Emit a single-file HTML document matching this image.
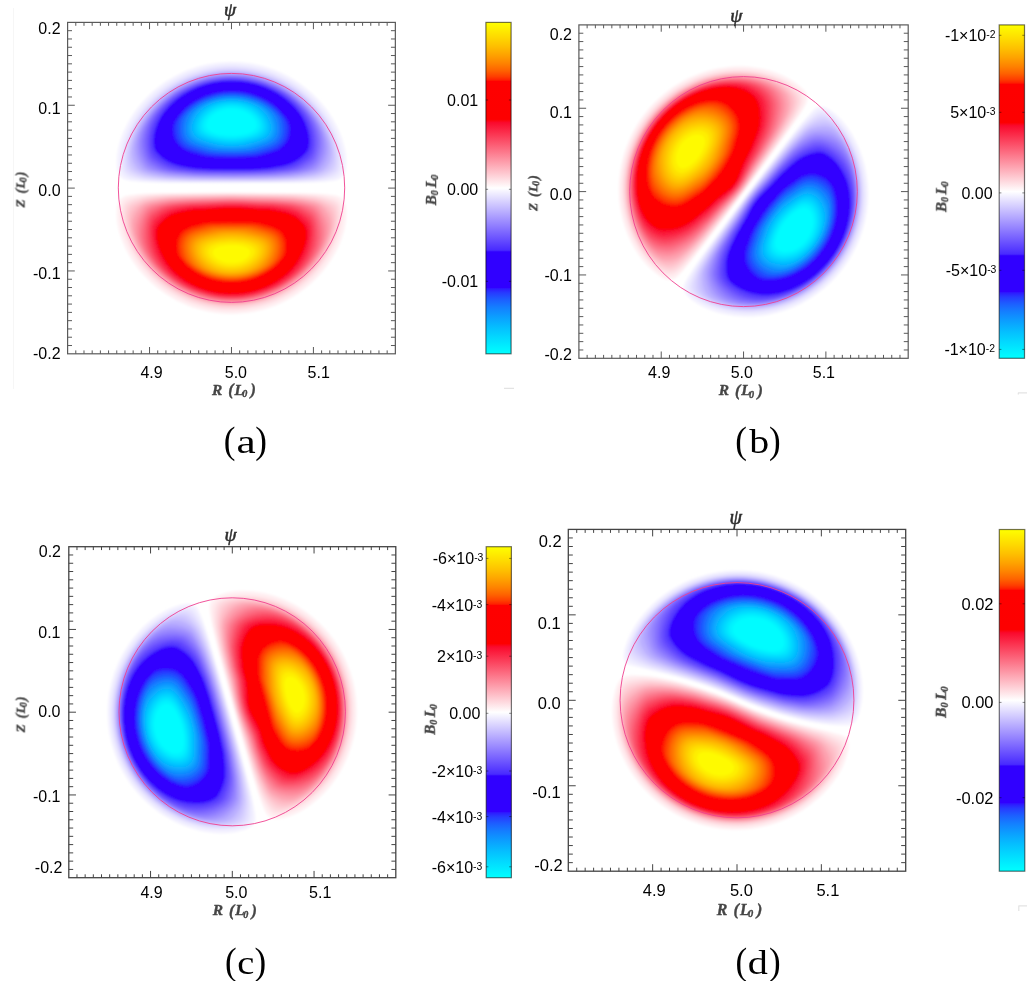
<!DOCTYPE html>
<html lang="en"><head><meta charset="utf-8"><title>psi perturbation panels</title>
<style>html,body{margin:0;padding:0;background:#fff;overflow:hidden}svg{display:block}</style></head>
<body>
<svg width="1027" height="981" viewBox="0 0 1027 981">
<defs><linearGradient id="cb" x1="0" y1="0" x2="0" y2="1"><stop offset="0" stop-color="#feff00"/><stop offset="0.0177" stop-color="#fef000"/><stop offset="0.0444" stop-color="#fed900"/><stop offset="0.071" stop-color="#fec000"/><stop offset="0.0976" stop-color="#fea300"/><stop offset="0.1242" stop-color="#fe8200"/><stop offset="0.1456" stop-color="#fe6200"/><stop offset="0.1633" stop-color="#fe3e00"/><stop offset="0.1722" stop-color="#fe2400"/><stop offset="0.1757" stop-color="#fe1300"/><stop offset="0.1775" stop-color="#fe0000"/><stop offset="0.2925" stop-color="#fd0000"/><stop offset="0.3025" stop-color="#fa0a2d"/><stop offset="0.5" stop-color="#ffffff"/><stop offset="0.6875" stop-color="#482aff"/><stop offset="0.6925" stop-color="#3000ff"/><stop offset="0.8" stop-color="#3000ff"/><stop offset="0.802" stop-color="#2f12ff"/><stop offset="0.806" stop-color="#2c21ff"/><stop offset="0.816" stop-color="#273bff"/><stop offset="0.836" stop-color="#1d5eff"/><stop offset="0.86" stop-color="#147fff"/><stop offset="0.89" stop-color="#0ba0ff"/><stop offset="0.92" stop-color="#05beff"/><stop offset="0.95" stop-color="#02d8ff"/><stop offset="0.98" stop-color="#00f0ff"/><stop offset="1" stop-color="#00ffff"/></linearGradient><filter id="bl" x="-20%" y="-20%" width="140%" height="140%"><feGaussianBlur stdDeviation="0.4"/></filter><filter id="fb" x="-5%" y="-5%" width="110%" height="110%"><feGaussianBlur stdDeviation="0.8"/></filter></defs>
<rect width="1027" height="981" fill="#fff"/>
<g filter="url(#fb)"><path fill="#fff2f4" d="M235.1 313.9l-6 0.1l-7-0.3l-4-0.4l-7-1l-5-1l-7-1.7l-7-2.2l-5-1.9l-5-2.2l-6-2.9l-5-2.8l-5-3.1l-6-4.2l-4-3.1l-4-3.4l-5-4.7l-4.8-5.2l-3.4-4l-3.1-4l-4.1-6l-3-5l-3.2-6l-2.6-6l-2.3-6l-1.8-6l-1.3-6l-0.8-6l-0.2-5l0.2-6l0.6-3l1-3l0.8-1.4l1.4-1.6l2.6-2l2-1l2-0.5l7-1l11-0.9l26-0.6l60-0.3l60 0.3l27 0.6l11 0.9l7 1.1l3 1l2 1.2l1.4 1.2l1.6 2l1.3 3l0.8 3l0.3 5l-0.1 5l-0.6 6l-1.1 6l-1.4 5l-1.6 5l-2.4 6l-2.8 6l-2.8 5l-3.1 5l-4.2 6l-4 5l-3.5 4l-3.9 4l-4.9 4.6l-5 4.1l-4 3l-4 2.8l-5 3.1l-5 2.8l-6 2.9l-5 2.2l-5 1.9l-6 1.9l-5 1.3l-8 1.7l-6 0.9l-5 0.5z"/>
<path fill="#ffebee" d="M245.1 311l-6 0.6l-6 0.2l-7-0.1l-6-0.4l-6-0.8l-6-1l-5-1.2l-7-1.9l-6-2.1l-5-2.1l-6-2.7l-6-3.3l-5-3l-5-3.4l-6-4.7l-4-3.5l-4.9-4.7l-3.7-4l-4.1-5l-3.7-5l-3.9-6l-3.3-6l-2.8-6l-2-5l-2.2-7l-1.6-7l-1-6l-0.4-5l-0.1-4l0.4-4l1.1-3l1.2-2l1-1.4l1.8-1.6l1.2-0.7l4-1.3l9-1.6l8-0.9l12-0.6l12-0.3l56-0.4l62 0.4l12 0.2l13 0.6l8 0.7l10 1.7l4 1.2l2 1l1 0.9l1.8 2.1l1.7 3l0.6 2l0.3 3l0 5l-0.5 6l-1.1 6l-1.1 5l-1.5 5l-1.7 5l-2.1 5l-3 6l-2.9 5l-2.6 4l-3.6 5l-3.2 4l-3.5 4l-3.9 4l-4.4 4l-4.3 3.6l-8 5.9l-5 3.1l-5 2.8l-9 4.3l-5 1.9l-6 2.1l-6 1.7l-5 1.1z"/>
<path fill="#fee4e8" d="M240.1 309.9l-6 0.3l-6 0l-6-0.3l-6-0.7l-5-0.7l-6-1.3l-6-1.6l-6-1.9l-6-2.3l-5-2.3l-5-2.5l-5-2.8l-5-3.2l-4-2.9l-5-3.9l-4.3-3.9l-4.1-4l-4.5-5l-4-5l-3.6-5l-3.1-5l-2.8-5l-2.8-6l-2.4-6l-2-6l-1.6-6l-1-6l-0.4-5l0.1-5l0.6-4l1.3-3l1.4-2l1.2-1.1l1.6-0.9l4.4-1.6l9-2.1l8-1l12-0.7l12-0.4l58-0.5l59 0.5l12 0.4l12 0.7l8 1.1l9 2.1l4.2 1.5l1.7 1l1.1 1l1.4 2l1.3 3l0.6 4l0.2 3l-0.2 4l-0.6 5l-1 5l-1.3 5l-2 6l-1.9 5l-2.8 6l-2.1 4l-3 5l-3.4 5l-3.8 5l-3.4 4l-3.8 4l-4.2 4l-4 3.5l-4 3.1l-4 2.9l-5 3.2l-9 4.9l-6 2.8l-5 1.9l-10 3.2l-10 2.2l-6 0.9z"/>
<path fill="#fedde2" d="M234.1 308.9l-5 0.1l-6-0.3l-5-0.5l-6-0.9l-6-1.2l-6-1.5l-10-3.4l-5-2.1l-5-2.4l-9-5.2l-5-3.3l-4.3-3.3l-4.7-3.9l-4-3.7l-4.1-4.4l-4.3-5l-3.9-5l-3.3-5l-3.1-5l-2.6-5l-2.3-5l-2-5l-1.6-5l-1.3-5l-0.9-5l-0.5-5l0.1-5l0.6-5l0.7-2l1.5-2.3l1-0.9l2-1.3l2-0.9l3-1.1l8-2.2l7-1.1l12-0.9l12-0.5l15-0.3l41-0.4l58 0.6l12 0.4l11 0.8l7 0.7l7 1.5l5 1.5l3 1.1l2 0.9l2.1 1.4l1.7 2l0.9 2l0.7 4l0.3 5l-0.1 4l-0.7 5l-1.1 5l-1.4 5l-1.8 5l-2.1 5l-2.9 6l-2.9 5l-3.2 5l-2.9 4l-4 5l-4.5 5l-4.1 4l-4 3.6l-8 6.2l-4 2.7l-5 3l-5 2.6l-5 2.4l-5 2.1l-5 1.7l-5 1.6l-6 1.5l-6 1.1l-5 0.8l-5 0.5z"/>
<path fill="#fed6dc" d="M245.1 307l-6 0.6l-6 0.2l-6 0l-6-0.4l-6-0.8l-6-1l-5-1.2l-6-1.7l-6-2l-5-2.1l-5-2.3l-5-2.6l-5-3l-5-3.3l-4-3l-5-4.2l-4-3.6l-4.5-4.7l-4.3-5l-3.9-5l-2.7-4l-3.1-5l-2.6-5l-2.4-5l-1.9-5l-1.9-6l-1.1-5l-0.7-5l-0.3-6l0.4-5l0.9-4l1.1-1.6l1.5-1.4l1.5-1l3-1.5l3-1.1l7.6-2.4l3.4-0.7l4-0.5l12-1l11-0.5l15-0.3l40-0.4l56 0.6l12 0.5l11 0.8l8 0.9l6 1.4l8 2.8l2.8 1.4l2.2 1.7l1.3 1.3l0.6 1l0.3 1l0.8 4l0.2 4l-0.2 5l-0.4 4l-1 5l-1.4 5l-1.7 5l-2.1 5l-2 4l-2.7 5l-3.2 5l-2.8 4l-3.1 4l-3.4 4l-3.2 3.4l-4 3.9l-7 6l-3 2.3l-6 4.1l-9 5.1l-9 4.1l-5 1.9l-5 1.6l-9 2.2z"/>
<path fill="#fecfd6" d="M245.1 305.9l-5 0.6l-5 0.3l-6 0l-6-0.3l-10-1.2l-5-1l-8-2l-6-2l-5-1.9l-5-2.2l-5-2.5l-4-2.3l-6-3.8l-4-2.9l-5-3.9l-5-4.5l-4-4l-4.7-5.4l-3.1-4l-3.5-5l-3.1-5l-2.7-5l-2.3-5l-1.9-5l-1.8-6l-1.2-6l-0.5-4l-0.3-5l0.3-4l0.8-3.9l1-2.1l2-1.9l2-1.3l3-1.5l4-1.7l4-1.4l3-0.7l7-1.1l11-1l11-0.5l14-0.4l40-0.5l48 0.6l18 0.6l12 0.9l8 1l6 1.5l3.8 1.4l4.5 2l2.7 1.6l1.9 1.4l1.1 1.4l1.1 2.6l0.5 3l0.3 4l-0.3 5l-0.6 5l-0.8 4l-1.4 5l-1.4 4l-2.1 5l-1.9 4l-2.8 5l-5.2 8l-3.1 4l-3.4 4l-6.9 7.1l-4 3.6l-4 3.2l-8 5.6l-5 3l-4 2.2l-8 3.7l-9 3.3l-6 1.7l-5 1.2z"/>
<path fill="#fec8d0" d="M234.1 306l-5 0l-6-0.3l-5-0.5l-6-0.9l-5-1l-7-1.8l-9-3.1l-9-4l-9-5.1l-4-2.6l-5-3.6l-4-3.3l-4.3-3.9l-4-4l-3.6-4l-3.2-4l-3.6-5l-2.6-4l-2.8-5l-2.4-5l-2.1-5l-1.9-6l-1-4l-0.9-5l-0.4-5l0-4l0.7-4l1.1-2.9l1.4-2.1l1.6-1.3l2.8-1.7l4-2l4.2-1.7l5-1.3l9-1.3l12-1l17-0.6l45-0.7l46 0.7l17 0.6l11 0.9l9 1.2l3 0.7l3 0.9l4 1.6l4 2l3 1.8l1.4 1.2l1.6 2.6l0.9 2.4l0.6 3l0.2 4l-0.4 5l-0.8 5l-0.9 4l-1.9 6l-1.5 4l-2.3 5l-2.6 5l-2.5 4l-3.4 5l-3.1 4l-3.4 4l-3.8 4l-4.1 3.9l-4 3.5l-8 5.9l-5 3.2l-4 2.3l-5 2.5l-5 2.3l-8 2.9l-6 1.8l-5 1.3l-5 0.9l-6 0.9z"/>
<path fill="#fec1ca" d="M240.1 305l-5 0.3l-6 0l-5-0.2l-6-0.6l-7-1.1l-5-1l-10-2.9l-5-1.8l-5-2.2l-5-2.4l-5-2.7l-5-3.1l-4-2.8l-5-3.9l-4.2-3.7l-4.2-4l-3.7-4l-3.3-4l-3.7-5l-3.3-5l-2.8-5l-2.4-5l-2-5l-1.9-6l-1.2-5l-0.8-5l-0.2-5l0.2-3l0.8-3l1.3-3l2.3-3l2.1-1.5l4.5-2.5l5.5-2.3l5-1.2l10-1.4l10-0.9l17-0.7l44-0.6l45 0.6l16 0.7l10.4 0.8l10.6 1.5l5 1.3l5.3 2.2l3.7 2.1l2.9 1.9l2.1 2.8l1.2 2.2l0.9 3l0.4 3l-0.1 4l-0.4 4l-0.7 4l-1.6 6l-1.3 4l-2 5l-1.9 4l-2.7 5l-3.2 5l-2.8 4l-3.2 4l-3.5 4l-7.2 7l-3.9 3.3l-4 3.1l-8 5.3l-9 4.9l-9 3.8l-6 2.1l-4 1.2l-9 2l-6 0.9z"/>
<path fill="#febac4" d="M244.1 304l-5 0.5l-6 0.3l-6-0.1l-5-0.3l-7-0.9l-5-0.8l-5-1.2l-5-1.3l-5-1.7l-6-2.3l-6-2.7l-4-2.1l-5-2.9l-5-3.3l-5-3.7l-4-3.4l-4.5-4.2l-3.8-4l-4.3-5l-3.7-5l-3.2-5l-2.3-4l-2.9-6l-2-5l-1.9-6l-1.2-5l-0.6-5l-0.1-4l0.5-4l1-2.9l1.1-2.1l2.3-3l0.9-1l3-2l3.6-2l3.1-1.3l5-1.4l11-1.7l10-0.9l16-0.7l42-0.7l46 0.7l16 0.7l9 0.7l9 1.3l7 1.4l5 2l3.5 1.9l3 2l1.7 2l2 3l0.9 2l0.9 3.2l0.3 2.8l-0.1 4l-0.5 4l-0.8 4l-1.4 5l-1.8 5l-2.1 5l-2 4l-2.9 5l-2.6 4l-2.9 4l-3.3 4l-6.6 7l-7.3 6.3l-8 5.8l-4 2.5l-5 2.8l-9 4.2l-5 2l-5 1.6l-9 2.3l-5 0.9z"/>
<path fill="#fdb3be" d="M239.1 304l-5 0.2l-6 0l-6-0.4l-5-0.5l-6-1l-5-1.1l-10-2.9l-5-1.8l-5-2.2l-6-3l-5-2.9l-5-3.2l-4-2.9l-4.1-3.4l-4.5-4l-4-4l-4.3-5l-3.8-5l-3.4-5l-2.3-4l-3-6l-2.1-5l-2-6l-1.2-5l-0.6-4l-0.1-4l0.3-3l0.8-3l1.3-3l2-3l2.6-3l4.6-3l4.8-2.1l7-1.5l10-1.5l9-0.7l15-0.7l43-0.8l44 0.8l15 0.7l8 0.6l9 1.3l8 1.6l3 1.1l2 0.9l2.3 1.3l2.9 2l2.6 3l1.4 2l1.6 3l0.9 3l0.5 3l0 3l-0.4 4l-0.8 4l-1.3 5l-1.4 4l-2.1 5l-2.5 5l-2.8 5l-2.7 4l-3.7 5l-3.3 4l-3.8 4l-3.4 3.3l-4 3.5l-4 3.1l-8 5.5l-4 2.3l-5 2.6l-5 2.3l-5 2l-9 2.9l-10 2.2l-5 0.8z"/>
<path fill="#fdacb8" d="M244.1 303l-5 0.5l-6 0.2l-6 0l-6-0.5l-6-0.7l-6-1.1l-5-1.2l-6-1.7l-6-2.2l-5-2.1l-5-2.4l-5-2.8l-4-2.4l-5-3.5l-4.1-3.2l-4.6-4l-4.1-4l-4.5-5l-3.9-5l-3.4-5l-3-5l-3-6l-2.1-5l-1.7-5l-1.2-5l-0.6-4l0-4l0.3-3l0.9-3l1.3-3l2-3l3.3-4l1.4-1l3-1.8l2.6-1.2l2.4-0.8l8-1.6l9-1.3l8-0.7l14-0.6l43-0.9l43 0.8l15 0.7l8 0.7l9 1.3l8 1.7l2.2 0.7l2.8 1.3l2.9 1.7l1.3 1l2.6 3l2.1 3l1.1 2.1l1 2.5l0.8 3.4l0.3 3l-0.1 3l-0.4 3l-0.9 4l-1.5 5l-1.5 4l-2.2 5l-2.1 4l-3 5l-2.7 4l-3.8 5l-6.3 7l-3.6 3.4l-4.1 3.6l-7.9 5.8l-4 2.6l-5 2.8l-9 4.3l-9 3.3l-5 1.5l-5 1.2l-5 0.9z"/>
<path fill="#fda1af" d="M239.1 303l-5 0.2l-6 0l-6-0.3l-5-0.6l-6-1l-5-1.1l-5-1.3l-5-1.6l-5-1.9l-6-2.7l-5-2.6l-5-2.9l-4.9-3.3l-4-3l-4.1-3.3l-4-3.7l-4-4.1l-4.1-4.9l-3.7-5l-3.3-5l-3.3-6l-2.3-5l-1.9-5l-1.5-5l-0.8-4l-0.2-3l0.1-3.7l0.6-3.3l1.1-3l1.5-3l2-3l3.2-4l3.6-2.3l4.3-1.7l9.1-2l9.6-1.3l7-0.6l14-0.7l42-0.8l43 0.8l14 0.7l7 0.6l9 1.2l9 2l4 1.5l3 1.6l1.4 1l2.5 3l2.1 3l1.7 3l1.2 3l0.7 3l0.3 3l0 3l-0.6 4l-0.9 4l-1.7 5l-2 5l-2 4l-2.2 4l-3.2 5l-3.6 5l-3.3 4l-3.7 4l-3 3l-4.5 4l-3.8 3l-4.1 3l-4.3 2.8l-5 2.8l-4 2.1l-9 3.9l-5 1.7l-5 1.5l-5 1.2l-5 0.9l-5 0.7z"/>
<path fill="#fd93a3" d="M241.1 301.9l-6 0.4l-6 0l-5-0.2l-6-0.6l-6-0.9l-5-1.1l-5-1.3l-6-1.9l-5-2l-5-2.2l-5-2.5l-4.5-2.7l-4.6-3l-4.9-3.6l-4-3.4l-4-3.6l-4.2-4.4l-4.2-5l-3-4l-3.3-5l-2.8-5l-2.4-5l-1.9-5l-1.1-4l-0.7-4l-0.2-3l0.3-4l0.6-3l1-3l1.9-4l2.5-4l2.5-3.2l0.8-0.8l1.6-1l2.1-1l2.5-0.8l9-2.1l9-1.4l7-0.6l13-0.7l41-1l43 0.9l20 1.3l8 1.1l8 1.8l5 1.4l2.4 1.1l1.6 1.1l2.6 2.9l2 3l2.2 4l1.2 2.8l1 3.2l0.4 3l0.2 3l-0.2 3l-0.5 3l-1 4l-1.8 5l-1.8 4l-2.6 5l-2.4 4l-2.8 4l-3.1 4l-6.4 7.1l-4 3.9l-4 3.4l-4 3.1l-4 2.8l-4.3 2.7l-4.7 2.6l-9 4.2l-5 1.8l-5 1.6l-5 1.4l-5 1l-5 0.8z"/>
<path fill="#fd8597" d="M242.1 300.9l-6 0.5l-6 0.1l-6-0.3l-5-0.5l-6-0.9l-5-1l-5-1.3l-6-1.9l-5-1.9l-5-2.2l-6-3l-4-2.4l-4-2.6l-5-3.7l-4-3.3l-3.9-3.6l-3.9-4l-3.5-4l-3.1-4l-3.4-5l-2.9-5l-2.3-4.8l-1.5-4.2l-1.1-4l-0.7-4l-0.1-3l0.2-4l0.6-3l1.3-4l2.2-5l1.8-3l2.3-3l2.3-2l2.2-1l2.5-0.8l8.7-2.2l8.3-1.3l19-1.4l41-1.1l11 0.2l20 0.7l12 0.2l19 1.3l8 1.2l8 1.9l5 1.6l1.5 0.7l1.5 1.3l2 2.2l1.8 2.5l2 4l1.7 4l0.9 3l0.6 3l0.2 3l-0.1 4l-1.1 6l-1 3l-2 5l-2.1 4l-2.3 4l-2.7 4l-3 4l-6.2 7l-3.7 3.6l-4 3.5l-4 3.2l-5 3.5l-8 4.7l-9 4.2l-9 3.3l-5 1.4l-5 1.1l-5 0.9z"/>
<path fill="#fc778b" d="M243.1 299.9l-5 0.5l-6 0.2l-6-0.1l-5-0.4l-5-0.6l-6-1.1l-5-1.2l-6-1.8l-5-1.8l-5-2.1l-5-2.5l-5-2.7l-5-3.2l-4-2.9l-4.1-3.3l-4.5-4l-3.9-4l-3.5-4l-3.1-4l-2.8-4l-2.9-5l-1.9-4l-1.5-4l-1.1-4l-0.6-4l-0.2-4l0.2-3l0.7-4l1.5-5l1.7-4l1.7-3l2.3-2.9l1.2-1.1l1.8-1.2l1.6-0.8l2.8-1l7.6-2l8-1.3l19-1.5l41-1.1l10 0.1l20 0.8l12 0.2l12 0.8l7 0.7l7.8 1.3l7.6 2l2.8 1l1.8 1l2.7 2l1.7 2l1.9 3l1.4 3l1.4 4l1.1 4l0.5 3l0.2 3l-0.2 4l-0.4 3l-0.7 3l-0.9 3l-1.6 4l-2 4l-1.8 3l-2.6 4l-3 4l-3.4 4l-2.9 3l-3.4 3.3l-4 3.5l-4 3.1l-4 2.8l-8 4.8l-4 2l-5 2.3l-5 1.9l-5 1.7l-9 2.2z"/>
<path fill="#fc697f" d="M244.1 299l-5 0.5l-6 0.3l-6-0.1l-5-0.3l-6-0.8l-5-0.8l-5-1.2l-5-1.4l-5-1.7l-5-2l-5-2.3l-5-2.7l-5-3.1l-4-2.7l-4-3.1l-4.2-3.7l-4.1-4l-3.7-4l-3.1-4l-2.8-4l-2.4-4l-1.9-4l-1.5-4l-1.2-4l-0.6-4l-0.3-4l0.2-4l0.7-4l1.2-5l1.1-3l1.6-3.2l2-2.7l2.5-2.1l5.6-3l3-1l3.9-1l7-1.2l6.9-0.8l12.1-0.9l40-1.2l11 0.1l19 0.8l12 0.3l12 0.8l7 0.8l7.8 1.3l3.9 1l3 1l5.3 2.9l2 1.5l2 2.3l1.5 2.3l1.3 3l1 3l0.9 4l0.7 4l0.2 4l-0.1 3l-0.4 3l-0.7 3l-1.2 4l-1.2 3l-1.9 4l-1.8 3l-2.3 3.5l-2.6 3.5l-3.4 4l-2.8 3l-6.6 6l-7.6 5.7l-8 4.9l-8 3.9l-5 2l-5 1.7l-9 2.4z"/>
<path fill="#fc5b72" d="M236.1 299l-5 0.1l-6-0.2l-5-0.5l-5-0.7l-5-0.9l-5-1.2l-5-1.5l-5-1.8l-5-2.1l-4-1.9l-4.4-2.4l-4.6-2.8l-4-2.7l-4-3.1l-4-3.4l-3.1-3l-2.8-3l-3.4-4l-2.9-4l-1.8-3l-2.2-4l-1.7-4l-1-3l-1-4l-0.5-4l-0.1-4l0.2-4l0.7-5l1-4l1.2-3l1.4-2.5l2-2.4l1.4-1.1l3.2-2l5.9-3l4.5-1.2l6-1.1l7-0.8l12-0.9l12-0.3l19-0.8l10-0.2l10 0.2l18 0.8l12 0.3l12 0.9l7 0.8l6 1.1l4.3 1.2l5.9 3l3.2 2l1.6 1.4l2 2.5l1.2 2.1l1.2 3l0.7 3l0.9 5l0.3 4l0 4l-0.5 4l-0.8 4l-1 3l-1.1 3l-2 4l-3.9 6.4l-2.7 3.6l-2.6 3l-5.9 6l-3.5 3l-4.3 3.3l-4 2.8l-4 2.4l-4.5 2.5l-4.5 2.2l-9 3.6l-9 2.6l-5 1.1l-5 0.8z"/>
<path fill="#fb4d66" d="M240.1 298l-5 0.3l-5 0.1l-5-0.2l-5-0.5l-5-0.7l-5-0.9l-5-1.3l-5-1.5l-5-1.8l-5-2.1l-5-2.4l-3.6-2.1l-4.8-3l-4.2-3l-3.7-3l-3.4-3l-3-3l-3.6-4l-2.3-3l-2.6-4l-1.7-3l-1.9-4l-1.5-4l-1.1-4l-0.7-4l-0.3-5l0.2-5l0.4-4l0.7-3l1.1-3.4l1.4-2.6l1.6-1.9l4.1-3.1l5.9-3.3l4.1-1.7l5.9-1.2l7-0.9l12-1l12-0.3l18-0.9l10-0.1l10 0.1l18 0.9l13 0.3l12 1l7 0.9l5.7 1.2l4.3 1.8l5.7 3.2l4 3l1.7 2l1.1 2l1.1 3l0.8 3l0.5 4l0.3 4l0 4l-0.4 4l-0.8 4l-0.9 3l-2.4 6l-1.5 3l-2.5 4l-4.5 6l-5.7 6l-3.3 3l-3.8 3l-7.3 5l-8.1 4.4l-8.2 3.6l-8.8 2.9l-9 2z"/>
<path fill="#fb3f5a" d="M243.1 297l-5 0.5l-5 0.2l-5-0.1l-5-0.3l-5-0.5l-5-0.8l-5-1.1l-5-1.4l-4.9-1.6l-5.1-2l-8.3-4l-3.5-2l-4.6-3l-4.1-3l-3.6-3l-3.2-3l-2.8-3l-2.6-3l-2.9-4l-2.5-4l-1.6-3l-1.7-4l-1.3-4l-0.9-4l-0.7-5l-0.2-5l0.2-4l0.6-4l0.8-3l1.5-3l1.4-2l4-3.2l5-3.1l5-2.3l5-1.5l6.1-0.9l12.9-1.2l13-0.4l17-0.8l9-0.2l11 0.2l18 0.8l12 0.3l12 1.1l6 0.8l2.3 0.4l2.7 0.8l5.5 2.2l5.2 3l4.3 3.3l1.6 1.7l1.2 2l1.2 3l0.7 3l0.4 3l0.2 4l-0.2 4l-0.4 4l-0.7 4l-0.8 3l-2.3 6l-2 4l-1.8 3l-4.4 6l-2.7 3l-2.9 3l-5.8 5l-7.1 5l-7 4l-8.2 3.7l-8 2.9l-8 2z"/>
<path fill="#fb314e" d="M235.1 296.9l-9 0l-9.1-1l-4.9-0.8l-5-1.2l-9-2.8l-5.4-2.2l-4.2-2l-7.2-4l-7.1-5l-5.7-5l-5.6-6l-4.3-6l-1.8-3l-2-4l-1.2-3l-1.3-4l-0.9-4l-0.7-5l-0.3-4l0.1-4l0.3-3l0.7-3l1.3-3l1.4-2l4.6-4l2.9-2l2.4-1.4l3-1.4l3-1.2l6-1.5l4-0.6l12-1.3l12-0.3l16-0.8l10-0.3l11 0.2l18 0.9l12 0.3l14 1.6l7 1.6l5.6 2.2l5.1 3l2.7 2l2.6 2.3l1.5 1.7l1.1 2l1.1 3l0.5 3l0.3 3l0 4l-0.5 5l-0.7 4l-1 4l-1 3l-1.7 4l-1.5 3l-3.8 6l-4.9 6l-5.1 5l-6.3 5l-4.4 3l-3.4 2l-8 4l-8.2 3.2l-9 2.5l-9 1.6z"/>
<path fill="#fb2342" d="M239.1 296l-9 0.3l-9-0.6l-5.8-0.8l-4.2-0.8l-8.2-2.2l-8.1-3l-4.4-2l-3.9-2l-3.4-2l-4.5-3l-6.3-5l-3.1-3l-2.9-3l-4.6-6l-1.9-3l-2.2-4l-1.4-3l-1.4-4l-1.1-4l-1-5l-0.5-4l-0.2-4l0.2-3l0.6-3l1.1-3l1.3-2l1.9-2l3-2.6l5-3.4l5-2.3l6-1.7l7-1.3l8-1.1l13-0.4l22-1.1l13 0.1l19 1l11 0.2l5 0.5l7.6 1.1l7.4 1.5l5 1.7l3 1.4l2.4 1.4l2.9 2l2.4 2l3.3 3.5l1 1.6l1.1 2.9l0.6 3l0.2 3l-0.1 3l-0.4 4l-0.7 4l-1 4l-1.3 4l-1.2 3l-1.9 4l-1.8 3l-2.7 4l-2.4 3l-2.7 3l-3 3l-6.1 5l-5.8 4l-7.3 4l-6.8 3l-9.1 3l-9 2z"/>
<path fill="#fa1536" d="M242.1 294.9l-5 0.5l-5 0.1l-9-0.3l-8.9-1.3l-8.4-2l-8.7-3l-8-3.7l-7.1-4.3l-6.7-5l-3.3-3l-2.9-3l-2.6-3l-2.4-3.1l-2-3l-2.2-3.9l-1.8-4l-1.5-4l-1.2-4l-0.9-4l-0.7-4l-0.2-4l0.2-3l0.6-3l1.2-3l1.5-2l4.1-4l2.6-2l2.3-1.5l5-2.5l6-1.7l13-2.4l3-0.3l11-0.4l21-1.2l15 0.1l18 1l10 0.4l5 0.5l11.6 2l6.4 1.8l3 1.2l3 1.6l4.7 3.4l4.3 4.3l1.3 1.7l0.7 1.6l0.7 2.4l0.4 2l0.2 3l-0.1 3l-0.6 4l-0.8 4l-1.1 4l-1.5 4l-1.7 4l-1.6 3l-2.5 4l-2.2 3l-2.5 3l-2.8 3l-5.6 5l-5.4 4l-6.9 4.2l-3.7 1.8l-4.5 2l-8.7 3l-8.4 2z"/>
<path fill="#fa0a2d" d="M243.1 293.9l-9 0.7l-9-0.2l-8-0.9l-4-0.7l-5-1.2l-8.3-2.7l-4.8-2l-3.9-1.8l-7.1-4.2l-6.7-5l-3.4-3l-3-3l-2.8-3.2l-2.7-3.8l-2-3l-2.2-4l-1.8-4l-1.5-4l-1.2-4l-0.9-4l-0.5-4l-0.1-3l0.3-3l0.9-3l1-2l1.6-2l3.9-4l4.2-3.1l2-1.1l3-1.4l5-1.6l5-1.1l11-1.9l13-0.5l14-1.2l5-0.2l8-0.1l8 0.2l15 1.2l11 0.4l5 0.5l12 2.3l5.8 1.6l2.5 1l2.7 1.5l2.4 1.5l2.6 2l3.9 4l1.5 2l1.1 2l0.7 2l0.3 2l0.1 5l-0.3 3l-0.8 4l-1.2 4l-1.4 4l-1.3 3l-2 4l-2.4 4l-2.1 3l-4.1 5l-5.2 5l-6.5 5l-6.4 4l-7.9 3.8l-7 2.6l-8 2.2z"/>
<path fill="#fb061b" d="M238.1 294l-9 0.2l-8-0.6l-4.9-0.7l-4.1-0.8l-8-2.2l-7.9-3l-4.2-2l-3.7-2l-3.2-2l-4.3-3l-6-5l-2.9-3l-2.7-3l-2.3-3l-2.6-4l-1.7-3l-2-4l-1.9-5l-1.3-4l-0.9-4l-0.4-3l-0.1-3l0.2-3l0.4-2l0.8-2l1.3-2l2.5-3l2-2l2.4-2l4.5-2.9l4-1.7l6-1.6l11-2.1l3-0.3l12-0.5l15-1.2l8-0.4l11 0.3l16 1.2l12 0.5l4 0.5l11 2.1l6 1.6l3 1.3l2.4 1.2l2.9 2l2.4 2l3.7 4l1.6 2.2l0.9 1.8l0.6 2l0.4 3l-0.2 5l-0.5 3l-1 4l-1.3 4l-1.6 4l-2 4l-1.7 3l-2.6 3.9l-2.3 3.1l-2.7 3l-2.9 3l-6 5l-5.9 4l-7.2 3.9l-7.3 3.1l-7.7 2.4l-7.3 1.6z"/>
<path fill="#fc030d" d="M234.1 293.9l-8-0.1l-9-1l-8.7-1.9l-8.3-2.7l-7.4-3.3l-7-4l-3.6-2.4l-3.3-2.6l-5.4-5l-2.8-3l-3.1-4l-2.1-3l-2.3-4l-2-4l-1.6-4l-1.4-4l-1-4l-0.5-3l-0.2-3l0.2-3l0.5-2.8l0.9-2.2l0.7-1l2.3-3l1.9-2l3.5-3l2.7-1.8l2-1l5-1.9l6-1.5l9-1.7l4-0.5l11-0.4l16-1.2l9-0.3l8 0.2l17 1.3l12 0.5l3.2 0.3l8.8 1.7l6 1.3l3 1l2.5 1l4.5 2.7l4 3.4l2 2.1l2.2 2.8l0.8 1.4l0.7 1.6l0.5 2l0.3 3l-0.1 3l-0.4 3l-0.9 4l-1.3 4l-1.6 4l-1.9 4l-2.2 4l-2 3l-4.7 6l-5 5l-6.2 5l-6.3 4l-3.7 2l-4.3 2l-7.9 3l-7.6 2l-8.4 1.4z"/>
<path fill="#fe0000" d="M243.1 292.9l-9 0.8l-9-0.2l-5-0.5l-4-0.7l-8-1.8l-8-2.6l-4.6-2l-4-2l-6.7-4l-6.6-5l-3.3-3l-2.9-3l-2.9-3.5l-2.5-3.5l-1.9-3l-2.2-4l-1.8-4l-1.9-5l-1.1-4l-0.7-4l-0.1-3l0.1-3l0.4-2l0.8-2l1.2-2l2.4-3l1.9-2l2.3-2l4.1-2.8l4-1.8l6-1.7l11-2.2l3-0.4l13-0.6l14-1.1l7-0.3l11 0.1l16 1.3l11 0.4l5 0.5l11 2.1l6 1.6l2.4 0.9l2.6 1.4l2.6 1.6l2.4 1.9l2.2 2.1l1.8 2l2.7 4l0.8 2l0.4 2l0.1 2l0 3l-0.4 3l-0.9 4l-1 3l-1.5 4l-3.4 7l-2.5 4l-2.1 3l-4.3 5l-5.2 5l-6.6 5l-6.1 3.7l-6.9 3.3l-7.1 2.7l-8 2.1z"/>
<path fill="#fe1900" d="M233.1 281.9l-5 0l-5-0.3l-6-1l-4-1l-6-1.9l-5-2.1l-6-3.1l-6-4.1l-5-4.5l-3.6-4l-2.8-4l-1.4-3l-0.8-3l-0.2-3l0.1-3l0.3-2l0.7-3l1.2-3l1.2-2l1.7-2l1.6-1.4l2-1.3l4-1.9l6-1.8l8-2.1l3-0.4l7-0.6l16-0.2l21 0.2l9 0.8l9 2.3l6 1.9l4 1.9l3 2.3l1.3 1.3l1.4 2l1.1 2l0.7 2l1 5l0 5l-0.6 3l-1.2 3l-1.1 2l-2.1 3l-2.7 3l-4.8 4.5l-4 3l-7 4.1l-7 3.1l-6 2l-4 0.9l-7 1.1z"/>
<path fill="#fe2800" d="M239.1 281l-6 0.5l-6-0.2l-7-0.8l-6-1.2l-6-1.8l-7-3l-6-3.3l-5-3.6l-4.1-3.7l-3.6-4l-2.7-4l-1-2l-0.6-2l-0.6-5l0.1-3l0.3-2l1.1-4l1-2l1.3-2l1.8-2l2-1.5l3-1.6l4-1.5l12-3.2l4-0.6l6-0.3l26-0.2l10 0.2l6 0.4l4 0.7l11 3.1l5 2l3 1.9l2.6 2.6l1.9 3l1.3 4l0.6 4l-0.1 4l-0.7 4l-1.4 3l-2.7 4l-3.6 4l-3.9 3.5l-6 4.2l-5 2.8l-5 2.2l-5 1.8l-7 1.7z"/>
<path fill="#fe3600" d="M242.1 280l-6 0.7l-7 0.1l-6-0.5l-7-1.2l-6-1.6l-6-2.3l-6-3l-6-3.9l-4-3.4l-3.8-4l-2.9-4l-1-2l-0.7-2l-0.7-5l-0.1-3l0.2-2l1-4l0.9-2l1.3-2l1.7-2l2.1-1.6l3-1.6l3-1.2l13-3.6l4-0.6l5-0.2l25-0.2l10 0.2l6 0.4l4 0.7l11 3.1l4 1.5l3.7 2.1l2.1 2l2.1 3l0.9 2l0.6 2l0.6 4l-0.2 5l-0.9 4l-1.4 3l-2 3l-3.6 4l-3.9 3.4l-4 2.9l-5 2.9l-5 2.4l-5 1.9l-7 1.9z"/>
<path fill="#fe4400" d="M237.1 280l-6 0.3l-7-0.5l-5-0.7l-7-1.6l-6-2.1l-6-2.8l-5-3l-4.8-3.7l-3.2-3l-3.3-4l-1.8-3l-0.7-2l-0.5-2l-0.6-5l0.2-3l0.3-2l0.5-2l0.8-2l1.9-3l2.1-2l2.1-1.4l3-1.4l5-1.7l11-2.9l5-0.5l7-0.3l24 0l7 0.2l5 0.5l3 0.6l12 3.4l4 1.7l3 1.9l1 0.9l1.7 2l1.6 3l0.9 3l0.5 4l-0.3 4l-1.1 5l-1.5 3l-2.2 3l-3.8 4l-4.8 3.8l-4 2.6l-6 3.1l-5 2l-6 1.8l-6 1.2z"/>
<path fill="#fe5200" d="M240.1 279l-6 0.5l-7-0.1l-6-0.7l-6-1.2l-6-1.8l-6-2.5l-5-2.7l-5.2-3.6l-3.5-3l-3.5-4l-1.8-3l-1.4-4l-0.7-5l0-3l0.2-2l0.5-2l0.7-2l1.9-3l2-2l2.8-1.7l3-1.4l4-1.3l11-2.9l5-0.6l7-0.3l23 0l7 0.3l4 0.4l3 0.7l12 3.5l4 1.7l2.6 1.6l2 2l1.9 3l1 3l0.5 4l-0.3 4l-1.1 5l-1.3 3l-2.1 3l-2.7 3l-3.5 3l-4.3 3l-4.7 2.7l-4 1.8l-6 2.2l-6 1.5z"/>
<path fill="#fe6200" d="M242.1 278l-6 0.7l-7 0.1l-6-0.5l-6-1l-6-1.7l-6-2.3l-5-2.5l-4.5-2.9l-3.7-3l-3.8-4l-2-3l-1.5-4l-1-5l0-4l0.2-2l0.6-2l0.8-2l0.9-1.4l1.3-1.6l2.6-2l3.1-1.6l3-1.1l13-3.6l4-0.6l6-0.3l21-0.1l7 0.2l5 0.5l3.4 0.6l11.6 3.3l4 1.7l3 1.8l2 1.8l1.7 2.4l1.1 3l0.5 3l0 4l-0.7 4l-1.4 4l-1.6 3l-2.5 3l-3.2 3l-3.9 2.9l-4 2.4l-5 2.5l-5 1.9l-5 1.4z"/>
<path fill="#fe6f00" d="M236.1 278l-6 0.1l-6-0.4l-6-1l-5-1.2l-5-1.7l-5-2.3l-4.5-2.6l-4.1-3l-3.2-3l-2.3-3l-2-4l-1.2-4l-0.6-4l0.2-4l0.9-3l1-2l0.8-1.2l1-1.1l2-1.5l4-2.1l5-1.7l9-2.4l3-0.6l4-0.4l11-0.4l16 0.2l5 0.3l4 0.5l10 2.6l5 1.6l4 1.9l3 2.3l1.6 2l1.4 3l0.6 3l0 4l-0.8 4l-1.4 4l-1.5 3l-2.3 3l-3.2 3l-4.1 3l-4.3 2.5l-4 1.8l-5 1.9l-5 1.4l-5 0.9z"/>
<path fill="#fe7d00" d="M238.1 277l-6 0.3l-6-0.2l-6-0.8l-5-1.1l-5-1.6l-5-2.1l-4.6-2.6l-4.3-3l-3.1-3l-1.5-2l-2.2-4l-0.8-2l-0.9-3l-0.6-4l0.1-3l0.8-3l1.6-3l2-2l2.5-1.6l3-1.4l4-1.3l12-3.1l5-0.5l6-0.3l16 0l6 0.4l4 0.5l8 1.9l6 1.8l4 1.6l3.3 2l2 2l1.6 3l0.8 3l0.1 3l-0.6 4l-1.3 4l-1.9 4l-2.2 3l-3.1 3l-2.7 2l-4 2.4l-4 2l-4.1 1.6l-4.9 1.5l-4 0.9z"/>
<path fill="#fe8b00" d="M240.1 275.9l-5 0.5l-6 0.1l-6-0.5l-5-0.9l-5-1.4l-5-1.8l-4-2l-4.7-3l-3.5-3l-2.3-3l-2.3-4l-1.6-4l-0.7-4l0-3l0.7-3l0.9-2l0.6-1l1.9-1.9l2-1.3l3-1.5l4-1.4l13-3.2l4-0.5l6-0.3l14 0l5 0.3l4 0.5l8 1.9l6 1.7l4.4 1.7l3.3 2l2 2l0.6 1l0.9 2l0.7 3l0 3l-0.5 3l-1.3 4l-2.1 3.9l-2.1 3.1l-1.9 2l-2.5 2l-3 2l-4.5 2.4l-4 1.7l-4 1.3l-4 0.9z"/>
<path fill="#fe9900" d="M240.1 275l-5 0.5l-6 0.1l-5-0.4l-5-0.9l-5.2-1.4l-4.8-1.8l-4.4-2.2l-3-2l-2.6-2.1l-3.2-3.9l-1.9-3l-1.8-4l-1-4l-0.1-3l0.6-3l1.4-2.8l2-2l2-1.3l3-1.5l4-1.3l12.5-3.1l4.5-0.5l5-0.3l12 0l5 0.4l3.3 0.4l7.7 1.8l6 1.7l4.1 1.5l3.5 2l2 2l1.2 2l0.9 3l0.1 3l-0.5 3l-1 3l-2 4l-2 3l-1.7 2l-2.1 2l-2.7 2l-3.5 2l-3.3 1.5l-4 1.5l-4 1.1z"/>
<path fill="#fea800" d="M240.1 274l-5 0.6l-5 0.1l-5-0.4l-4-0.6l-5-1.2l-4.6-1.6l-4.2-2l-3.1-2l-3.4-3l-2.6-3l-2.1-3l-1.8-4l-1-4l0-3l0.8-3l1-1.8l2-2l2-1.3l3-1.4l4-1.3l6-1.5l7-1.5l4-0.5l5-0.2l10 0.1l4 0.4l4 0.7l8 1.8l5 1.4l4 1.6l2.5 1.5l2.1 2l1.2 2l0.7 2l0.2 3l-0.5 3l-0.9 3l-1.6 3l-1.7 2.6l-2 2.4l-3 2.9l-2.7 2.1l-1.7 1l-3.6 1.7l-3.3 1.3l-3.7 1.1z"/>
<path fill="#feb600" d="M239.1 273l-5 0.5l-4 0l-4-0.2l-4-0.6l-4-0.9l-5-1.7l-2.4-1.2l-3.6-2.2l-3.4-2.8l-2.9-3l-2.2-3l-1.6-3l-1-3l-0.4-3l0.4-3l1.1-2.3l1.5-1.7l2.5-1.7l2.7-1.3l3.3-1.2l5-1.3l7-1.4l5-0.7l5-0.3l5 0l5 0.4l5 0.7l6 1.2l5 1.2l4 1.4l3 1.4l2 1.4l1.3 1.2l1.2 2l0.6 2l0.1 3l-0.3 2l-1 3l-1.6 3l-1.4 2l-2.6 3l-2.2 2l-3.1 2.3l-2.8 1.7l-2.2 1.1l-4 1.4l-3 0.8z"/>
<path fill="#fec400" d="M236.1 271.9l-4 0.3l-4-0.2l-3-0.3l-4.2-0.8l-3.8-1.2l-4-1.7l-3-1.7l-3-2.1l-2.6-2.3l-2.4-2.7l-1.5-2.3l-1.5-3l-0.8-3l0-3l0.6-2l1.2-1.9l2-1.8l2-1.1l2.7-1.2l3.3-1l5-1.2l5-0.9l5-0.6l5-0.3l4 0l5 0.4l5 0.7l5 0.9l4 1l4 1.4l3 1.5l1.7 1.1l1.3 1.4l1 1.7l0.6 1.9l0 3l-0.5 2l-1.2 3l-1.9 3l-1.7 2l-2 2l-2.5 2l-2.8 1.9l-3 1.6l-3.7 1.5l-3.3 1z"/>
<path fill="#fed200" d="M236.1 270l-3 0.2l-4 0l-4-0.5l-3-0.6l-3-0.9l-3.3-1.3l-2.7-1.3l-3-1.9l-2.3-1.8l-2-2l-1.7-2l-1.8-3l-1-3l-0.1-2l0.2-2l1-2l1.7-1.8l1.8-1.2l2.2-1.1l4-1.3l4-0.9l5-0.9l5-0.5l4-0.2l4 0l5 0.4l5 0.6l4.5 0.9l3.5 1l3 1.1l3 1.5l1.7 1.4l0.8 1l1 2l0.2 2l-0.1 2l-0.6 2l-0.9 2l-1.3 2l-1.8 2.1l-1.9 1.9l-2.1 1.6l-2.1 1.4l-2.9 1.6l-3 1.3l-3 1l-3 0.7z"/>
<path fill="#fee000" d="M235.1 268l-3 0.1l-3 0l-3-0.3l-3-0.6l-3-0.9l-3-1.1l-2.5-1.3l-2.5-1.5l-2-1.6l-2-1.9l-1.5-2l-1.5-2.6l-0.7-2.4l0-2l0.5-2l0.7-1l1.5-1.5l2-1.3l2.9-1.2l2.1-0.7l4-0.9l4-0.6l8-0.6l8 0.3l4 0.4l4 0.8l3 0.7l3 1l3 1.6l1.4 1l0.9 1l1 2l0.2 1l0 2l-0.6 2l-0.9 2l-1.4 2l-1.6 1.8l-2 1.7l-2 1.5l-4 2.2l-5 1.8l-3 0.6z"/>
<path fill="#feee00" d="M239.1 264.9l-5 0.8l-3 0.1l-3-0.1l-3-0.5l-3-0.7l-3-1.1l-2-1l-4-2.6l-2-1.9l-1.5-2l-1-2l-0.5-2l0.2-2l0.4-1l0.8-1l1.6-1.4l2-1.1l2-0.8l3-0.8l3-0.6l7-0.8l7 0l7 0.8l3.4 0.7l2.6 0.8l2.8 1.2l1.5 1l1.1 1l0.8 1l0.6 2l0 1l-0.5 2l-1.7 3l-2.6 2.7l-3.3 2.3l-3.7 1.8z"/>
<path fill="#fefa00" d="M235.1 263l-5 0.2l-4-0.5l-4-1.1l-3.6-1.7l-2.7-2l-1.7-1.7l-0.8-1.3l-0.6-2l-0.1-1l0.2-1l0.6-1l0.9-1l1.4-1l3.4-1.4l5-1.1l6-0.5l6 0.2l5.7 0.8l4.3 1.4l2.6 1.6l0.9 1l0.6 1l0.1 2l-0.6 2l-1.6 2.1l-2.1 1.9l-3.4 2l-3.5 1.3z"/>
<path fill="#f5f3ff" d="M293.1 182.9l-62 0.3l-63-0.3l-24-0.6l-9-0.7l-6-0.8l-4-1l-1.8-0.9l-1.5-1l-1.7-1.5l-1-1.3l-1.4-3.2l-0.8-3l-0.3-7l0.3-6l0.9-6l1.1-5l1.4-5l1.4-4l2-5l2.9-6l2.1-4l3-5l2.7-4l3-4l4-5l3.6-4l4.1-4.1l5-4.5l4-3.3l5-3.7l4-2.7l9-5.2l6-2.9l5-2.2l5-1.8l6-2l9-2.2l5-0.9l7-1l11-0.6l5 0.1l7 0.4l10 1.3l8 1.7l7 1.9l7 2.5l7 2.9l8 4l6 3.6l6 4l7 5.5l5 4.4l5.8 5.8l5.2 6l4.5 6l3.9 6l3.9 7l3.3 7l2.3 6l1.8 6l1.4 6l0.8 5l0.4 6l-0.2 6l-0.2 2l-0.4 2l-0.6 2l-0.9 1.8l-1.7 2.2l-2.3 1.8l-2.6 1.2l-3.4 0.8l-4 0.6l-7 0.7l-7 0.4z"/>
<path fill="#eeecff" d="M302.1 181.9l-15 0.4l-28 0.3l-71-0.1l-20-0.3l-14-0.5l-9-0.6l-8-1l-6-1.1l-4-1.4l-1.4-0.7l-1.3-1l-1.3-1.3l-1.1-1.7l-1.5-3l-0.6-4l0-6l0.8-7l1.9-9l1.8-6l1.4-4l2.1-5l2.5-5l2.2-4l3.1-5l2.8-4l3.8-5l3.5-4l3.8-4l4.2-4l4.3-3.7l8-5.9l8-5l5-2.6l5-2.4l5-2.1l5-1.8l6-1.9l5-1.2l5-1.1l6-0.9l6-0.7l5-0.3l6 0l5 0.1l11 1.2l6 1.1l8 1.9l6 1.9l7 2.6l7 3.2l6 3.2l5 3l6 4.1l6 4.7l5 4.4l5.2 5.2l4.4 5l3.8 5l4.1 6l3 5l3 6l2.9 7l2.3 7l1.7 7l1.1 6l0.6 7l-0.2 5l-0.5 3l-1.5 3l-1.9 2.5l-1.8 1.5l-2.2 1l-4 1.2l-6 1.2l-6 0.7z"/>
<path fill="#e8e4ff" d="M269.1 181.9l-62 0.1l-35-0.4l-12-0.5l-12-0.8l-6-0.7l-5-1l-5.8-1.7l-2.2-0.9l-1.9-1.1l-1.1-0.8l-1.1-1.2l-1.7-3l-0.6-2l-0.4-3l-0.2-5l0.5-6l1.1-6l1-4l1.9-6l1.9-5l2.3-5l4.9-9l3.2-5l2.9-4l3.1-4l3.5-4l3.9-4l3.8-3.5l5-4.2l4-3l4-2.8l5-3l9-4.7l5-2.2l5-1.9l10-3.1l5-1.2l6-1l6-0.8l5-0.4l5-0.1l6 0l6 0.4l6 0.8l10 1.9l8 2.2l8 2.9l7 3.1l8 4.2l6 3.8l7 5.1l6 5.1l5.5 5.4l5.3 6l4.5 6l4.5 7l3.8 7l3.2 7l2.8 8l1.9 7l1.1 7l0.2 4l-0.1 4l-0.3 3l-0.8 3l-1 2l-1.6 2l-2 1.4l-3.4 1.6l-3.6 1.1l-5 1.2l-4 0.6l-5 0.6l-19 1z"/>
<path fill="#e2ddff" d="M289.1 180.9l-19 0.5l-31 0.2l-49-0.3l-18-0.4l-10-0.5l-13-1l-6-0.9l-6.3-1.6l-5.3-2l-3.4-2l-1.1-1l-1.4-2l-0.5-1l-0.6-3l-0.5-5l0.2-6l0.8-6l0.9-4l1.5-5l1.5-4l2.1-5l1.9-4l2.7-5l3.1-5l2.8-4l3.1-4l3.3-4l3.2-3.5l4-3.9l8-6.9l4-2.9l5-3.4l9-5l9-4.1l5-1.8l6-1.9l10-2.3l5-0.8l6-0.7l10-0.4l10 0.6l5 0.5l6 1l8 1.9l6 1.8l6 2.2l7 3.1l6 3.1l6 3.6l6 4.2l6 4.8l6 5.6l5 5.2l3.3 4l5.2 7l3.8 6l3.2 6l2.7 6l2.3 6l1.7 6l1 5l0.6 5l0.1 4l-0.3 5l-0.8 4l-1.1 2l-1.7 1.8l-3 1.9l-2.9 1.3l-5.1 1.6l-5 1.2l-5 0.7l-8 0.7z"/>
<path fill="#dcd6ff" d="M260.1 180.9l-28 0.2l-26-0.1l-16-0.2l-17-0.5l-12-0.7l-11-1.1l-5-0.7l-5-1.3l-5-1.8l-4-2.1l-3-2.5l-0.8-1.2l-0.4-1l-0.6-2l-0.5-3l-0.2-3l0.1-4l0.8-7l0.8-4l1.1-4l1.4-4l2-5l1.8-4l2.7-5l5.1-8l3-4l4.1-5l3.8-4l3.8-3.7l4-3.6l4-3.2l4-2.9l5-3.3l5-2.9l4-2.1l9-4l9-3.1l6-1.6l5-1l10-1.4l10-0.5l5 0.1l6 0.4l10 1.4l4 0.9l7 1.8l9 3.1l7 3l6 3.1l7 4.3l7 4.9l6 5l5.6 5.3l4.6 5l5.6 7l4 6l3.4 6l3.4 7l2.6 7l1.8 7l0.9 6l0.4 7l-0.2 3l-0.5 3l-1 3l-0.6 1l-2.2 2l-2.8 1.7l-4 1.8l-5 1.6l-3 0.7l-4 0.7l-16 1.5l-23 0.8z"/>
<path fill="#d5ceff" d="M282.1 179.9l-14 0.4l-33 0.3l-45-0.4l-17-0.6l-9-0.5l-11.5-1.2l-7.5-1.2l-5.6-1.8l-5.4-2.5l-3.5-2.5l-0.9-1l-0.6-1l-0.9-2l-0.6-2l-0.5-5l0-3l0.3-4l1.2-7l2.4-8l1.5-4l2.3-5l2.6-5l2.5-4l2.7-4l3-4l6-7l3.5-3.6l4-3.6l4-3.3l4-3.1l4-2.7l5-3.1l4-2.2l6-2.9l5-2.1l5-1.9l10-2.8l5-1.1l5-0.8l5-0.6l6-0.4l9 0l10 0.9l10 1.8l7 1.9l7 2.3l7 2.9l6 2.9l5 2.9l6 3.8l6 4.5l5 4.2l5.3 5.1l5.4 6l3.9 5l4.1 6l2.9 5l2.9 6l2.4 6l1.9 6l1.1 5l0.7 5l0.2 4l-0.1 4l-0.4 3l-1 3l-1.1 2l-0.9 1l-1.3 1.1l-3.2 1.9l-4.4 2l-4.4 1.5l-4 0.8l-8 1.1l-8 0.8z"/>
<path fill="#cfc7ff" d="M257.1 179.9l-26 0.2l-25-0.2l-16-0.2l-15-0.6l-10-0.6l-9-1l-8-1.2l-5.1-1.4l-4.9-2.1l-3-1.6l-1.8-1.3l-1.1-1l-1.3-2l-1-2l-0.8-2.2l-0.4-1.8l-0.3-3l0-3l0.4-4l0.6-4l0.9-4l2.2-7l3.3-8l2.7-5l2.4-4l2.7-4l3-4l3.3-4l3.8-4l4.1-4l4.3-3.7l8-6l4-2.6l5-2.9l9-4.4l8-3l10-2.9l10-1.9l11-1l10 0.1l10 0.9l10 2l10 2.9l8 3.1l6 2.8l6 3.3l6 3.8l6 4.4l6 5.1l5.2 5l5.3 6l4.5 6l3.8 6l3.3 6l2.6 6l2 6l1.8 7l0.9 6l0.1 3l-0.1 3l-0.4 2.8l-0.6 2.2l-1.4 3l-1.3 2l-2.5 2l-3.6 2l-3.6 1.6l-4 1.3l-3 0.6l-7 1.1l-12 1.2l-21 0.9z"/>
<path fill="#c9c0ff" d="M278.1 178.9l-20 0.5l-24 0.2l-43-0.4l-16-0.7l-9-0.6l-9-1.1l-9-1.5l-5-1.5l-3-1.4l-2.6-1.5l-2.8-2l-2.2-3l-1-2l-0.8-2l-0.6-2.2l-0.4-2.8l0-3l0.2-3l1-6l1-4l1.6-5l2-5l1.9-4l2.1-4l2.4-4l4.9-7l6-7l3.9-4l3.4-3.1l4-3.4l4-3l4-2.7l5-3.1l8-4.2l5-2.2l5-1.9l5-1.6l5-1.4l10-2l10-1l10-0.1l5 0.2l6 0.7l9 1.6l7 1.8l6 1.9l7 2.8l7 3.4l7 4l6 4l5 3.9l5 4.3l5.1 5.1l4.4 5l3.8 5l3.9 6l3.3 6l2.7 6l2.2 6l1.6 6l0.7 4l0.5 4l0 4l-0.5 3l-0.9 3l-1.8 3.6l-1.8 2.4l-2.2 1.6l-4 2.3l-3 1.3l-4 1.2l-3.4 0.6l-7.6 1.2l-8 0.9z"/>
<path fill="#c3b9ff" d="M257.1 178.9l-32 0.2l-20-0.2l-17-0.4l-15-0.7l-9-0.8l-11-1.6l-4-0.8l-3-0.9l-5-2.1l-2.7-1.7l-1.3-1l-1.7-2l-1.4-2l-1.8-4l-0.6-2l-0.5-3l-0.1-5l0.9-6l1.9-7l1.8-5l1.8-4l4.2-8l2.6-4l2.8-4l3.2-4l3.5-4l3.4-3.4l3.9-3.6l4.1-3.4l4-3l8-5.2l9-4.6l5-2.2l5-1.9l4-1.3l6-1.6l6-1.3l5-0.7l9-0.9l5-0.1l5 0.1l10 0.9l5 0.8l5 1l10 2.9l8 3l6 2.8l6 3.3l6 3.8l6 4.4l5 4.2l5.2 5l4.5 5l3.9 5l4.1 6l2.8 5l3.3 7l2.3 6l1.7 6l1 6l0.1 5l-0.6 4l-1 3l-1.4 3l-2.2 3l-1.7 1.6l-2.1 1.4l-2.9 1.5l-3.8 1.5l-3.2 0.8l-7 1.3l-12 1.5l-20 1.1z"/>
<path fill="#b9aeff" d="M276.1 177.9l-19 0.5l-24 0.2l-26-0.1l-16-0.4l-16-0.8l-8-0.6l-9-1.3l-9-1.8l-4.8-1.7l-2.2-1.1l-2-1.3l-0.7-0.6l-2.6-3l-2.4-4l-1.4-4l-0.7-5l0.1-5l1.2-6l1.1-4l1.8-5l3.8-8l2.3-4l3.2-5l5.3-7l6.5-7l3.5-3.2l4-3.4l8-5.8l8-4.7l9-4.3l9-3.3l5-1.4l5-1.2l9-1.5l10-0.8l10 0.2l10 1.1l5 0.9l5 1.1l6 1.7l6 2.1l7 3l6 3.1l6 3.5l5.7 3.9l5.3 4.3l5.3 4.7l4.7 5l4.2 5l4.3 6l3 5l3.1 6l2.5 6l2 6l1.1 5l0.4 4l0 3l-0.5 4l-0.8 3l-1.3 3l-2 3.1l-2.5 2.9l-2.5 1.8l-3 1.5l-3 1.1l-5 1.1l-6 1.1l-11 1.4z"/>
<path fill="#ada0ff" d="M275.1 176.9l-18 0.6l-24 0.2l-25-0.2l-16-0.4l-16-0.9l-8-0.7l-9-1.4l-9-2.1l-4-1.4l-1.2-0.7l-1.8-1.2l-2-2.2l-1.8-2.6l-1.8-3l-0.9-2l-1.2-4l-0.6-5l0-3l0.3-3l1.1-5l1.2-4l1.6-4l1.9-4l2.1-4l4.5-7l2.9-4l3.4-4l6.3-6.6l7.5-6.4l7.5-5.3l4.5-2.7l4.5-2.4l9-4l9-3.1l9-2.1l5-0.9l5-0.6l10-0.5l10 0.4l5 0.6l5 0.8l9 2.1l6 1.9l6 2.3l6 2.7l6 3.2l5 3.1l5 3.5l5 4l5 4.6l4.2 4.4l4.3 5l4.3 6l3.1 5l2.6 5l2.6 6l1.6 5l1.1 5l0.3 4l0 3l-0.6 4l-0.8 3l-1.3 3l-2.4 4l-3 3.5l-2 1.5l-2.1 1l-2.9 1l-7 1.7l-6 1.1l-9.5 1.2z"/>
<path fill="#a191ff" d="M274.1 176l-18 0.6l-23 0.2l-25-0.2l-16-0.4l-16-1.1l-8-0.9l-8-1.4l-9-2.3l-1.7-0.6l-2-1l-1.3-1l-2-2l-2.8-4l-1.5-3l-1.2-3l-1.1-5l-0.3-5l0.5-5l1.4-5.9l1.1-3.1l1.7-4l2.1-4l2.3-4l2.7-4l3-4l6.1-7l7-6.5l4-3.2l4-2.9l8-5l8-4l9-3.5l9-2.6l9-1.8l9-0.9l10-0.1l9 0.7l9 1.5l9 2.3l6 2.1l6 2.4l6 3l5 2.8l5 3.3l5 3.7l5 4.2l4 3.8l4.4 4.7l4.1 5l3.5 5l2.9 5l2.5 5l2 5l1.4 5l0.7 4l0.2 4l-0.1 3l-0.7 4l-0.9 3l-1.9 4l-1.8 3l-2.3 2.8l-2.5 2.2l-2.5 1.2l-4 1.2l-6 1.5l-5 0.9l-9 1.2z"/>
<path fill="#9483ff" d="M274.1 175l-18 0.6l-22 0.3l-25-0.2l-15-0.4l-16-1.2l-8-0.8l-7.5-1.4l-7.6-2l-2.7-1l-2.2-1.1l-2-1.4l-1.5-1.5l-1.6-2l-1.3-2l-2.2-5l-1.4-5l-0.4-3l-0.1-3l0.1-3l0.4-3l1.5-6l1.5-4l1.3-3l2.2-4l2.4-4l5.2-7l5.9-6.5l3.7-3.5l3.5-3l7.8-5.7l8-4.8l8-3.9l9-3.3l9-2.5l8-1.4l10-0.9l9 0l10 0.9l9 1.7l8 2.3l6 2.1l5 2.1l6 3l5 2.9l5 3.3l5 3.8l4.1 3.4l4.2 4l3.7 4l4 5l2.9 4l3 5l2.1 4.2l1.9 4.8l1.5 5l0.6 4l0.3 4l-0.2 4l-0.5 3l-1.2 4l-1.7 4l-1.7 2.8l-1.7 2.2l-2.3 2l-3.4 2l-2.7 1l-4.9 1.4l-5 1.1l-9 1.3z"/>
<path fill="#8875ff" d="M239.1 174.9l-27-0.1l-15-0.4l-7-0.4l-14-1.2l-8-1.1l-7.8-1.8l-3.2-1.1l-6-3.2l-2-1.6l-1.8-2.1l-1.4-2l-1.4-3l-1.1-3l-0.9-4l-0.4-3l-0.2-3l0.1-3l0.4-3l0.6-3l1.2-4l1.1-3l1.8-4l3.4-6l2.8-4l2.3-3l3.5-4l3-3l6.8-6l7.2-5.3l5-3l4-2.2l8-3.7l9-3.2l5-1.4l5-1l5-0.9l5-0.6l5-0.3l5-0.1l9 0.4l5 0.6l5 0.9l9 2.2l9 3.1l5 2.2l4 1.9l8 4.7l5 3.4l5 4l4.8 4.3l3.9 4l3.4 4l3.6 5l2.5 4l2.6 5l1.9 5l1.2 4l0.9 5l0.2 4l-0.3 4l-1 5l-1.3 4l-1.4 3l-1.4 2l-1.7 2l-1.9 1.5l-2.5 1.5l-4 2l-1.5 0.5l-3 0.9l-5 1.2l-9 1.3l-16 1.4l-16 0.5z"/>
<path fill="#7c66ff" d="M248.1 173.9l-17 0.2l-20-0.2l-15-0.5l-6-0.4l-14-1.3l-8-1.3l-5.7-1.5l-5.3-2.5l-5.6-3.5l-1.4-1.3l-1.4-1.7l-1.2-2l-1.3-3l-0.9-3l-0.6-3l-0.4-4l-0.1-3l0.2-3l0.6-4l1.1-4l1-3l1.2-3l2-4l3.8-6l3-4l2.6-3l5.9-6l3.5-3l4-3.1l8-5.2l8-4.2l9-3.7l9-2.7l9-1.8l9-1l5-0.2l5 0.1l9 0.7l9 1.6l9 2.4l9 3.4l8 3.8l5 3l5 3.3l4.8 3.6l4.5 4l4 4l3.5 4l3 4l3.2 5l2.1 4l2.1 5l1.4 5l0.8 4l0.3 4l-0.1 4l-0.8 5l-1.1 4l-1.3 3l-1.2 2l-1.7 2l-1.5 1.3l-4 2.5l-4 2.1l-2.5 1.1l-3.3 1l-4.2 0.9l-5 0.7l-16 1.6l-7 0.4z"/>
<path fill="#7058ff" d="M254.1 172.9l-30 0.2l-15-0.2l-16-0.6l-14-1.4l-7.3-1l-4.2-1l-5.5-2.2l-6-3.4l-3-2.1l-1.4-1.3l-1.6-2l-1-1.7l-1.6-4.3l-0.6-3l-0.4-4l-0.1-4l0.2-3l0.5-3l0.9-4l1.3-4l1.8-4l2.1-4l1.8-3l4.5-6l5.5-6l3.3-3l3.6-3l7.1-5l8.1-4.6l8-3.6l9-3.1l9-2.1l9-1.2l9-0.5l9 0.4l9 1.2l9 2l9 3l8 3.5l5 2.7l5 3l4.7 3.3l3.8 3l4.4 4l3.8 4l3.3 4l2.9 4l2.4 4l2.4 5l1.9 5l1 4l0.7 4l0.2 4l-0.2 5l-0.7 4l-0.9 3l-1.3 3l-1.4 2l-1.9 2l-3.1 2.2l-4 2.4l-3 1.5l-4 1.7l-3 0.8l-4 0.7l-16 1.8l-6 0.5z"/>
<path fill="#634aff" d="M256.1 172l-18 0.3l-13 0l-16-0.3l-15-0.6l-14.2-1.5l-6.2-1l-4.6-1.3l-5-2.1l-2.9-1.6l-3.2-2l-2.6-2l-2.3-1.9l-1-1.2l-1.1-1.9l-0.9-2l-0.9-3l-0.5-3l-0.3-4l0.2-4l0.3-3l0.6-3l1-4l1.5-4l1.4-3l2.1-4l1.9-3l4.6-6l5.7-6l5.8-5l7.2-5l7.4-4.1l4-1.9l4.8-2l8.2-2.7l8-1.9l9-1.3l9-0.4l8.5 0.3l8.5 1.1l8.8 1.9l8.2 2.6l8.1 3.4l3.9 2l5.2 3l4.5 3l5.2 4l3.3 3l4 4l3.4 4l2.9 4l2.5 4l2 4l2 5l1.2 4l0.8 4l0.4 5l0 4l-0.5 4l-0.7 3l-0.8 2l-1.1 2l-1.5 2l-2.8 2.4l-3.6 2.6l-3.5 2l-4.3 2l-2.8 1l-3.6 1l-6.2 1l-13 1.4z"/>
<path fill="#573cff" d="M258.1 170.9l-10 0.4l-21 0.1l-17-0.2l-15-0.7l-6-0.6l-7.4-1l-3.6-0.6l-6-1.5l-5-1.9l-3-1.6l-3-1.8l-3-2.3l-2.6-2.3l-1.4-1.3l-1.1-1.7l-1-2l-0.7-2l-0.6-3l-0.3-3l0-3l0.3-4l0.7-4l1-4l1.5-4l1.3-3l2.1-4l1.9-3l4.5-6l5.7-6l5.9-5l7.2-5l7.3-4l7.3-3.2l8.5-2.8l8.5-2l8-1.1l9-0.4l9 0.4l8.6 1.1l8.7 2l8.7 2.9l7 3.1l3.9 2l5.1 3l4.3 3l3.8 3l3.4 3l3.9 4l3.4 4l2.9 4l2.5 4l2 4l1.6 4l1.2 4l0.9 4l0.5 5l0.1 4l-0.5 4l-0.7 3l-0.9 2l-1.1 2l-1.3 1.5l-2.8 2.5l-3.2 2.4l-3 1.9l-4 2l-3 1.2l-3 0.9l-7.8 1.6l-11.2 1.4z"/>
<path fill="#4c2fff" d="M260.1 170l-12 0.4l-20 0.1l-17-0.2l-14-0.6l-6.9-0.8l-11.1-2l-6-1.6l-4-1.5l-5.1-2.9l-2.8-2l-2.4-2l-3.7-3.9l-1.2-2.1l-0.7-2l-0.7-3l-0.2-3l0-3l0.3-3l0.7-4l1-4l1.4-4l1.3-3l3.3-6l4.4-6l5.5-6l5.7-5l7-5l7.1-4l6.6-3l8.6-3l8.2-2l8.7-1.2l9-0.5l8 0.3l8 1l7 1.4l4 1.1l5.8 1.9l7.1 3l4.1 2.1l5 2.9l4.4 3l3.9 3l3.4 3l4 4l2.6 3l3 4l2.5 4l2.1 4l1.7 4l1.3 4l1.1 5l0.5 4l0.1 4l-0.2 3l-0.7 3l-0.7 1.9l-1 1.9l-1 1.3l-2.9 2.9l-3.1 2.5l-3.7 2.5l-3.3 1.7l-3 1.3l-3 0.9l-7 1.6l-11 1.9z"/>
<path fill="#411eff" d="M264.1 168.9l-14 0.7l-19 0.2l-18-0.2l-14.4-0.7l-6.6-0.8l-11.5-2.2l-5.5-1.3l-4-1.5l-5-2.6l-4.7-3.6l-2.3-2.1l-2.5-2.9l-1.7-3l-0.6-2l-0.5-3l-0.1-3l0.2-3l0.4-3l0.9-4l1.2-4l1.2-3l2.9-6l4-6l5.1-6l5.3-5l6.6-5l6.5-4l8.1-3.9l7-2.7l8-2.2l7-1.3l9-0.8l8-0.1l8 0.7l8 1.4l8 2.1l7.7 2.8l4.4 2l4.9 2.6l3.9 2.4l4.3 3l3.8 3l3.3 3l2.9 3l3.4 4l2.2 3l2.6 4l2.1 4l1.6 4l1.3 4l1 4l0.6 4l0.2 4l-0.2 3l-0.4 2l-0.6 2l-1 2l-2.4 3l-2.6 2.5l-3 2.5l-3 2l-5 2.5l-6 1.9l-14 2.8z"/>
<path fill="#390fff" d="M261.1 168.9l-12 0.6l-19 0.2l-17-0.2l-13-0.7l-7-0.7l-11.5-2.2l-5.5-1.3l-5-1.8l-3-1.5l-2.3-1.4l-2.8-2l-2.3-2l-2.8-3l-1.6-2l-1.4-3l-0.5-2l-0.4-3l0-3l0.2-3l0.5-3l1-4l1.3-4l1.2-3l3.2-6l4.1-6l2.5-3l2.8-3l5.6-5l6.9-5l6.8-4l7-3.2l7.8-2.8l7.8-2l7.4-1.2l9-0.7l8 0.2l8 0.8l9 1.8l7.1 2.1l7.5 3l4.4 2.2l5 2.8l7.3 5l3.7 3.2l4 3.8l2.7 3l3.2 4l2 3l2.3 4l1.9 4l1.5 4l1.1 4l0.8 4l0.4 4l-0.1 4l-0.8 4l-1 2.3l-1.1 1.7l-2.7 3l-3.2 2.9l-2.9 2.1l-3.1 1.8l-5 2.2l-7 1.9l-12 2.3z"/>
<path fill="#3000ff" d="M258.1 168.9l-11 0.5l-19 0.1l-16-0.2l-13-0.7l-6-0.7l-13-2.5l-5.4-1.5l-4.6-1.8l-3-1.6l-2.3-1.6l-2.5-2l-2.2-2l-3.4-4l-1.1-2l-0.7-2l-0.4-2l-0.3-3l0.1-3l0.3-3l0.8-4l0.8-3l1.5-4l1.2-3l3.3-6l4.4-6l4.5-5l6-5.4l6.4-4.6l7-4l6.6-3.1l8.3-2.9l7.7-1.9l8-1.3l9-0.6l8 0.3l8 0.9l8 1.7l8 2.4l8 3.3l4.3 2.2l3.7 2.2l4.3 2.8l4 3l3.7 3.3l3.7 3.7l2.6 3l3 4l2.6 4l2.1 4l1.6 4l1.4 4l0.9 4l0.7 4l0.1 4l-0.3 3l-0.4 2l-1 2.7l-1 1.6l-2 2.4l-2.3 2.3l-2.7 2.3l-3 2.1l-3 1.7l-5 2l-8 2l-11 2l-4 0.5z"/>
<path fill="#2d1eff" d="M251.1 157l-11 0.6l-10 0.1l-12-0.3l-10-0.7l-3-0.4l-4-0.8l-11-3.3l-5-1.9l-3-1.7l-3.3-2.7l-2.3-3l-2.1-4l-0.7-2l-0.6-3l-0.5-5l0.4-3l1.4-4l2.3-4l3.8-5l4.6-4.7l5-4l6-3.8l6-3.1l5-2l6-1.8l5-1.1l7-1l7-0.2l6 0.3l7 0.9l5 1.2l6 1.8l5 2.1l6 3l6 3.9l5.5 4.5l4.8 5l2.3 3l1.9 3l1 2l1.2 3l0.4 2l0.2 2l-0.4 5l-0.5 2l-0.9 3l-2.1 4l-1.5 2l-1.9 2l-3 2.2l-2 1.1l-3 1.2l-13 4l-5 1z"/>
<path fill="#2a2cff" d="M253.1 156l-9 0.6l-12 0.3l-11-0.2l-10-0.6l-5-0.6l-4-0.8l-11-3.2l-5-2l-3-1.6l-3-2.4l-2.1-2.6l-1.2-2l-1-2l-1-3l-0.4-2l-0.5-5l0.3-3l0.5-2l0.8-2l2.2-4l3.8-5l3.9-4l4.7-3.8l5-3.4l6-3.2l5-2.1l6-1.9l5-1.2l7-1.1l7-0.3l6 0.2l5 0.5l8 1.7l4 1.1l6 2.4l6 2.9l6 3.8l5.5 4.4l4.8 5l3.6 5l1.5 3l0.8 2l0.7 3l-0.1 5l-1 5l-1.7 4l-1.2 2l-1.6 2l-1.3 1.3l-2 1.5l-3 1.7l-2 0.9l-6 2l-10 2.8z"/>
<path fill="#273cff" d="M237.1 155.9l-8 0.1l-10-0.3l-7-0.4l-6-0.8l-4-0.9l-11-3.3l-4-1.6l-3.1-1.8l-2.9-2.4l-1.4-1.6l-1.3-2l-1.7-4l-1-4l-0.3-4l0.3-4l0.6-2l0.8-2l2.4-4l3.1-4l4.5-4.5l5-3.9l5-3.1l6-3l5-2l7-2l6-1.1l7-0.7l6 0l7 0.6l6 1.1l7 1.9l6 2.3l6 3l4 2.5l3 2.2l3 2.5l4.3 4.2l2.4 3l1.4 2l1.7 3l0.8 2l0.6 2l0.2 2l0 3l-0.2 3l-0.7 3l-0.6 2l-0.9 2l-1.1 2l-1.6 2l-1.3 1.4l-2 1.5l-2 1.2l-5 2.2l-11 3.3l-4 1l-5 0.7l-6 0.4z"/>
<path fill="#2349ff" d="M240.1 154.9l-9 0.2l-8-0.1l-9-0.5l-6-0.7l-4-0.8l-11-3.3l-4-1.5l-3-1.5l-3-2.2l-2.3-2.6l-1.2-2l-1-2l-1.1-4l-0.5-4l0.2-5l0.8-3l2-4l2.9-4l3.8-4l4.4-3.7l5-3.4l5-2.7l6-2.5l6-1.9l6-1.4l7-0.9l6-0.2l6 0.3l6 0.9l6 1.3l6 2l6 2.6l5 2.7l6 4.2l5 4.5l3.6 4.2l1.9 3l1 2l0.8 2l0.4 2l0.2 3l-0.1 3l-0.4 3l-0.4 2l-1.7 4l-2 3l-2.3 2.2l-3 2l-5 2.2l-11 3.4l-4 0.9l-7 0.9z"/>
<path fill="#1f57ff" d="M240.1 153.9l-9 0.2l-8-0.2l-8-0.4l-6-0.6l-4-0.9l-11-3.4l-4-1.5l-3-1.5l-3-2.3l-2-2.4l-1.7-3l-1.2-4l-0.5-4l0.2-5l0.6-3l0.8-2l1-2l2.9-4l3.8-4l4.1-3.4l5-3.3l5-2.7l5-2.1l6-2l6-1.3l6-0.8l7-0.3l6 0.3l6 0.8l6 1.4l6 2l5 2.2l5 2.7l5.3 3.5l4.6 4l1.9 2l2.4 3l2.4 4l0.8 2l0.4 2l0.4 3l0 3l-0.3 3l-0.4 2l-1.5 4l-2 3l-2 2.1l-3 2l-5 2.2l-11.8 3.7l-3.2 0.8l-6 0.7z"/>
<path fill="#1b65ff" d="M242.1 152.9l-8 0.3l-9-0.1l-8-0.4l-6-0.6l-5-1l-9-2.7l-5-1.8l-3.4-1.7l-2.6-1.8l-2.1-2.2l-1.9-3l-0.8-2l-0.5-2l-0.6-4l0.2-4l0.9-5l1.4-3l2.8-4l3.8-4l3.8-3.1l5-3.3l6-3.1l5-2l6-1.7l5-1.1l6-0.7l6-0.2l6 0.3l5 0.7l5 1l6 1.8l5 2l6 3.1l5 3.4l4.6 3.9l3.6 4l2.6 4l0.8 2l0.5 2l0.4 3l0.2 3l-0.2 3l-0.4 2l-0.5 2l-0.8 2l-1.8 2.9l-2 2.1l-3 2.1l-4 1.9l-5 1.7l-10 3l-6 0.9z"/>
<path fill="#1773ff" d="M239.1 151.9l-8 0.2l-8-0.2l-7-0.4l-5-0.6l-4-0.9l-11-3.5l-4-1.6l-3-1.7l-2.7-2.3l-1.6-2l-1.5-3l-1-4l-0.2-4l0.6-5l1.2-4l1.7-3l3.2-4l3.3-3l4-3l5-3l5-2.4l6-2.1l5-1.3l6-1.1l6-0.5l6 0.1l6 0.6l5 0.9l5 1.3l6 2.2l5 2.4l4.9 2.9l4.1 3.2l4 3.8l3 4l1.4 3l1.1 5l0.3 5l-0.3 3l-0.6 2l-0.7 2l-1.1 2l-2.1 2.5l-3 2.3l-3 1.5l-5 1.9l-9.1 2.8l-3.9 0.9l-6 0.7z"/>
<path fill="#1382ff" d="M237.1 150.9l-8 0.1l-7-0.2l-6-0.5l-5-0.7l-3-0.8l-11-3.4l-4-1.7l-3-1.8l-2.3-2l-2.1-3l-1.2-3l-0.6-3l0-4l0.6-4l1.6-5l1.8-3l2.5-3l3.7-3.4l4-2.9l5-2.8l5-2.2l6-2l5-1.1l6-0.9l6-0.3l6 0.2l6 0.8l5 1.1l5 1.6l5 2l5 2.6l4 2.6l4.5 3.7l1.9 2l1.6 2l1.8 3l1.3 4l0.9 5l0 4l-0.9 4l-0.9 2l-1.2 1.9l-2 2.2l-3 2l-4 1.9l-5 1.7l-8 2.5l-3 0.6l-6 0.8z"/>
<path fill="#0f8fff" d="M247.1 149l-7 0.6l-8 0.2l-9-0.2l-7-0.5l-5-1l-9-2.7l-5-1.7l-3.7-1.8l-2.9-2l-1.9-2l-1.7-3l-0.8-3l-0.3-4l0.5-4l1.1-4l1.8-4l2.1-3l2.9-3l3.9-3l4-2.5l5-2.4l5-1.9l5-1.3l5-1l5-0.5l6-0.1l5 0.3l5 0.7l5 1.1l5 1.6l4.8 2l3.8 2l3.4 2.2l3.7 2.8l2.9 3l2.1 3l1.8 4l1.3 5l0.3 3l0 2l-0.3 2l-0.5 2l-1.3 3l-1.5 2l-2.4 2l-2.1 1.3l-3.8 1.7l-5.2 1.8l-8 2.4z"/>
<path fill="#0c9eff" d="M244.1 148l-7 0.5l-8 0.1l-7-0.3l-6-0.6l-4-0.9l-11-3.3l-4-1.6l-3.5-2l-2.5-2.1l-1.9-2.9l-1-3l-0.4-3l0.1-3l0.9-4l1.5-4l2.3-4l2.5-3l3-2.6l3.6-2.4l4.4-2.3l4-1.7l5-1.7l5-1.1l5-0.7l5-0.3l5 0.1l5 0.4l5 1l5 1.3l5 1.9l4.5 2.1l3.3 2l3.9 3l2.9 3l2 3l1.8 4l1.2 4l0.5 4l-0.4 4l-1 3l-1.2 2l-1.9 2l-2.6 1.8l-2.3 1.2l-5.3 2l-9.4 2.8l-3 0.7z"/>
<path fill="#09abff" d="M241.1 147l-6 0.3l-7 0l-6-0.3l-5-0.7l-8-2l-7-2.2l-4-1.7l-3-1.7l-2-1.8l-1-1.1l-1.1-1.9l-0.9-3l-0.3-3l0.3-3l1.1-4l1.8-4l2.6-4l2.7-3l2.6-2l3.1-2l4.1-2.1l4.9-1.9l4.1-1.2l5-1l5-0.6l5-0.1l5 0.2l5 0.7l4 0.9l4 1.2l5 1.9l3.9 2l3.1 2l2.6 2l2.7 3l2.6 4l1.8 4l1.1 4l0.3 4l-0.5 3l-1.3 3l-1.5 2l-1.8 1.6l-2.2 1.4l-3.8 1.7l-5 1.7l-9 2.6l-3 0.6z"/>
<path fill="#06baff" d="M244.1 144.9l-5 0.7l-6 0.3l-6-0.1l-6-0.5l-4-0.7l-9-2.4l-5-1.7l-4-1.7l-2.8-1.9l-2-2l-1.1-2l-0.7-2l-0.4-3l0.2-3l0.8-3.1l1.7-3.9l2.3-3.6l2.9-3.4l2.1-2l2.9-2l3.7-2l4.4-1.8l3.8-1.2l4.2-0.9l4-0.6l5-0.4l4 0.1l5 0.4l5 0.9l4 1.1l4 1.4l4.2 2l3.2 2l3.5 3l3.1 3.7l2.1 3.3l1.7 4l0.8 3l0.2 2l0 2l-0.7 3l-0.9 2l-1.5 2l-2.5 2l-2.2 1.2l-3 1.3l-4 1.4z"/>
<path fill="#04c8ff" d="M238.1 144l-5 0.3l-5-0.1l-4.2-0.3l-3.8-0.6l-7-1.6l-6.2-1.8l-4.8-1.8l-3-1.8l-1.7-1.4l-1.6-2l-0.8-2l-0.6-3l0.2-3l0.8-3l1.3-3l1.8-3l2.4-3l1.9-2l2.3-2l2.9-2l4-2l3.1-1.2l4-1.1l5-0.9l4-0.4l4-0.1l5 0.2l4 0.6l4.1 0.9l3.9 1.3l4 1.7l3.4 2l3.6 3l2.9 3l2.2 3l2.1 4l0.9 3l0.4 3l-0.3 3l-1.1 3l-1.6 2l-1.5 1.3l-2.9 1.7l-3.1 1.3l-4 1.3l-6 1.6l-6 1.4z"/>
<path fill="#02d6ff" d="M238.1 142l-4 0.3l-5 0l-4-0.3l-5-0.7l-6-1.3l-5-1.4l-4-1.5l-3-1.6l-2.1-1.6l-1.6-2l-0.9-2l-0.4-2l0-2l0.5-3l0.7-2l1.6-3l2.1-3l2.1-2.2l3-2.6l3-2.1l4-2.1l2.5-1l3.3-1l3.2-0.6l4-0.6l4-0.2l4 0.2l4 0.4l4 0.8l3.3 1l2.7 1.1l4 2.2l3 2.1l3 2.6l2.7 3l1.9 3l1.4 3l0.7 3l0.1 3l-0.7 3l-1.3 2l-1.8 1.8l-2 1.3l-3 1.4l-4 1.4l-5 1.3l-5 1.1z"/>
<path fill="#01e4ff" d="M237.1 140l-4 0.2l-4 0l-4-0.3l-5-0.7l-5-1l-4-1.1l-3.1-1.2l-2.9-1.4l-2-1.3l-1.3-1.3l-1.3-2l-0.6-2l-0.1-2l0.3-2l0.9-3l1.1-2l2-2.9l2-2.1l2.3-2l2.7-1.9l3-1.7l3-1.4l3-1l4-1l4-0.5l3-0.1l3 0.1l4 0.4l4 0.9l3 1l3 1.2l3 1.6l3 2l2.8 2.4l2.7 3l1.5 2.4l1.3 2.6l0.7 3l0 3l-0.6 2l-1.3 2l-1.1 1.1l-2 1.4l-3.1 1.5l-3.9 1.4l-4 1l-5 1z"/>
<path fill="#00f2ff" d="M235.1 138l-4 0.1l-4-0.2l-7.6-1l-4.4-1l-3-0.9l-2.8-1.1l-2.2-1.2l-2-1.5l-1-1.3l-0.6-1l-0.5-2l-0.1-2l0.4-2l0.7-2l1.1-2l1.5-2l1.9-2l2.4-2l2.2-1.5l3-1.6l3-1.2l3-0.9l3-0.7l3-0.4l4-0.1l3 0.1l3 0.4l3 0.7l3 1l3 1.2l3 1.7l3 2.1l2.4 2.2l1.7 2l1.8 3l1 3l0.1 2l-0.3 2l-0.7 1.6l-1 1.4l-2 1.6l-2.4 1.4l-2.6 1l-3.2 1l-4.4 1l-4.4 0.7z"/>
<path fill="#00fcff" d="M241.1 135l-7 0.7l-7-0.1l-7-0.9l-3.4-0.8l-3-1l-2.3-1l-1.7-1l-1.2-1l-1.4-1.7l-0.5-1.3l-0.3-2l0.7-3l0.9-2l1.2-1.7l1.2-1.3l2.2-2l2.6-1.8l2-1.1l5-1.9l5-1l3-0.3l3 0l5 0.6l5 1.4l3 1.4l3 1.7l2 1.5l2 2l2 2.5l0.9 2l0.6 2l0 2l-0.5 1.8l-0.7 1.2l-1.3 1.4l-2 1.3l-2.8 1.3l-2.2 0.8z"/></g>
<ellipse cx="231.5" cy="187.9" rx="113.2" ry="114.5" fill="none" stroke="#f0408f" stroke-opacity="0.9" stroke-width="1"/>
<rect x="67.6" y="22.4" width="327.75" height="331.4" fill="none" stroke="#5a5a5a" stroke-width="1.2"/>
<path d="M67.6 30.68h4.4M395.35 30.68h-4.4M75.79 22.4v3.4M75.79 353.8v-3.4M67.6 38.97h4.4M395.35 38.97h-4.4M83.99 22.4v3.4M83.99 353.8v-3.4M67.6 47.25h4.4M395.35 47.25h-4.4M92.18 22.4v3.4M92.18 353.8v-3.4M67.6 55.54h4.4M395.35 55.54h-4.4M100.38 22.4v3.4M100.38 353.8v-3.4M67.6 63.83h4.4M395.35 63.83h-4.4M108.57 22.4v3.4M108.57 353.8v-3.4M67.6 72.11h4.4M395.35 72.11h-4.4M116.76 22.4v3.4M116.76 353.8v-3.4M67.6 80.4h4.4M395.35 80.4h-4.4M124.96 22.4v3.4M124.96 353.8v-3.4M67.6 88.68h4.4M395.35 88.68h-4.4M133.15 22.4v3.4M133.15 353.8v-3.4M67.6 96.97h4.4M395.35 96.97h-4.4M141.34 22.4v3.4M141.34 353.8v-3.4M67.6 105.25h7.2M395.35 105.25h-7.2M149.54 22.4v6.8M149.54 353.8v-6.8M67.6 113.54h4.4M395.35 113.54h-4.4M157.73 22.4v3.4M157.73 353.8v-3.4M67.6 121.82h4.4M395.35 121.82h-4.4M165.93 22.4v3.4M165.93 353.8v-3.4M67.6 130.11h4.4M395.35 130.11h-4.4M174.12 22.4v3.4M174.12 353.8v-3.4M67.6 138.39h4.4M395.35 138.39h-4.4M182.31 22.4v3.4M182.31 353.8v-3.4M67.6 146.68h4.4M395.35 146.68h-4.4M190.51 22.4v3.4M190.51 353.8v-3.4M67.6 154.96h4.4M395.35 154.96h-4.4M198.7 22.4v3.4M198.7 353.8v-3.4M67.6 163.25h4.4M395.35 163.25h-4.4M206.89 22.4v3.4M206.89 353.8v-3.4M67.6 171.53h4.4M395.35 171.53h-4.4M215.09 22.4v3.4M215.09 353.8v-3.4M67.6 179.82h4.4M395.35 179.82h-4.4M223.28 22.4v3.4M223.28 353.8v-3.4M67.6 188.1h7.2M395.35 188.1h-7.2M231.47 22.4v6.8M231.47 353.8v-6.8M67.6 196.39h4.4M395.35 196.39h-4.4M239.67 22.4v3.4M239.67 353.8v-3.4M67.6 204.67h4.4M395.35 204.67h-4.4M247.86 22.4v3.4M247.86 353.8v-3.4M67.6 212.96h4.4M395.35 212.96h-4.4M256.06 22.4v3.4M256.06 353.8v-3.4M67.6 221.24h4.4M395.35 221.24h-4.4M264.25 22.4v3.4M264.25 353.8v-3.4M67.6 229.53h4.4M395.35 229.53h-4.4M272.44 22.4v3.4M272.44 353.8v-3.4M67.6 237.81h4.4M395.35 237.81h-4.4M280.64 22.4v3.4M280.64 353.8v-3.4M67.6 246.1h4.4M395.35 246.1h-4.4M288.83 22.4v3.4M288.83 353.8v-3.4M67.6 254.38h4.4M395.35 254.38h-4.4M297.02 22.4v3.4M297.02 353.8v-3.4M67.6 262.67h4.4M395.35 262.67h-4.4M305.22 22.4v3.4M305.22 353.8v-3.4M67.6 270.95h7.2M395.35 270.95h-7.2M313.41 22.4v6.8M313.41 353.8v-6.8M67.6 279.24h4.4M395.35 279.24h-4.4M321.61 22.4v3.4M321.61 353.8v-3.4M67.6 287.52h4.4M395.35 287.52h-4.4M329.8 22.4v3.4M329.8 353.8v-3.4M67.6 295.81h4.4M395.35 295.81h-4.4M337.99 22.4v3.4M337.99 353.8v-3.4M67.6 304.09h4.4M395.35 304.09h-4.4M346.19 22.4v3.4M346.19 353.8v-3.4M67.6 312.38h4.4M395.35 312.38h-4.4M354.38 22.4v3.4M354.38 353.8v-3.4M67.6 320.66h4.4M395.35 320.66h-4.4M362.58 22.4v3.4M362.58 353.8v-3.4M67.6 328.94h4.4M395.35 328.94h-4.4M370.77 22.4v3.4M370.77 353.8v-3.4M67.6 337.23h4.4M395.35 337.23h-4.4M378.96 22.4v3.4M378.96 353.8v-3.4M67.6 345.52h4.4M395.35 345.52h-4.4M387.16 22.4v3.4M387.16 353.8v-3.4" stroke="#5a5a5a" stroke-width="1" fill="none"/>
<rect x="485.9" y="22.4" width="25.2" height="331.4" fill="url(#cb)" stroke="#000" stroke-opacity="0.55" stroke-width="1.2"/>
<text x="60.6" y="34" font-size="16" text-anchor="end" fill="#000" font-family='"Liberation Sans", sans-serif' >0.2</text>
<text x="60.6" y="114" font-size="16" text-anchor="end" fill="#000" font-family='"Liberation Sans", sans-serif' >0.1</text>
<text x="60.6" y="196.3" font-size="16" text-anchor="end" fill="#000" font-family='"Liberation Sans", sans-serif' >0.0</text>
<text x="60.6" y="278.8" font-size="16" text-anchor="end" fill="#000" font-family='"Liberation Sans", sans-serif' >-0.1</text>
<text x="60.6" y="358.9" font-size="16" text-anchor="end" fill="#000" font-family='"Liberation Sans", sans-serif' >-0.2</text>
<text x="151.5" y="378.3" font-size="16" text-anchor="middle" fill="#000" font-family='"Liberation Sans", sans-serif' >4.9</text>
<text x="235.9" y="378.3" font-size="16" text-anchor="middle" fill="#000" font-family='"Liberation Sans", sans-serif' >5.0</text>
<text x="318.7" y="378.3" font-size="16" text-anchor="middle" fill="#000" font-family='"Liberation Sans", sans-serif' >5.1</text>
<text x="478.2" y="106" font-size="16" text-anchor="end" fill="#000" font-family='"Liberation Sans", sans-serif' >0.01</text>
<text x="478.2" y="195.3" font-size="16" text-anchor="end" fill="#000" font-family='"Liberation Sans", sans-serif' >0.00</text>
<text x="478.2" y="287.3" font-size="16" text-anchor="end" fill="#000" font-family='"Liberation Sans", sans-serif' >-0.01</text>
<path d="M485.9 100h2.2M511.1 100h-2.2M485.9 189.3h2.2M511.1 189.3h-2.2M485.9 281.3h2.2M511.1 281.3h-2.2" stroke="#000" stroke-opacity="0.5" stroke-width="0.9" fill="none"/>
<text x="230.1" y="15.77" text-anchor="middle" font-size="19.4" fill="#2e2e2e" stroke="#2e2e2e" stroke-width="0.55" font-family='"Liberation Serif", serif' font-style="italic" filter="url(#bl)">ψ</text>
<text font-family='"Liberation Serif", serif' font-style="italic" font-weight="bold" fill="#454545" filter="url(#bl)" stroke="#454545" stroke-width="0.35" ><tspan x="211.92" y="394.7" font-size="15.4">R</tspan><tspan x="228.21" y="395.3" font-size="16.17">(</tspan><tspan x="234.41" y="394.7" font-size="15.4">L</tspan><tspan x="242.24" y="397.3" font-size="10.16">0</tspan><tspan x="250.61" y="395.3" font-size="16.17">)</tspan></text>
<g transform="translate(24.5 207.5) rotate(-90)"><text font-family='"Liberation Serif", serif' font-style="italic" font-weight="bold" fill="#454545" filter="url(#bl)" stroke="#454545" stroke-width="0.35" ><tspan x="0.03" y="0" font-size="13.2">Z</tspan><tspan x="13.92" y="0.5" font-size="13.86">(</tspan><tspan x="18.89" y="0" font-size="13.2">L</tspan><tspan x="25.27" y="2.2" font-size="9.5">0</tspan><tspan x="31.24" y="0.5" font-size="13.86">)</tspan></text></g>
<g transform="translate(436 205.5) rotate(-90)"><text font-family='"Liberation Serif", serif' font-style="italic" font-weight="bold" fill="#454545" filter="url(#bl)" stroke="#454545" stroke-width="0.35" ><tspan x="0.13" y="0" font-size="15">B</tspan><tspan x="10.25" y="2.4" font-size="9.9">0</tspan><tspan x="17.71" y="0" font-size="15">L</tspan><tspan x="25.65" y="2.4" font-size="9.9">0</tspan></text></g>
<text transform="translate(223.86 453) scale(0.92 1)" font-size="38.15" font-family='"Liberation Serif", serif'>(</text>
<text transform="translate(236.38 453) scale(1.25 1)" font-size="34.6" font-family='"Liberation Serif", serif'>a</text>
<text transform="translate(255.18 453) scale(0.92 1)" font-size="38.15" font-family='"Liberation Serif", serif'>)</text>
<g filter="url(#fb)"><path fill="#fff2f4" d="M673.4 279.3l-3 0.7l-3-0.1l-3-0.9l-3-1.6l-4-2.8l-6-4.8l-4-3.8l-4-4.5l-3.5-4.5l-2.8-4l-3.1-5l-3.2-6l-2.8-6l-2-5l-2-6l-1.9-7l-1.1-5l-1.1-6l-0.8-7l-0.3-5l-0.1-6l0.1-6l1.1-11l1-6l1.1-5l1.8-7l2-6l4-10l5.1-10l3-5l4.1-6l3.8-5l3.3-4l3.7-4l4.6-4.6l8-6.9l8-5.9l5-3.1l5-2.9l6-3l5-2.2l5-2l5-1.7l5-1.4l7-1.7l9-1.4l6-0.6l5-0.3l6 0l6 0.3l7 0.8l5 0.8l5 1.1l5 1.3l5 1.7l5 1.9l5 2.3l4 2.2l6 3.8l5 3.9l3.9 3.6l2 3l1.1 3l0.2 3l-0.4 2l-0.6 2l-1.9 4l-3.7 6l-4.1 6l-20 28l-32.2 44l-37.9 50l-14.4 18.5l-9 11l-4 4.3l-2 1.9l-2 1.5z"/>
<path fill="#ffebee" d="M670.4 277.1l-2-0.1l-3-0.6l-4-2l-4-2.7l-4-3.3l-4.5-4.4l-5.2-6l-3.1-4l-2.7-4l-3.1-5l-2.7-5l-2.3-5l-2-5l-2.1-6l-1.7-6l-1.1-5l-1-5l-0.8-6l-0.4-5l-0.2-6l0.3-11l1.3-11l1-5l1.7-7l3.2-10l2-5l2.7-6l3.1-6l3-5l6.1-9l6.6-8l3.7-4l4.2-4l4-3.6l5-4l5-3.6l5-3.3l9-5l6-2.8l5-2l10-3.3l7-1.7l5-0.9l10-1.3l5-0.2l6-0.1l6 0.3l5 0.6l9 1.5l5 1.2l5 1.6l5 1.8l5 2.2l6 3l4 2.3l5 3.5l4.3 3.8l2.3 3l1 2l0.7 2l0.1 3l-0.3 2l-0.5 2l-2.4 5l-3.5 6l-7.2 11l-9.1 13l-36.8 51l-42.6 55.4l-14 17.3l-7 7.7l-3 2.8l-3 2.2l-3 1.3z"/>
<path fill="#fee4e8" d="M673.4 274.1l-3 0.7l-3-0.1l-3-1.1l-3-1.5l-4-2.6l-4-3.2l-4-4l-3.8-4.3l-3.8-5l-2.7-4l-3-5l-3.2-6l-2.2-5l-2.7-7l-1.9-6l-1.3-5l-1.1-5l-0.9-6l-0.7-6l-0.3-5l0-6l0.1-5l1.2-11l1.1-6l1.3-6l1.4-5l2-6l2-5l2.2-5l3-6l2.8-5l6-9l3.9-5l3.4-4l7.2-7.4l8-6.9l4-3l6-4.1l9-5.2l9-4.1l5-2l6-1.9l6-1.6l5-1.1l10-1.5l6-0.4l5-0.1l5 0.1l6 0.5l7 1l5 1l9 2.4l5 1.7l5 2.1l4 1.9l4 2.3l4.9 3.3l4.5 4l1.8 2l1.5 2l0.6 1l0.6 2l0.3 2l0 2l-0.6 3l-2.1 5l-3.8 7l-8.3 13l-9 13l-32.1 45l-9.3 12.4l-33 42.3l-13 15.8l-6 6.8l-5 5l-4 3.2z"/>
<path fill="#fedde2" d="M673.4 272.1l-3 0.7l-3-0.1l-3-1l-3-1.5l-4-2.6l-4-3.2l-4-3.9l-3.1-3.5l-3.2-4l-3.4-5l-2.9-5l-3.1-6l-2.6-6l-2.2-6l-1.9-6l-1.2-5l-1.1-5l-0.9-6l-0.8-10l-0.1-6l0.1-5l0.5-6l0.7-5l1-6l1.4-6l3.1-10l4-10l2.5-5l2.7-5l5.8-9l6.2-8l3.6-4l3.9-4l4-3.8l4-3.4l4-3.1l5-3.6l4-2.5l5-2.9l9-4.4l5-2.1l5-1.7l6-1.8l5-1.2l6-1.2l6-0.8l5-0.4l6-0.2l10 0.4l10 1.3l5 1l6 1.6l4 1.3l5 2l4 1.8l4 2.2l5 3.3l5.1 4.2l1.8 2l1.6 2l1.1 2l0.3 1l0.4 2l0.1 2l-0.6 3l-2.3 6l-3.7 7l-7.4 12l-8.1 12l-31.7 45l-8.6 11.5l-33 41.9l-12 14.3l-7 7.9l-5 4.9l-5 4z"/>
<path fill="#fed6dc" d="M669.4 271l-3-0.5l-3-1l-3-1.5l-4-2.8l-3-2.5l-4-3.8l-3-3.4l-3.5-4.5l-3.3-5l-2.9-5l-2.5-5l-2.2-5l-3.2-9l-1.9-7l-1.1-5l-1.3-9l-0.5-6l-0.2-6l0.1-6l0.6-7l1.3-9l2.3-10l1.5-5l2.2-6l2-5l2.4-5l5-9l2.6-4l3.5-5l6.6-8l3.7-4l3.8-3.6l8-6.8l4-3l5-3.3l9-5.1l8-3.7l5-2l6-2l8-2.1l5-0.9l7-1l11-0.7l5 0.1l6 0.3l4 0.5l6 1l9 2.2l5 1.6l3.7 1.5l4.3 2l4 2.3l4 2.6l2.8 2.1l2.2 2l1.9 2l1.5 2l1.1 2l0.8 2l0.3 2l-0.1 2l-0.6 3l-2.3 6l-3 6l-5.4 9l-9.7 15l-34.9 50l-38.6 48.5l-6 7.2l-6 6.8l-6 6.5l-4 3.9l-4 3.3l-4 2.5l-2 0.9z"/>
<path fill="#fecfd6" d="M671.4 269.1l-1 0.2l-2-0.1l-3-0.6l-4-1.6l-3-1.8l-3-2.3l-4-3.5l-3.2-3.4l-3.8-4.5l-3-4.2l-2.7-4.3l-2.7-5l-1.9-4l-2.1-5l-2.1-6l-1.8-6l-1.1-5l-1.1-6l-0.7-5l-0.4-5l-0.2-5l0-6l0.3-5l1.2-10l0.9-5l1.7-7l3.1-10l3.8-9l3-6l2.3-4l5.9-9l3.9-5l3.4-4l3.7-4l3.6-3.5l7-6.1l8-5.9l5-3.1l5-2.8l9-4.3l5-2l5-1.7l4-1.1l7-1.7l9-1.5l6-0.6l5-0.2l5 0l5 0.3l6 0.6l5 0.8l9 2.2l8 2.9l5 2.4l4 2.2l5 3.4l4.1 3.7l1.6 2l1.9 3l0.9 2l0.5 2l-0.1 2l-0.6 3l-0.9 3l-1.1 3l-2.9 6l-6.4 11l-4.3 7l-5.4 8l-32.4 47l-5.9 7.6l-11.8 14.4l-17.2 21.6l-6 7.3l-6 6.9l-6 6.6l-6 6.1l-4 3.5l-3 2.2l-3 1.7z"/>
<path fill="#fec8d0" d="M672.4 267.1l-3 0.5l-3-0.4l-3-0.9l-4-1.9l-3-2l-3-2.5l-3-2.9l-4-4.5l-3.5-4.5l-2.5-3.7l-2.5-4.3l-2.6-5l-2.2-5l-2.2-6l-1.9-6l-1.2-5l-1-5l-0.9-6l-0.7-11l0-6l0.4-6l1.2-10l2.2-10l1.8-6l2.1-6l3.9-9l4.9-9l5.2-8l3-4l4.1-5l7.4-7.7l8-6.9l8-5.8l5-3.1l4-2.2l8-3.9l5-2l5-1.8l6-1.8l5-1.2l6-1.1l5-0.7l5-0.5l5-0.2l5 0.1l5 0.2l5 0.6l5 0.8l5 1.1l4 1.1l4 1.3l5 2l4 1.9l4 2.3l5.1 3.5l2.2 2l1.8 2l2.2 3l1 2l0.7 2l0.3 2l-0.1 2l-0.6 3l-0.9 3l-1.1 3l-4 8l-6.3 11l-7.1 11l-18.2 26.6l-10.3 15.4l-4.9 7l-5.8 7.3l-11.4 13.7l-20.6 25.5l-10 11.4l-8 8.2l-5 4.5l-5 3.6z"/>
<path fill="#fec1ca" d="M673.4 265l-3 0.7l-2 0.2l-3-0.4l-3-1.1l-4-2.1l-3-2l-3-2.6l-4-4.1l-3.8-4.6l-2.8-4l-3.1-5l-2.3-4.3l-2.2-4.7l-2.4-6l-1.9-6l-1.3-5l-1.9-10l-0.6-6l-0.3-5l-0.1-6l0.2-5l1.1-11l2-10l1.7-6l2-6l2-5l2.2-5l4.8-9l5.1-8l6.2-8l3.6-4l3.8-3.9l7-6.4l8-6.1l5-3.3l5-2.9l8-4l5-2.1l5-1.8l10-2.9l5-1.1l6-0.9l10-0.8l5-0.1l5 0.2l5 0.5l5 0.7l5 1l4 1.1l4 1.2l5 1.9l4 1.9l4 2.1l2.6 1.7l2.7 2l2.7 2.5l2.2 2.5l1.4 2l1.1 2l0.6 2l0.3 3l0 2l-0.6 3l-0.9 3l-1.2 3l-4.4 9l-5.1 9l-6.9 11l-17.5 25.7l-10.7 16.3l-4.3 6.1l-5 6.4l-12.2 14.5l-20.8 25.4l-9 10.2l-7 7.2l-6 5.5l-5 3.7l-2 1.2z"/>
<path fill="#febac4" d="M670.4 264l-3 0.2l-2-0.2l-3-1l-4-2l-4-2.8l-3-2.6l-3-3.2l-3-3.6l-3.4-4.8l-3.1-5l-2.1-4l-2.3-5l-2-5l-1.7-5l-1.4-5l-1.1-5l-1.5-10l-0.5-6l-0.1-5l0.1-5l0.3-6l1.4-10l1-5l1.6-6l3.4-10l3.9-9l4.9-9l5.3-8l6.4-8l6.9-7.3l8-7l8-5.9l5-3.1l4-2.3l4-2l6-2.8l9-3.3l10-2.6l9-1.6l5-0.5l5-0.3l5 0l5 0.2l9 1.1l4 0.8l5 1.2l5 1.6l4 1.5l4.9 2.3l3.5 2l3 2l2.4 2l3 3l1.5 2l1.2 2l0.8 2l0.6 3l0.1 3l-0.2 2l-0.4 2l-2.1 6l-4.9 10l-6.2 11l-12.4 19l-9.8 14.4l-8.8 13.6l-5.5 8l-5.7 7.2l-11.9 13.8l-18.1 22.1l-6 7l-5 5.4l-6 6l-6 5.6l-4 3.1l-3 1.9l-3 1.2z"/>
<path fill="#fdb3be" d="M671.4 262.2l-3 0.4l-3-0.1l-2-0.5l-3-1.2l-4-2.4l-3-2.2l-3-2.8l-3-3.3l-3-3.8l-3-4.4l-2.8-4.9l-2.6-5l-2.1-5l-2.2-6l-1.5-5l-1.2-5l-0.9-5l-0.7-5l-0.7-10l0-6l0.2-5l1.2-10l2.1-10l1.7-6l1.8-5l1.9-5l2.3-5l4.8-9l5.2-8l3-4l4.1-5l6.7-7l7.7-6.8l8-5.9l8-4.9l8-4l5-2.1l5-1.8l5-1.6l5-1.3l5-1.1l5-0.8l5-0.5l5-0.3l9 0.1l5 0.4l6 0.9l9 2l4 1.3l5 1.9l3.2 1.5l3.5 2l3 2l2.5 2l2.8 2.8l1.8 2.2l1.1 2l0.8 2l0.6 3l0.1 3l-0.5 5l-1.7 5l-4.7 10l-6.1 11l-12.3 19l-9.1 13.5l-10.6 16.5l-4.4 6.4l-5 6.2l-12.5 14.4l-9.5 11.7l-11 13l-9 9.8l-7 6.7l-7 5.9l-2 1.4l-2 1l-3 1.2z"/>
<path fill="#fdacb8" d="M668.4 261l-3 0l-2-0.4l-3-1.1l-3-1.7l-3-2.1l-4-3.4l-3-3.3l-2.4-3l-2.6-3.7l-2.6-4.3l-2.6-5l-2.3-5l-3.3-9l-1.4-5l-1.3-6l-0.8-5l-0.6-5l-0.4-10l0.1-5l0.4-6l1.5-10l1-5l1.7-6l3-9l4-9l5-9l5.3-8l6.5-8l6.7-7l7.1-6.3l8-5.9l5-3.2l4-2.2l8-4l5-2l5-1.8l5-1.5l5-1.3l9-1.6l5-0.5l5-0.3l9 0.1l10 1.2l5 1l4 1l4 1.2l4 1.5l3.4 1.6l3.7 2l2.9 2l3 2.3l2.7 2.7l1.5 2l1.1 2l1 3l0.5 3l0.1 3l-0.6 5l-0.5 2l-1.2 3l-5.1 11l-6.1 11l-10.9 17l-9.5 14.2l-8.6 13.8l-5.4 7.8l-6 7.5l-11.2 12.7l-9.8 11.8l-10 11.7l-6 6.8l-5 5.1l-6 5.6l-6 5l-3 2l-3 1.4l-3 1z"/>
<path fill="#fda1af" d="M671.4 259.1l-3 0.4l-3 0l-3-0.5l-2-0.8l-3-1.6l-3-2l-4-3.5l-3-3.2l-3-3.8l-2.7-4.1l-2.4-4l-2.5-5l-2.1-5l-1.9-5l-1.8-6l-1.2-5l-0.9-5l-0.7-5l-0.7-10l0.3-10l1.1-10l2.1-10l3.1-10l3.7-9l2.5-5l2.7-5l5.1-8l6.2-8l3.6-4l3.5-3.6l7-6.4l7-5.3l5-3.4l4-2.4l9-4.6l9-3.6l5-1.6l5-1.3l9-1.8l9-0.9l5-0.2l5 0.1l9 0.8l5 0.8l5 1.1l4.2 1.3l4.8 1.8l2.7 1.2l3.7 2l3.1 2l2.6 2l3.1 3l1.5 2l1 2l1 3l0.5 2l0.3 3l-0.1 3l-0.4 3l-0.8 3l-1 3l-4.6 10l-5.4 10l-10.7 17l-9.5 14.3l-10.4 16.7l-4.2 6l-5.4 6.7l-11.9 13.3l-10.1 12.2l-10 11.5l-5 5.6l-4 4l-7 6.5l-6 4.8l-3 1.9l-2 1l-3 1.1z"/>
<path fill="#fd93a3" d="M671.4 256.1l-3 0.5l-3 0l-3-0.4l-3-0.9l-3-1.6l-3-2.2l-3-2.7l-3-3.2l-3-3.7l-2-2.9l-2.9-5l-2.1-4.2l-1.7-3.8l-1.9-5l-1.8-6l-1.2-5l-1-5l-0.7-5l-0.5-5l-0.2-5l0.2-10l0.6-6l0.7-5l2.2-10l1.5-5l1.7-5l3.8-9l4.7-9l5.2-8l6.3-8l6.1-6.6l7-6.4l8-6.1l8-5.1l8-4.1l9-3.7l9-2.8l9-2l5-0.7l5-0.4l5-0.2l5 0l9 0.8l5 0.8l4 0.9l4 1.2l4 1.4l4 1.8l3 1.7l2.4 1.5l2.7 2l2.2 2l1.7 2l1.6 3l1.1 3l0.7 3l0.3 3l-0.1 3l-0.5 3l-1.3 5l-1.7 5l-3.7 8l-4.9 9l-9.9 16l-8.6 13.1l-9.6 15.9l-4.4 6.5l-5 6.1l-12.2 13.4l-9.8 11.6l-10 11.3l-5 5.4l-4 4l-7 6.2l-6 4.2l-5 2.8l-2 0.8z"/>
<path fill="#fd8597" d="M672.4 253.1l-3 0.6l-3 0.1l-3-0.2l-4-0.9l-2-0.8l-3-1.8l-2-1.6l-3-2.8l-3-3.5l-2.5-3.2l-2.5-3.9l-2.3-4.1l-1.9-4l-2-5l-2-6l-1.3-5l-1.1-5l-0.8-5l-0.8-10l0-5l0.1-5l0.5-6l0.7-5l2.1-10l3.1-10l3.7-9l2.5-5l2.5-4.5l5-7.8l6-7.8l7-7.5l7-6.3l8-6l8-5l9-4.5l8-3.1l6-1.9l4-1.1l9-1.7l9-0.9l9-0.1l8 0.7l8 1.5l4 1.2l4 1.5l3 1.3l3.9 2l3 2l2.5 2l1.8 2l1.4 2l1.5 3l1.1 3l0.6 3l0.2 3l-0.1 3l-0.6 3l-1.5 6l-1.5 5l-1.1 3l-1.9 4l-4.9 9l-8.4 14l-8.4 13l-10 17l-4.1 6l-4.5 5.5l-13.5 14.5l-9.5 11.1l-10 11l-8 8.2l-4 3.6l-7 4.8l-6 3.5l-2 0.9z"/>
<path fill="#fc778b" d="M669.4 251l-3 0.2l-4-0.4l-3-0.7l-3-1.2l-2-1.1l-2-1.5l-2-1.8l-3-3.2l-3-3.8l-2.3-3.5l-2.7-4.8l-2-4.2l-2-5l-1.3-4l-1.4-5l-1.1-5l-0.8-5l-0.5-5l-0.4-9l0.4-9l0.6-6l0.9-5l2.1-9l2.9-9l2-5l2.3-5l2.6-5l2.4-4l4.6-7l3.1-4l3.3-4l6.3-6.6l7-6.2l8-5.9l8-4.9l8-4l8-3.2l9-2.7l9-1.8l9-1l9-0.1l5 0.4l4 0.5l4 0.8l4 1l4 1.2l3.7 1.5l5.8 3l4 3l2.5 3l2.3 4l1.4 4l0.6 3l0.1 4l-0.7 5l-1.3 6l-1.5 5l-1.5 4l-1.7 4l-1.5 3l-9.9 17l-9.3 14.8l-8 14.2l-4.6 7l-5.4 6.6l-12 12.4l-12 13.7l-9 9.7l-5 5.1l-3 2.7l-3 2.3l-4 2.8l-4 2.5l-7 3.5l-3 1.1z"/>
<path fill="#fc697f" d="M671.4 248l-3 0.5l-3 0.1l-3-0.3l-3-0.8l-3-1.1l-3-1.6l-2-1.5l-2-1.9l-3-3.4l-2-2.7l-2.8-4.3l-2.2-4.2l-2-4.3l-2-5.3l-1.3-4.2l-1.3-5l-1.5-9l-0.5-5l-0.2-5l0.3-10l1.2-10l1.9-9l1.8-6l1.3-4l3.8-9l4.7-9l5.2-8l5.5-7l6.1-6.7l7-6.4l7-5.4l8-5.2l7-3.7l9-3.9l9-2.9l9-2l9-1.1l8-0.3l5 0.3l4 0.4l8 1.6l4 1.1l3.4 1.2l2.6 1.1l3.5 1.9l2.9 2l2 2l1.7 2l2.5 4l1.4 3.6l0.7 3.4l0.2 4l-0.6 5l-1.1 6l-1.3 5l-1.4 4l-1.6 4l-2.3 5l-8.5 15l-8.7 14l-7.6 14l-4.8 7.4l-5 6.1l-13.2 13.5l-10.8 12.1l-12 12.5l-6 5.2l-7 4.8l-7 3.7l-4 1.8z"/>
<path fill="#fc5b72" d="M668.4 246l-3 0.1l-3-0.3l-2-0.4l-3-1l-3-1.5l-3-1.9l-2-1.7l-2-2.2l-3-3.9l-2-3.1l-3.7-7.1l-1.7-4l-1.6-4.7l-1.2-4.3l-1.2-5l-1.3-9l-0.4-9l0-5l0.4-5l1.2-9l2-9l1.8-6l1.5-4l3.8-9l4.3-8l4.6-7l6.1-8l6.4-6.8l6-5.5l7-5.5l7-4.6l8-4.3l8-3.5l9-3l8-1.9l8-1.2l9-0.4l8 0.4l8 1.4l7 2l3 1.2l3.4 1.7l3.6 2.6l3.2 3.4l2.7 4l1.6 4l0.7 3l0.2 4l-0.5 6l-1 6l-1.3 5l-1.3 4l-1.6 4l-2.4 5l-6.9 13l-9.1 15l-8 15l-4.3 6.5l-5 6l-12.6 12.5l-12.4 13.7l-12 11.6l-6 4.8l-3 2l-4 2.3l-4 2l-5 2l-3 1z"/>
<path fill="#fb4d66" d="M670.4 243.2l-2 0.3l-3 0.2l-3-0.3l-3-0.7l-3-1.2l-3-1.6l-3-2.1l-2-1.8l-2-2.2l-2.1-2.8l-1.9-3.1l-2.6-4.9l-1.7-4l-1.5-4l-1.5-5l-1-4l-0.8-4l-0.7-5l-0.7-9l0.3-9l1-9l1.8-9l1.4-5l1.6-5l3.7-9l4.1-8l5.1-8l5.2-7l6.3-7l6-5.7l7-5.6l7-4.8l7-3.9l8-3.7l9-3.2l8-2.1l8-1.3l8-0.5l8 0.2l8 1.1l7 1.8l4 1.6l2.2 1.1l4.2 3l3 3l2.3 3l2 4l0.9 3l0.4 4l-0.3 7l-0.9 6l-1.1 5l-1.2 4l-1.6 4l-1.8 4l-7.1 14.2l-8.2 13.8l-7.8 15l-2.4 4l-2.1 3l-2.5 3.2l-3 3.3l-12 11.5l-11 12l-13 12.1l-6 4.8l-6 3.7l-7 3.2z"/>
<path fill="#fb3f5a" d="M668.4 241.1l-2 0.2l-3-0.1l-3-0.6l-3-1l-3-1.5l-2-1.2l-3-2.4l-2-1.9l-2-2.3l-2-3l-2-3.5l-1.9-3.8l-1.6-4l-1.3-4l-2.1-8l-1.4-9l-0.5-9l0.4-9l1.1-9l2.1-9l2.8-9l3.4-8l4.1-8l4.4-7l5.1-7l5.4-6.2l6-5.8l6-5.1l7-5l7-4.2l8-3.9l8-3.1l8-2.3l8-1.5l8-0.7l8 0l8 0.8l4.7 1l3.3 1l2.7 1l2.3 1.1l4.3 2.9l3.3 3l2.4 3l2.1 4l1 3l0.5 4l-0.1 7l-0.7 6l-1 5l-1.2 4l-1.4 4l-1.8 4l-6.8 14l-7.9 14l-7.6 15l-4.1 6.4l-2 2.6l-3 3.4l-13.3 12.6l-10.7 11.1l-13 11.8l-6 4.5l-3 1.9l-4 2.1l-7 2.8l-4 1.2z"/>
<path fill="#fb314e" d="M670.4 238.2l-3 0.6l-3 0.1l-3-0.4l-2-0.5l-3-1.1l-3-1.7l-3-2.2l-2-1.8l-2-2.1l-2-2.6l-3.3-5.5l-2.9-7l-1.3-4l-1.3-5l-1.5-8l-0.7-9l0.1-9l1-9l1.8-9l2.6-9l3.5-8.7l4-8l4-6.6l5-7l5.7-6.7l6-6l6.3-5.4l6.4-4.6l6.6-4l8-4.1l7.4-2.9l8.6-2.5l8-1.6l8-0.8l8-0.1l4 0.3l4 0.6l4 0.9l3 0.9l3 1.2l2 1.1l4.5 3l3.2 3l2.3 3l1.2 2l0.8 2l1.1 4l0.3 5l-0.1 6l-0.6 5l-0.8 4l-1.1 4l-1.4 4l-1.7 4l-6.1 13l-7.1 13l-8.3 17l-2.2 3.7l-2 2.8l-2 2.5l-3 3.3l-13 11.8l-11 11.1l-12 10.6l-6 4.5l-6 3.4l-6 2.5z"/>
<path fill="#fb2342" d="M669.4 236l-3 0.5l-3 0l-2-0.3l-3-0.8l-3-1.4l-2-1.1l-2.5-1.9l-2.5-2.2l-4-4.7l-3-5.1l-3-7.2l-1.2-3.8l-1.2-5l-1.3-8l-0.6-9l0.2-9l1.1-9l2-9l2.9-9l3.1-7.5l4-7.8l4.1-6.7l4.9-6.7l5.5-6.3l6-6l6.5-5.4l6.5-4.6l6.7-4l7.8-3.8l8-3l8-2.2l8-1.5l8-0.6l8 0.1l6.8 1l5.2 1.5l5.3 2.5l3.7 2.4l3 2.7l2.4 2.9l1.2 2l1 2l1.1 4l0.5 5l0 6l-0.4 5l-0.7 4l-0.8 3l-1.3 4l-1.6 4l-6.3 14l-7.1 13.2l-4.7 10.8l-3 6l-2.3 3.7l-2 2.8l-2.1 2.5l-2.9 3.1l-5 4.5l-7.6 6.4l-11.4 11.3l-12 10.3l-6 4.3l-6 3.2l-6 2.3z"/>
<path fill="#fa1536" d="M666.4 234.1l-2 0.1l-3-0.3l-3-0.8l-2-0.9l-3-1.7l-2-1.4l-4-3.9l-2-2.4l-2-2.9l-2-3.5l-1-2.2l-2.3-6.2l-1.9-8l-1.1-8l-0.3-9l0.4-8l1.3-9l2.1-9l2.7-8l3.1-7.3l4.1-7.7l3.9-6.2l5-6.8l5.3-6l6.1-6l6.1-5l7.2-5l7.3-4.2l7-3.2l8-3l7-1.8l8-1.5l8-0.6l7 0.3l6.5 1l5.5 1.8l5 2.5l3.9 2.7l3 3l2.2 3l1.4 3l0.9 4l0.7 6l0.1 5l-0.5 5l-0.7 4l-0.7 3l-1.4 4l-1.6 4l-5.7 13l-7.4 14l-4.4 11l-3.1 6l-3.7 5.5l-2.2 2.5l-2.8 2.9l-3 2.6l-8.2 6.5l-11.8 11.4l-11 9.3l-4 3.1l-3 2.1l-3 1.7l-6 2.6l-6 1.8z"/>
<path fill="#fa0a2d" d="M671.4 231.2l-7 0.6l-2-0.1l-2-0.3l-3-1l-2-1l-4-2.7l-2-1.8l-2-2.2l-2-2.5l-2.1-3.2l-1.9-3.4l-1-2.3l-1-2.6l-1.4-4.7l-1.6-8l-0.9-9l0.1-8l0.9-9l1.5-8l2.5-9l3.1-8l3.9-8l4.1-7l5-7l5-6l5.8-5.8l5.9-5.2l6.1-4.5l7-4.3l7-3.6l7-2.9l8-2.5l7-1.5l8-0.9l7-0.1l6 0.7l6.1 1.6l2.9 1.1l3 1.5l3.8 2.4l3.2 2.8l2.5 3.2l1.5 3l1.1 4l0.9 6l0.2 5l-0.3 5l-0.7 4l-0.7 3l-2.5 7l-5.9 14l-7.2 14l-4.9 12.5l-1.7 3.5l-1.8 3l-2.2 3l-2.3 2.6l-2 2l-12 9.4l-11 10.6l-13 10.7l-5 3.5l-5 2.7l-6 2.3z"/>
<path fill="#fb061b" d="M671.4 230.1l-7 0.6l-2-0.1l-2-0.3l-3-1l-2-1l-4-2.8l-2-1.8l-2-2.2l-2-2.6l-2-3.1l-3-5.9l-2.2-6.9l-1.6-8l-0.7-8l0-8l0.9-9l1.7-9l2.4-8l3-8l3.9-8l4.2-7l5-7l5-6l5.4-5.4l6-5.2l6-4.5l7-4.3l7-3.6l7.3-3l7.7-2.4l7.7-1.6l7.3-0.8l7 0l5.7 0.8l6.3 1.7l5.1 2.3l3.2 2l3.5 3l2.4 3l1.6 3l1.4 5l0.8 5l0.2 5l-0.2 5l-0.6 4l-0.8 3l-2.4 7l-5.8 14l-7.2 14l-4.6 12l-1.8 4l-2.8 4.4l-2 2.5l-2 2.1l-3 2.5l-10 7.7l-12 11.4l-12 9.7l-5 3.5l-5 2.7l-6 2.3z"/>
<path fill="#fc030d" d="M665.4 230l-3 0l-2-0.4l-2-0.6l-2-0.8l-3-1.8l-2-1.5l-2-1.9l-2-2.2l-2-2.6l-2-3.2l-3-6l-2-6.2l-1.4-6.8l-0.8-8l-0.1-8l0.6-8l1.4-8l2-8l2.8-8l3-7l4.4-8l4.6-7l4.5-5.7l5-5.5l6-5.7l6-4.8l6.2-4.3l6.8-3.9l7-3.2l7.9-2.9l7.1-1.9l7-1.2l7-0.5l6 0.3l6 1l6 1.9l4.9 2.4l3.1 2.2l3 2.8l2.1 3l1.4 3l1.3 5l0.7 5l0.2 5l-0.4 5l-1.2 6l-2.8 8l-5.4 13l-7.1 14l-4.8 12.6l-2.1 4.4l-2.9 4.2l-2 2.3l-2 1.9l-12 9.3l-12 11.4l-11 8.9l-4 2.9l-3 2l-3 1.6l-6 2.4l-6 1.4l-3 0.4z"/>
<path fill="#fe0000" d="M670.4 229l-6 0.4l-2-0.1l-2-0.3l-3-1l-2-1l-4-2.8l-2-1.9l-2-2.2l-2-2.7l-2-3.2l-3-6.2l-1-2.8l-1.2-4.2l-0.8-4l-0.6-4l-0.6-8l0.2-8l1.1-9l1.7-8l2.7-9l3.3-8l3.6-7l4.2-7l4.4-6l5.1-6l5.9-5.9l6-5.1l6-4.3l7-4.3l7-3.5l7-2.7l7.2-2.2l7.8-1.6l7-0.7l7 0.2l6 1l6 1.8l4.9 2.3l3.1 2.1l3.2 2.9l2.2 3l1.4 3l1.3 5l0.8 5l0.2 5l-0.3 5l-1.2 6l-2.7 8l-5.4 13l-7.1 14l-4.6 12l-2.3 5l-2.7 4l-1.8 2.1l-2 1.9l-12 9.2l-12 11.4l-14 11.1l-5 3.2l-5 2.4l-5 1.6z"/>
<path fill="#fe1900" d="M675.4 206.1l-4 0l-4-0.8l-3-1l-2-0.9l-4-2.4l-3-2.3l-2.4-2.7l-1.9-3l-2-5l-1.3-5l-0.7-7l-0.1-4l0.6-7l1.2-7l1.1-4l0.9-3l2.9-7l3.1-6l3-5l2.9-4l4.2-5l6.5-6.4l5-4.1l6-4l6-3.2l4-1.7l6-2l5-1.1l6-0.6l5 0.2l4 0.6l4 1.5l2 1.1l3 2.3l2.5 2.4l2.4 3l1.4 2l1.5 3l0.7 2l0.9 4l0.2 2l-0.1 3l-1 6l-4.1 14l-1.1 3l-1.8 4l-6 11l-3.1 5l-2.2 3l-6 7l-8.2 8.3l-5 4.2l-14 8.9l-4 2l-2 0.7l-2 0.6z"/>
<path fill="#fe2800" d="M679.4 204.2l-4 0.7l-4-0.1l-4-0.8l-4-1.6l-4-2.3l-4-3.2l-2.4-2.9l-2.1-4l-1.7-5l-1-5l-0.4-5l0-5l0.3-4l1-6l1.8-7l2.2-6l2.7-6l2.3-4l3.9-6l3.1-4l3.5-4l4.8-4.6l5-4.1l4-2.8l5-2.9l6-2.8l6-2.1l4-1l6-0.8l4-0.1l5 0.6l4 1.2l3 1.7l3 2.2l2.6 2.5l1.7 2l2.1 3l1 2l1.1 3l0.7 3l0.2 2l0 3l-0.8 5l-4.2 15l-1.9 5l-4.1 8l-2.9 5l-3.2 5l-4.7 6l-7.6 8.2l-5 4.7l-4 3.1l-13 8.2l-4 2z"/>
<path fill="#fe3600" d="M678.4 203.1l-3 0.4l-4-0.2l-4-0.9l-4-1.7l-4-2.6l-3.6-3.1l-2.4-3l-1.6-3l-1.5-4l-1.1-5l-0.5-5l0-6l0.5-5l0.9-5l1.6-6l2.1-6l2.3-5l2.8-5l3.2-5l3.9-5l3.6-4l3.8-3.7l5-4.1l4-2.8l5-2.9l6-2.8l6-2.1l4-0.9l5-0.7l4-0.1l4 0.4l4 1.1l2 1l3 1.8l3 2.4l2.3 2.4l1.7 2.1l1.7 2.9l1.3 3l0.8 3l0.3 3l0 2l-0.7 5l-1 4l-3.2 11l-1.8 5l-1.9 4l-2.8 5l-3 5l-3.4 5l-5.7 7l-6.6 6.8l-3 2.8l-3 2.4l-12 7.7l-5 2.7l-3 1.1z"/>
<path fill="#fe4400" d="M676.4 202l-3 0.1l-4-0.7l-3-1l-4-2l-4-3.1l-3-3l-2-2.9l-1.6-3.4l-1.2-4l-0.9-5l-0.2-5l0.1-5l0.7-5l1.3-6l1.5-5l1.9-5l2.9-6l2.4-4l2.7-4l3.9-5l3.5-3.8l4-3.8l5-4l4-2.7l5-2.9l5-2.3l5-1.7l4-1l5-0.7l4-0.1l4 0.4l4 1.2l3 1.5l2.8 1.9l2.2 1.8l2.2 2.2l1.8 2.3l1.6 2.7l0.9 2l0.9 3l0.3 2l0.1 3l-0.6 5l-1 4l-3.4 12l-1.5 4l-1.9 4l-2.2 4l-3 5l-2.7 4l-3 4l-3.3 4l-7.2 7.5l-3 2.6l-3 2.3l-13 8.1l-5 2.4l-3 0.8z"/>
<path fill="#fe5200" d="M677.4 200.2l-3 0.1l-4-0.5l-4-1.4l-3-1.6l-3.6-2.8l-3-3l-2.3-3l-1.5-3l-1.3-4l-0.7-4l-0.4-5l0.1-5l0.6-5l1-5l1.7-6l2-5l1.9-4l2.8-5l3.3-5l3.2-4l3.6-4l3.6-3.4l4-3.3l5-3.5l5-2.9l5-2.2l4-1.4l5-1.3l5-0.6l4 0l4 0.7l3 1.2l3 1.5l3 2l2 1.6l2 2l1.9 2.6l1.2 2l1.2 3l0.5 2l0.3 2l0.1 3l-0.7 5l-1 4l-3.1 11l-1.9 5l-2 4l-2.2 4l-5.3 8l-5.5 7l-6.5 6.8l-3 2.7l-3 2.2l-12 7.6l-5 2.5l-3 1z"/>
<path fill="#fe6200" d="M679.4 198.1l-3 0.5l-4-0.2l-4-1.1l-3-1.4l-3-2l-3.2-2.9l-3.2-4l-1.7-3l-1.4-4l-0.9-4l-0.4-5l0.2-5l0.6-5l1.1-5l1.5-5l1.9-5l1.9-4l2.9-5l3.4-5l3.2-4l3.1-3.4l4-3.8l4-3.2l5-3.4l5-2.7l4-1.8l4-1.3l5-1.2l4-0.4l4 0.1l3 0.5l4 1.4l3 1.5l2.7 1.7l2.3 1.9l2 2.1l1.5 2l1.2 2l0.8 2l0.9 3l0.2 2l0 3l-0.8 5l-4.1 15l-1.1 3l-1.9 4l-2.1 4l-5.2 8l-5.5 7l-5.9 6.2l-5 4.2l-11 7.1l-5 2.8l-3 1.2z"/>
<path fill="#fe6f00" d="M680.4 196.1l-3 0.6l-4 0l-4-1l-3-1.4l-3.3-2.3l-3.1-3l-2.6-3.4l-2.1-3.6l-1.1-3l-0.9-4l-0.4-4l0-5l0.4-4l1-5l1.4-5l1.8-5l2.4-5l2.2-4l3.3-4.9l3.2-4.1l3.8-4.1l4-3.7l4-3.1l4-2.7l5-2.7l4-1.7l5-1.6l4-0.8l4-0.3l3 0.2l3 0.6l4 1.4l3 1.4l2 1.3l2.4 1.8l2 2l1.5 2l1.2 2l0.9 2.1l0.8 2.9l0.2 2l-0.1 3l-0.8 5l-3.9 14l-1.5 4l-3.6 7l-4.5 7l-5.5 7l-5.1 5.5l-5 4.2l-10 6.5l-6 3.4z"/>
<path fill="#fe7d00" d="M680.4 194.2l-3 0.6l-2 0l-2-0.2l-3-0.8l-3.7-1.8l-2.7-2l-3-3l-2.6-3.7l-2-3.7l-1-2.7l-0.9-3.9l-0.3-4l0.2-5l0.5-4l1.1-5l1.2-4l1.9-5l2.3-4.6l2.6-4.4l2.7-4l3.3-4l3.4-3.6l4-3.6l4-3.1l4-2.6l4-2.1l5-2l4-1.2l4-0.6l4-0.1l3 0.4l4 1.1l3 1.1l4 2.3l2 1.6l2 2l1.8 2.4l1 2l0.7 2l0.5 2l0.1 4l-0.3 3l-0.6 3l-4 14l-1.5 4l-3.1 6l-4.6 7l-5 6.3l-5 5.2l-4 3.3l-11 7.1l-5 2.8z"/>
<path fill="#fe8b00" d="M681.4 192l-2 0.6l-2 0.2l-3-0.1l-3-0.7l-3-1.4l-3-2.1l-2.6-2.5l-2.2-3l-2.3-4l-1.5-4l-0.8-3l-0.4-4l0.1-4l0.4-4l1.1-5l1.2-4.1l1.9-4.9l1.9-4l2.4-4l2.7-4l3.2-4l2.9-3.1l4-3.7l4-3.1l4-2.6l4-2.1l4-1.6l4-1.2l4-0.6l3-0.1l4 0.5l4 1l3 1.1l4 2.3l2 1.6l1.5 1.6l1.5 2l1 2l0.8 2l0.4 2l0.1 4l-0.7 5l-1.9 7l-2.5 8l-1.1 3l-3.1 6l-3.9 6l-4.8 6l-4.3 4.5l-4 3.4l-10 6.6l-5 2.8z"/>
<path fill="#fe9900" d="M680.4 190.1l-3 0.5l-3-0.3l-3-0.9l-3-1.6l-2.3-1.8l-2.7-3l-2-3.1l-1.9-3.9l-1.3-4l-0.6-3l-0.2-3l0.1-4l0.7-5l1-4l1.3-4l1.7-4l2-4l2.5-4l2.7-3.7l3-3.5l3-3.1l4-3.4l3.1-2.3l3.9-2.4l3.3-1.6l3.7-1.4l4-1l3-0.4l4 0l3 0.4l4 0.9l3 1.1l2 1.1l2 1.3l2 1.8l1.1 1.2l1.3 2l1 2l0.6 2l0.3 2l-0.2 4l-1.1 6l-4 12.8l-1.7 4.2l-2.7 5l-3.6 5.2l-4 4.9l-4 4.1l-3.6 2.8l-10.4 7l-5 2.7z"/>
<path fill="#fea800" d="M679.4 188.1l-3 0.2l-3-0.6l-3-1.4l-1.9-1.3l-2.1-2l-2-2.5l-2-3.5l-1.3-3l-0.9-3l-0.7-4l-0.3-3l0.1-4l0.7-4l1-4l1.4-4l1.8-4l2.1-4l2.1-3.2l2.9-3.8l3.1-3.4l3-2.9l3-2.4l3.2-2.3l3.8-2.1l4-1.8l3-0.9l3-0.5l4-0.3l4 0.1l3 0.5l3 0.9l2.6 1.1l3.4 2.2l1.8 1.8l1.2 1.5l0.9 1.5l0.8 2l0.4 2l0.1 2l-0.3 4l-1.3 6l-2.9 9l-2.8 7l-2.9 5l-3 4.2l-3.2 3.8l-3.8 3.7l-8 5.9l-6 3.9l-5 2.5z"/>
<path fill="#feb600" d="M681.4 185.2l-3 0.5l-2-0.1l-2.5-0.6l-2.5-1.2l-2-1.5l-2.2-2.3l-2.1-3l-1.4-3l-1-3l-0.8-4l-0.4-4l0.1-4l0.5-4l0.7-3l1.4-4l1.3-3l1.9-3.6l2-3.2l2.3-3.2l2.7-3.1l3-3l3-2.5l3-2.1l3-1.7l3-1.4l4-1.3l4-0.8l3-0.3l3 0l3 0.4l3 0.7l3 1.2l3 1.9l1.1 1l1.7 2l1.5 3l0.5 2l0.1 2l-0.3 4l-1.3 6l-2.8 8l-3 7l-2.2 4l-2.3 3.4l-3 3.5l-3.2 3.1l-5.8 4.7l-6 4.2l-5 2.8z"/>
<path fill="#fec400" d="M679.4 183l-2 0l-3-0.8l-2-1.1l-2-1.6l-1.4-1.5l-1.6-2.3l-1.4-2.7l-1-3l-0.7-3l-0.3-3l-0.1-3l0.3-4l0.7-4l0.8-3l1.5-4l1.4-3l1.8-3l2.1-3l2.5-3l2.4-2.4l2.9-2.6l2.1-1.5l3-1.8l3-1.5l3-1.2l3-0.8l3-0.6l3-0.3l3 0.1l3 0.4l3 0.9l2 0.9l3 2.2l2 2.6l1.1 2.6l0.3 2l0.1 2l-0.6 5l-1.4 5l-2.6 7l-2.9 6l-2.4 4l-3.1 4l-3.8 4l-4.7 4l-5 3.7l-5 3l-4 1.7z"/>
<path fill="#fed200" d="M679.4 180l-2-0.2l-2-0.7l-2-1.1l-2-1.9l-1.6-2.1l-1.1-2l-0.8-2l-0.8-3l-0.5-3l-0.1-3l0.1-3l0.5-3l0.6-3l1-3l1.2-3l1.5-2.9l3.4-5.1l2.6-3l2-1.9l2.5-2.1l2.5-1.7l5-2.7l3-1.1l3-0.8l5-0.6l3 0.1l2 0.4l2 0.6l2 0.8l2.7 2l1.6 2l0.7 1.4l0.5 1.6l0.3 3l-0.4 4l-1.3 5l-2.3 6l-2.8 5.7l-2.7 4.3l-3.1 4l-3.2 3.4l-4.1 3.6l-4.9 3.6l-4 2.4l-4 1.6z"/>
<path fill="#fee000" d="M683.4 176.2l-2 0.5l-2 0l-2-0.4l-1-0.5l-2-1.3l-1.4-1.5l-1.4-2l-0.9-2l-0.7-2l-0.6-3l-0.2-3l0.1-3l0.4-3l0.7-3l2-5.2l2.7-4.8l3.3-4.3l4-3.8l2.6-1.9l2.4-1.5l5-2.2l2-0.6l3-0.5l3-0.2l2 0.1l2 0.4l2 0.7l2 1.1l2 1.9l1.1 1.8l0.8 3l-0.1 3l-0.7 4l-1.2 4l-2.1 5l-2.2 4l-2.6 4l-3 3.8l-3 3.2l-3.4 3l-3.6 2.7l-4 2.3z"/>
<path fill="#feee00" d="M685.4 172.1l-2 0.6l-2 0.2l-2-0.2l-1-0.4l-2-1.3l-1-1l-1-1.5l-0.7-1.5l-0.7-2l-0.5-2l-0.2-2l0-3l0.9-5l1.8-5l2.4-4.4l3-3.9l4-3.7l4-2.6l2.9-1.4l2.1-0.7l4-0.8l2-0.1l2 0.2l3 0.9l2 1.3l1.1 1.2l1 2l0.4 2l-0.1 3l-0.5 3l-0.9 3l-1.7 4l-2.2 4l-1.9 3l-2.3 3l-2.7 3l-3.2 3l-2.6 2l-2.4 1.6z"/>
<path fill="#fefa00" d="M685.4 168l-2 0.5l-1 0l-2-0.5l-1-0.6l-1.4-1.4l-0.6-1l-0.9-2l-0.6-3l0.1-4l0.9-4l1.5-3.7l1.9-3.3l2.3-3l2.8-2.6l3.4-2.4l3.6-1.7l3-0.7l3-0.2l2 0.4l1 0.4l2 1.4l1 1.4l0.4 1l0.3 2l-0.1 2l-0.7 3l-2 5l-1.6 3l-2 3l-2.3 2.9l-2 2.1l-2.2 2l-2.8 2.1l-2 1.1z"/>
<path fill="#f5f3ff" d="M760.4 316.1l-7 0.6l-7 0.1l-7-0.3l-7-0.7l-7-1.2l-5-1.2l-6-1.7l-6-2.2l-6-2.8l-5-2.8l-5-3.5l-5.1-4.4l-1.7-2l-1.5-3l-0.6-3l0.1-2l0.3-1l1.3-3l1.6-3l6.1-10l6.1-9l10-14l38.1-52l34.9-46l13.4-17.3l6-7.4l5-5.8l6-6.5l3-2.7l2-1.1l2-0.5l3-0.2l2 0.5l2 0.7l3 1.8l3 2.1l4 3.2l5 4.8l5.3 6.4l5.4 8l3.8 7l4.1 9l2.8 8l2.2 8l1.9 10l1 9l0.3 9l-0.3 9l-1 9l-1.9 10l-2.1 8l-3.1 9l-3 7l-4.1 8l-4.8 8l-5 7l-5.8 7l-6.7 7l-6 5.4l-8 6.2l-6 4l-9 5.1l-8 3.7l-8 3.1l-7 2.1l-8 1.9l-5 0.9z"/>
<path fill="#eeecff" d="M759.4 314l-6 0.5l-7 0l-6-0.2l-7-0.8l-6-1.1l-7-1.7l-6-1.9l-6-2.4l-6-2.9l-5-2.9l-3.7-2.6l-3.3-3l-2.4-3l-1.2-3l-0.3-2l0.6-3l2.6-6l5.5-10l5.8-9l9-13l37-51l40.4-52.7l8-9.9l7-8.3l5-5.2l6-5.6l3-2.3l2-1l1-0.3l2 0l3 0.6l3 1.3l2 1.2l5 3.8l5.3 5.4l3.4 4l3.1 4l4.7 7l3.8 7l3.2 7l3.2 9l2.1 8l1.7 9l1 9l0.3 9l-0.3 8l-1 9l-1.9 10l-2.2 8l-2.8 8l-3 7l-4.1 8l-4.8 8l-5 7l-5.8 7l-5.9 6.1l-7 6.3l-7 5.4l-7 4.7l-7 3.9l-9 4.2l-8 3l-9 2.7l-7 1.5z"/>
<path fill="#e8e4ff" d="M762.4 312.1l-7 0.6l-7 0.2l-7-0.3l-7-0.8l-7-1.2l-5-1.2l-6-1.7l-6-2.2l-6-2.8l-4.7-2.7l-4-3l-3.3-3.1l-2.3-2.9l-0.9-2l-0.1-1l0.1-2l0.7-3l3.2-8l3.5-7l6.2-10l8.1-12l35.8-50l35.7-46.1l7-8.8l8-9.6l5-5.6l4-4l7-5.9l4-2.7l3-1.2l2 0l1 0.2l2 0.8l3 1.6l3 1.9l2 1.6l5 4.8l3 3.4l2.8 3.6l4.6 7l4.9 9l3.5 8l2.7 8l2.1 8l1.6 9l0.8 8l0.3 8l-0.3 8l-0.8 8l-1.6 9l-2.4 9l-2.7 8l-3 7l-4 8l-4.8 8l-4.2 6l-5.7 7l-5.8 6.2l-7 6.4l-6 4.8l-8 5.4l-8 4.5l-7 3.3l-8 3.1l-8 2.5l-7 1.6z"/>
<path fill="#e2ddff" d="M759.4 311l-6 0.5l-7 0l-6-0.3l-7-0.7l-6-1.1l-7-1.7l-6-2l-6-2.5l-5-2.7l-5-3.5l-3.5-3l-2.4-3l-0.9-2l-0.2-2l0.4-3l1.1-4l3.1-8l3-6l6.8-11l8.1-12l34.1-48l35.4-45.3l7-8.6l8-9.2l5-5.4l4-3.6l7-5.3l4-2.4l2-0.7l1-0.2l1 0l2 0.5l2 0.8l3 1.7l5 3.9l5 4.9l5 6.3l4.2 6.6l4.2 8l3 7l3.1 9l2 8l1.3 7l1 9l0.2 10l-0.5 9l-1 8l-1.9 9l-2.3 8l-2.9 8l-3.1 7l-3.7 7l-5 8l-5.1 7l-5.1 6l-5.9 6l-6.5 5.8l-6 4.6l-8 5.2l-7 3.9l-7 3.2l-7 2.7l-8 2.4l-8 1.8l-6 1z"/>
<path fill="#dcd6ff" d="M759.4 310.1l-7 0.5l-7 0l-7-0.5l-7-0.9l-7-1.5l-7-2.1l-6-2.4l-5-2.5l-5-3.1l-3.3-2.6l-2.7-3l-1.1-2l-0.6-3l0.1-3l0.9-4l1.6-5l1.5-4l2.5-5l8.4-14l8.1-12l25.2-36l5-7l5.4-7.1l33-41.6l6-7.2l7-7.8l5-5.2l4-3.5l6-4.3l5-2.8l2-0.6l2-0.2l3 0.4l2 0.8l2 1.1l2 1.4l3 2.6l3 2.9l2.9 3.1l4.6 6l3.7 6l4.1 8l3.3 8l2.7 9l2 9l1.1 8l0.5 8l0 9l-0.6 8l-1.6 10l-1.9 8l-2.2 7l-3.1 8l-3.8 8l-4 7l-4 6l-5.3 7l-5.4 6.1l-7 6.7l-6 5l-7 5l-6 3.8l-6 3.2l-8 3.6l-8 2.9l-8 2.2l-9 1.8z"/>
<path fill="#d5ceff" d="M761.4 309.1l-7 0.6l-8 0.1l-7-0.4l-8-1.1l-7-1.6l-6-1.8l-6-2.4l-6-3.1l-3.8-2.4l-3.5-3l-1.5-2l-1.3-3l-0.4-3l0.1-4l1.1-5l1.2-4l1.6-4l2.1-4l4-7l4.9-8l8-12l25-36l9.5-12.7l34-42.4l7-8l8-8.4l3-2.8l4-3l6-3.6l4-1.6l2-0.4l2-0.2l2 0.2l2 0.6l2 1l2 1.3l2 1.6l3 2.8l2.4 2.6l3.3 4l4.3 6l3.9 7l3.3 7l3.2 9l1.9 7l1.4 7l1.1 8l0.4 8l-0.1 8l-0.6 8l-1.2 8l-1.8 8l-2.8 9l-3.1 8l-3.4 7l-3.9 7l-3.9 6l-3.7 5l-5.9 7l-5.8 5.8l-6 5.3l-7 5.4l-6 3.9l-7 4l-7 3.3l-7 2.8l-9 2.7l-7 1.6z"/>
<path fill="#cfc7ff" d="M754.4 309l-7 0.1l-7-0.4l-7-0.9l-6-1.2l-7-2l-6-2.3l-5-2.4l-4.8-2.9l-2.4-2l-1.7-2l-1.6-3l-0.8-3l-0.2-3l0.3-5l0.8-4l1.7-5l1.9-4l3.2-6l7.2-12l12.1-18l8.3-11.8l12.4-18.2l8.6-11.3l11.2-13.7l9.8-12.4l13-15.8l7-7.8l8-8.1l3-2.6l4-2.8l4-2.1l3-1.1l3-0.8l2-0.3l2-0.1l2 0.3l2 0.5l2 1l2 1.4l2 1.6l3 3l5.1 6.1l4.7 7l3.7 7l3.1 7l2.7 8l2 8l1.3 8l0.8 8l0.2 8l-0.4 8l-0.9 8l-1.7 9l-2.2 8l-2.9 8l-3 7l-4.2 8l-3.7 6l-5 7l-4.9 6l-5.7 6l-6 5.5l-6 4.7l-6 4.2l-7 4.2l-8 4l-7 2.8l-7 2.3l-8 2.1l-9 1.5z"/>
<path fill="#c9c0ff" d="M759.4 308l-7 0.4l-7 0l-7-0.6l-7-1.1l-6-1.5l-6-1.8l-5.8-2.4l-5.6-3l-2.7-2l-1.9-2l-1.9-3l-1.1-3l-0.5-4l0-6l0.4-3l1.6-5l1.3-3l3.6-7l7-12l11.3-17l9.3-13.3l11.9-17.7l8.1-10.7l11-13.3l10-12.5l14-16.8l7-7.5l7-6.9l4-3.3l4-2.6l2-0.9l3-1l5-1.1l2-0.2l2 0l2 0.4l2 0.6l2 1l2 1.3l4 3.7l4.8 5.8l4.6 7l3.3 6l3.5 8l2.4 7l2 8l1.4 8l0.8 8l0.2 8l-0.3 8l-1.1 9l-1.4 7l-1.8 7l-3.1 9l-3 7l-3 6l-4.1 7l-4.8 7l-4.7 6l-5.7 6.2l-6 5.7l-6 4.9l-7 4.9l-6 3.7l-6 3.1l-7 3.1l-8 2.9l-7 2l-8 1.6z"/>
<path fill="#c3b9ff" d="M762.4 307.1l-7 0.6l-7 0.1l-7-0.4l-7-0.9l-8-1.8l-5.7-1.7l-5.3-2.1l-5.4-2.9l-2.6-2l-1.9-2l-1.9-3l-1.1-3l-0.8-4l-0.3-6l0.4-4l1.2-4l1.7-4l3.5-7l3.4-6l3.6-6l10.5-16l8.7-12.5l12.4-18.5l3.6-5l5-6.3l10.7-12.7l10.3-12.9l12-14.3l6-6.5l7-6.9l5-4.4l4-2.6l2-0.9l3-1l6-1.2l4-0.1l2 0.3l2 0.6l2 0.8l2 1.2l2 1.5l2 2l4 4.7l4.5 6.7l3.8 7l3.1 7l2.5 7l2.1 8l1.3 7l0.9 8l0.3 8l-0.3 8l-0.8 8l-1.3 7l-1.7 7l-2.9 9l-2.8 7l-3.4 7l-4 7l-4 6l-4.6 6l-5.3 6l-5.4 5.4l-6 5.2l-7 5.2l-6 3.8l-7 3.9l-6 2.7l-8 3.1l-7 2.1l-7 1.6z"/>
<path fill="#b9aeff" d="M756.4 307l-7 0.2l-6-0.3l-6-0.6l-6-1.1l-6-1.4l-5.3-1.8l-4.6-2l-1.9-1l-2.9-2l-2.2-2l-2.2-3l-1.5-3l-1.1-4l-0.7-5l0-4l0.4-4l1.4-4l5.4-11l5.8-10l10.4-16l9-13.1l11.9-17.9l3.6-5l4.5-5.6l11.3-13.4l9.7-12l13-15.3l5-5.3l6-5.9l5.1-4.5l1.9-1.5l2-1.2l2-0.9l3-1l3-0.7l4-0.5l3-0.1l2 0.2l2 0.3l2 0.7l2 0.9l2 1.2l2 1.6l2 2l4 4.9l4.5 7.1l4 8l2.7 7l2.5 8l1.5 7l1.1 7l0.6 8l0 8l-0.5 8l-1.2 8l-1.7 8l-2.1 7l-2.9 8l-3.2 7l-3.8 7l-4.4 7l-4.4 6l-5.1 6l-5.6 5.8l-6 5.4l-6 4.6l-7 4.7l-6 3.4l-7 3.4l-7 2.7l-7 2.3l-8 1.9l-7 1.2z"/>
<path fill="#ada0ff" d="M753.4 306l-7 0l-6-0.5l-6-0.9l-6-1.4l-4-1.2l-4.8-2l-3.3-2l-3.6-3l-2.4-3l-1.6-3l-1.8-5l-1.1-5l-0.2-4l0.5-4l0.8-3l2.1-5l4.4-9l5.2-9l9-14l8.2-12l9-14l4.1-6l7.5-9.6l10.7-12.4l10.3-12.6l9-10.5l5-5.5l6-5.9l7-6.2l3.3-2.3l3.7-1.8l2-0.7l3-0.6l3-0.3l3 0l5 0.4l3 0.8l2 0.9l2 1.1l2 1.4l2 1.7l2 2l2 2.5l2 2.9l3 5.2l3.1 6.5l2.6 7l2.6 9l1.3 7l1 8l0.4 7l-0.2 8l-0.8 8l-1.3 8l-2 8l-2.2 7l-3.3 8l-2.9 6l-4 7l-4.6 7l-4.7 6l-5.4 6l-5.6 5.4l-6 5.1l-6 4.3l-6 3.8l-7 3.8l-7 3.1l-7 2.5l-6 1.8l-8 1.7l-7 1z"/>
<path fill="#a191ff" d="M754.4 305l-7 0l-6-0.5l-6-0.9l-5-1.2l-4-1.4l-4.1-2l-3.1-2l-3.3-3l-1.6-2l-1.4-2l-2.5-5l-1.6-5l-0.6-4l0.1-4l0.7-3l1.9-6l2.1-5l4.1-8l4.8-8l7-11l8.5-12.7l8.3-13.3l4.7-6.8l6-7.6l11.1-12.6l9.9-12l10-11.4l5-5.4l6-5.7l4-3.2l6-4.1l2-1l2-0.7l4-0.9l5-0.1l6 0.9l3 0.9l2 0.8l4 2.4l4 3.5l2 2.2l2 2.7l3 5.1l3 6.5l2.6 7.5l2.1 8l1.4 8l0.7 7l0.2 8l-0.3 8l-1 8l-1.4 7l-2.1 8l-2.4 7l-2.9 7l-3.6 7l-3.6 6l-4.1 6l-4.7 6l-4.9 5.4l-5 4.9l-6 5.1l-6 4.4l-6 3.8l-6 3.3l-6 2.8l-8 3l-6 1.8l-8 1.9l-7 1z"/>
<path fill="#9483ff" d="M756.4 304l-7 0.1l-6-0.5l-5-0.7l-6-1.6l-5-2.1l-3.7-2.2l-3.7-3l-2.6-3l-3-4.5l-2-3.9l-1.2-3.6l-0.6-4l0.2-4l1.2-5l2-6l2.4-5.9l4.4-8.1l8.6-14l9-13.6l8.3-13.4l4.7-6.8l5-6.4l11.4-12.8l9.6-11.5l10-11.2l5-5.3l5-4.6l5-3.8l7-4.3l2-0.9l2-0.7l4-0.6l2 0l3 0.3l5 1.2l5 1.9l4 2.3l4 3.4l2 2.2l2 2.6l3 4.8l3 6.6l2 5.7l2 7.7l1.3 7.2l0.7 7l0.2 7l-0.3 8l-0.7 7l-1.7 9l-1.8 7l-2.4 7l-2.9 7l-2.9 6l-4.1 7l-4 6l-4.7 6l-4.7 5.3l-5 4.9l-6 5.1l-6 4.5l-6 3.8l-7 3.8l-6 2.8l-6 2.3l-7 2.2l-7 1.6l-7 1.1z"/>
<path fill="#8875ff" d="M758.4 303l-7 0.1l-6-0.5l-5-0.8l-5.9-1.8l-4.5-2l-3.6-2.2l-3.3-2.8l-3.7-4l-2.8-4l-2.1-4l-1.3-4l-0.3-3l0.2-3l1.6-7l1.9-6l1.9-5l2-4l1.6-3l7.9-13l9.1-14l8.5-14l4.1-6l5.7-7.1l10.8-11.9l10.2-12.1l13-14.1l5-4.5l5-3.7l6-3.7l5-2.4l2-0.6l2-0.2l4 0l5 1.1l5 1.9l4 2.1l4 2.9l4 4l3 4.1l3 5.2l2 4.6l2.1 6.4l1 4l1 5l0.9 7l0.4 8l-0.1 7l-0.7 8l-1.2 7l-1.9 8l-2.2 7l-2.8 7l-3.3 7l-3.4 6l-3.9 6l-4.5 6l-4.3 5l-5.1 5.2l-5 4.5l-6 4.8l-6 4l-7 4.1l-6 2.9l-7 2.8l-6 2l-7 1.8l-7 1.2z"/>
<path fill="#7c66ff" d="M758.4 302l-6 0l-7-0.9l-5-1.2l-5.2-1.9l-3.9-2l-4.2-3l-3.7-3.5l-3.9-4.5l-1.9-3l-1.3-3l-0.8-3l-0.3-3l0.7-5l1.3-6l1.5-5l2-5l4-8l6.4-11l9.1-14l8.2-13.7l3.6-5.3l3-4l3.4-4l10.1-11l10.9-12.7l9-9.6l6-5.7l5-3.9l6-3.8l7-3.3l3-0.8l4-0.1l4 0.7l4 1.4l5.3 2.8l4.7 3.2l4 3.8l3 3.7l3 5l2.5 5.3l1.5 4.1l2 7.8l1.1 7.1l0.5 8l0 7l-0.6 8l-1.3 8l-1.6 7l-2.5 8l-2.8 7l-3.4 7l-3.4 6l-3.9 6l-4.6 6l-4.5 5.2l-5 5.1l-5 4.4l-6 4.7l-6 4l-6 3.4l-7 3.4l-6 2.4l-7 2.2l-6 1.5l-7 1.1z"/>
<path fill="#7058ff" d="M768.4 300.1l-7 0.6l-6 0l-6-0.6l-5.3-1.1l-5.7-2l-4-2l-4.5-3l-4.5-3.9l-3-3.1l-2.1-3l-1.1-2l-0.8-2l-0.7-3l0-4l0.8-6l1.1-5l1.6-5l1.6-4l1.9-4l7.6-14l8.3-13l7.7-13l3.1-4.8l3-4.1l3.3-4.1l11.7-12.7l10-11.6l9-9.1l5-4.7l5-4l6-3.8l6-2.9l3-1.1l2-0.5l2-0.2l2 0l2 0.3l3 0.8l4 1.8l5 3.1l4 3.1l4 3.9l3 3.9l3 5.1l2 4.5l2.1 6.1l1.6 7l0.8 6l0.4 7l-0.1 7l-0.7 7l-1.1 7.1l-1.9 7.9l-2.2 7l-2.8 7l-2.9 6l-3.3 6l-3.9 6l-4 5.4l-4.7 5.6l-4.3 4.4l-5 4.6l-5 4.1l-6 4.2l-6 3.6l-6 3.1l-6.9 3l-5.8 2l-7.4 2z"/>
<path fill="#634aff" d="M767.4 299l-6 0.4l-6-0.2l-6-0.9l-5-1.3l-5-2l-5-2.8l-5-3.5l-4-3.7l-2.4-3l-1.6-2.7l-0.9-2.3l-0.6-3l0.1-5l0.8-6l1.1-5l1.7-5l3.2-7l7.4-14l7.5-12l7.6-13l3.1-4.9l3-4l3-3.6l10.7-11.5l10.3-11.6l10-9.9l4-3.7l5-3.9l5-3.1l6-2.9l6-1.9l2-0.3l2 0l2 0.3l3 0.9l4 1.9l4.7 3.2l4.6 4l3.7 4l3 4.1l3 5.4l2 4.8l1.7 5.7l1.3 5.9l0.9 7.1l0.2 6l-0.2 6l-0.8 7l-1.1 6.6l-1.9 7.4l-2.3 7l-2.8 6.9l-3 6.1l-3 5.3l-4 6.1l-4.3 5.6l-4.7 5.5l-5 5l-5 4.4l-5.4 4.1l-6 4l-5.6 3.2l-6 3l-7.2 2.8l-6.6 2l-4.3 1z"/>
<path fill="#573cff" d="M772.4 297.1l-6 0.6l-6 0.1l-6-0.5l-5-1l-5-1.6l-5-2.2l-5-2.9l-5-3.7l-2-1.9l-2.5-3l-1.6-3l-0.9-3l-0.3-5l0.5-6l0.9-5l1.4-5l3-7l7.1-14l7.3-12l6.7-12l3.4-5.4l3.3-4.6l3.7-4.4l11.1-11.6l7.9-8.8l10-9.8l5-4.6l4-3.2l5-3.2l6-2.8l3-1.1l4-1.1l2-0.3l2 0l2 0.3l2 0.5l4 1.8l4 2.6l4.2 3.7l3.8 4l3.1 4l2.9 4.7l2 4.3l2.2 6l1.5 6l0.9 6l0.4 6l0 6.4l-0.7 7.6l-1 6l-1.3 5.9l-2 6.6l-2 5.4l-3 6.8l-3 5.6l-4 6.5l-4 5.6l-4 4.9l-5 5.3l-4.7 4.4l-4.8 4l-5.5 4l-6.5 4l-5.8 3l-4.5 2l-5.4 2l-6.8 1.9z"/>
<path fill="#4c2fff" d="M769.4 296l-6 0.2l-5-0.3l-5.7-0.9l-5.3-1.5l-6-2.4l-5-2.6l-4-2.7l-3.1-2.8l-2.4-3l-1.6-3l-0.5-2l-0.4-4l0-5l0.5-5l1.1-5l1.3-4l2.6-6l6.5-13l7.2-12l5.9-11l3.9-6.4l3.4-4.6l3.6-4.2l10.7-10.8l9.3-10.1l10-9.5l4-3.5l4-3l5-3l6-2.5l3-0.9l4-0.9l2-0.2l2 0.1l2 0.4l2 0.7l4 2.1l4 3l4 4l3.5 4.3l2.7 4l2.8 5l2.1 5l1.8 6l1.1 5.4l0.7 6.6l0.2 6l-0.3 6l-0.7 6l-1.1 6l-1.8 7l-2 5.9l-3 7.1l-3 5.9l-3 5.1l-4 5.9l-4 5.2l-4 4.5l-4.4 4.4l-4.6 4.1l-5.1 3.9l-5.9 4l-5.3 3l-6.3 3l-5.4 2.1l-6.3 1.9l-5.7 1.2z"/>
<path fill="#411eff" d="M775.4 294.1l-6 0.7l-6 0.1l-6-0.6l-5-1l-6-1.8l-5-2l-5-2.7l-3.8-2.8l-2.2-2.2l-2.1-2.8l-1.4-3l-0.5-3l-0.4-5l0.1-5l0.8-5l1.4-5l2.4-6l6.3-13l8.2-14l6.3-12l3.9-6l3-3.9l3-3.3l9-8.8l9-9.7l3-3l10-9.2l6-4.7l3-1.9l3-1.5l3-1.2l4-1.3l3-0.7l4-0.5l2 0l3 0.7l3 1.3l4 2.7l4 3.8l3.6 4.2l3.4 5l2.8 5l2.1 5l1.7 5l1.3 6l0.7 5l0.3 6l-0.1 6l-0.6 6l-1 6l-1.2 5.2l-2 6.6l-2 5.3l-3 6.6l-3 5.5l-3 4.8l-4 5.6l-4 4.8l-4 4.4l-4.5 4.2l-4.7 4l-5.6 4l-4.8 3l-5.4 2.9l-5 2.3l-6 2.2l-5.5 1.6z"/>
<path fill="#390fff" d="M774.4 294l-6 0.6l-5 0l-6-0.6l-5-1l-6-1.8l-5-2l-5-2.8l-4-3l-2.3-2.4l-2-3l-0.8-2l-0.7-4l-0.4-5l0.3-5l0.9-5l1.1-4l2.4-6l6.3-13l8.2-14l6.3-12l3.8-6l5-6l10.2-10l8.7-9.5l3-3l10-9.1l6-4.7l3-1.9l3-1.5l3-1.3l4-1.2l3-0.7l4-0.5l2 0l3 0.7l3.6 1.7l3.4 2.4l3.9 3.6l3.3 4l3.5 5l2.8 5l2.2 5l1.6 5l1.2 5l0.9 6l0.3 5l0 6l-0.7 7l-1 6l-1.1 5l-1.9 6.4l-2.1 5.6l-2.9 6.4l-3 5.6l-3 4.8l-3 4.3l-4 5l-5 5.5l-4.7 4.4l-4.8 4l-5.5 4l-5 3.1l-5.5 2.9l-5.5 2.4l-6 2.2l-5.4 1.4z"/>
<path fill="#3000ff" d="M772.4 294.1l-6 0.3l-5-0.2l-5-0.6l-6-1.4l-5-1.6l-5-2.2l-4.2-2.4l-3.9-3l-1.9-2l-2-3.1l-1-2.9l-0.6-4l-0.3-5l0.4-5l0.9-5l1.3-4l2.5-6l5.8-12l8.2-14l6.8-12.9l4-6.1l5-5.7l9.5-9.3l8.5-9.2l3-3l10-9.2l6-4.7l3-1.8l3-1.5l3-1.3l4-1.2l3-0.7l4-0.5l2 0.1l3 0.6l3 1.4l4 2.7l3.5 3.3l3.5 4.1l3.4 4.9l2.8 5l2.2 5l2 6l1.1 5l0.8 6l0.3 6l-0.2 6l-0.7 6l-1 6l-1.7 6.7l-2 6.1l-2.1 5.2l-2.9 6.1l-4 6.9l-3 4.5l-4 5.2l-4 4.6l-4.7 4.7l-4.3 3.9l-5 3.8l-5 3.4l-5 2.9l-6 3l-5 2l-6 2l-5 1.2z"/>
<path fill="#2d1eff" d="M778.4 279.1l-5 0.7l-5 0.1l-5-0.4l-4-1l-3-1.3l-2-1.4l-3.7-3.8l-2.7-4l-1.9-4l-0.8-3l-0.4-3l0.1-4l0.8-4l1.1-4l4.8-13l2.4-5l2.9-5l5-8l4.1-6l4.8-6l6.3-7l4.2-4.4l4-3.7l10-7.4l3-2l3-1.7l3-1.4l4-1l4-0.2l4 0.4l3 0.8l2 0.8l3 1.5l3 1.9l1.5 1.4l1.5 2l2.3 4l1.2 3l1 3l1.1 5l0.6 6l0.2 4l-0.2 4l-0.6 6l-1 5l-1 4l-1.3 4l-1.9 5l-1.9 4l-2.2 4l-4.6 7l-3.1 4l-2.7 3l-3.9 3.8l-3 2.7l-4 3l-3 2.1l-7 3.9l-4 1.8l-6 2.2z"/>
<path fill="#2a2cff" d="M772.4 279l-5 0l-4-0.5l-3-0.8l-3-1.4l-3-2.5l-3-3.2l-2.5-3.6l-1.4-3l-0.9-3l-0.5-3l0-3l0.5-4l1.1-4l1.3-4l3.2-9l1.8-4l2.7-5l4.3-7l3.9-6l3-4l5-6l6.3-7l4.2-4.2l3-2.5l12-8.6l4-2.2l3-1.2l4-0.8l4 0l2 0.3l3 0.8l4 1.6l2 1.1l3 2l2 2.1l1.7 2.6l1.4 3l1.5 4l1 4l0.7 5l0.3 4l-0.1 5l-0.3 4l-0.7 5l-1.1 5l-1.2 4l-1.8 5l-2.2 5l-2.7 5l-1.8 3l-2.9 4l-3.2 4l-3.6 3.9l-3 2.9l-3 2.6l-4 3l-5 3.2l-3 1.6l-5 2.3l-3 1.2l-5 1.6l-4 0.9l-3 0.5z"/>
<path fill="#273cff" d="M773.4 278.1l-4 0l-4-0.4l-3-0.7l-3-1.3l-3.6-2.7l-2.9-3l-2.2-3l-2-4l-0.9-3l-0.4-3l0-3l0.4-3l2-7l3.5-10l1.7-4l2.8-5l4.2-7l4.1-6l2.9-4l5-6l5.4-5.9l4-4l3-2.6l12-8.4l4-2.2l3-1.2l4-0.7l4 0l4 0.8l4 1.6l3 1.8l3 2.2l1.5 1.6l1.5 2.1l1.4 2.9l1.5 4l0.9 4l0.6 4l0.3 4l0 5l-0.4 5l-0.8 5l-2.1 8l-1.8 5l-2.2 5l-2.2 4l-2.5 4l-2 3l-3.2 4l-3.5 3.9l-3 2.9l-3 2.6l-4 3l-3 2l-5 2.9l-7 3.2l-4 1.3l-4 1.1l-4 0.7z"/>
<path fill="#2349ff" d="M774.4 277l-4 0.1l-3-0.2l-3-0.7l-3.1-1.2l-3.9-2.8l-3.3-3.2l-2.2-3l-2-4l-0.8-3l-0.3-2l-0.1-3l0.4-3l0.7-3l1.2-4l3.4-10l1.7-4l2.7-5l3-5l4-6l3.6-5l4.1-5l5.3-6l4.6-4.6l3-2.6l12-8.4l4-2.1l3-1.2l3-0.6l4-0.1l4 0.8l4 1.5l3 1.7l2.1 1.6l2.3 2l1.6 1.9l1.6 3.1l1.2 3l1.1 4l0.7 4l0.3 4l0 4l-0.3 5l-0.5 4l-0.8 4l-1.7 6l-1.4 4l-1.7 4l-2 4l-2.4 4l-2.7 4l-2.2 3l-3.2 3.7l-3 3.1l-3 2.7l-4 3.2l-4 2.8l-3 1.8l-4 2.1l-4 1.8l-4 1.5l-4 1.1l-4 0.8z"/>
<path fill="#1f57ff" d="M772.4 276l-4-0.3l-3-0.7l-3-1.4l-3-2.1l-3-2.6l-2.5-2.9l-1.7-3l-1.2-3l-0.5-2l-0.3-3l0.2-3l0.5-3l1.4-5l3.3-10l2.2-5l2.2-4l3.6-6l3.4-5l3.7-5l4.1-5l4.6-5.2l4-4l3-2.5l12-8.3l4-2.2l3-1.1l3-0.6l4 0l3 0.6l4 1.5l3 1.7l2 1.5l3 2.7l1.5 1.9l1.5 2.7l1.2 3.3l0.8 3l0.7 4l0.3 4l0 5l-0.5 5l-0.7 4l-1.1 5l-1.3 4l-1.9 5l-1.9 4l-2.2 4l-2.6 4l-2.1 3l-3.3 4l-2.8 3l-3.1 3l-6.5 5.2l-4 2.6l-3 1.7l-4 1.9l-5 2l-4 1.2l-4 0.8l-4 0.5z"/>
<path fill="#1b65ff" d="M781.4 274.1l-4 0.6l-4 0.2l-4-0.3l-3-0.9l-4-2.1l-3.5-2.6l-2.9-3l-2.1-3l-0.9-2l-1-3l-0.4-3l0.1-3l0.5-3l1-4l4.3-13l1.9-4l2.8-5l3.9-6l3.5-5l3.9-5l4.2-5l3.7-3.9l4-3.7l12-8.4l4-2.3l3-1.2l3-0.8l3-0.2l4 0.6l3 1l3 1.5l2.1 1.4l2.4 2l2.5 2.5l1 1.3l1.2 2.2l1.2 3l0.8 3l0.6 4l0.3 4l0 4l-0.3 4l-0.6 4l-0.8 4l-1.1 4l-1.8 5l-3.3 7l-4.3 7l-4.9 6.3l-3 3.3l-3 2.8l-6 4.8l-3 2l-4 2.4l-4 1.9l-3 1.2l-4 1.4z"/>
<path fill="#1773ff" d="M780.4 273.1l-4 0.4l-4-0.1l-3-0.6l-3-1.2l-4-2.3l-2.9-2.3l-2.7-3l-1.8-3l-0.8-2l-0.8-3l-0.1-3l0.3-3l1.4-6l4.4-13l1.9-4l2.8-5l3.3-5l3.6-5l3.9-5l3.5-4l4-4.2l3-2.7l12-8.3l3-1.8l3-1.4l3-0.9l3-0.3l4 0.4l3 0.9l2.6 1.3l2.4 1.6l2 1.6l2.7 2.8l1.5 2l1.2 2l0.8 2l0.9 3l0.6 3l0.4 4l0 4l-0.3 4l-0.6 4l-0.8 4l-1.1 4l-1.8 5l-3.3 7l-1.7 3l-2.7 4l-4.8 6.1l-3 3.2l-3 2.8l-3 2.5l-4 2.9l-3 1.8l-4 2.2l-4 1.8l-3 1.1l-4 1.1z"/>
<path fill="#1382ff" d="M779.4 272.1l-4 0.1l-3-0.4l-4-1.4l-3-1.4l-3-2l-3-2.8l-1.7-2.2l-1.6-3l-0.7-2.1l-0.5-2.9l0-2l0.3-3l0.7-3l1.1-4l4.1-12l2-4l2.3-4l6.1-9l3.9-4.9l3.5-4.1l3.5-3.6l3-2.7l12-8.3l4-2.2l3-1.3l3-0.7l3 0l3 0.5l3 1l2.3 1.3l2.7 1.9l2 1.9l2 2.3l2 2.8l1 2l1 2.9l0.5 2.2l0.4 3l0.2 4l-0.2 4l-0.4 4l-0.8 4l-1 4l-2.5 7l-3.5 7l-2.5 4l-2.1 3l-5.1 6.1l-3 2.9l-3 2.7l-6 4.4l-4 2.3l-3 1.5l-3 1.3l-4 1.4l-4 1z"/>
<path fill="#0f8fff" d="M783.4 270.1l-4 0.5l-3 0l-3-0.6l-4-1.4l-4-2l-3-2.2l-2.2-2.4l-1.8-2.7l-1-2.3l-0.6-3l-0.1-2l0.2-3l1.4-6l3.9-12l1.8-4l2.2-4l2.6-4l3.5-5l3.9-5l3.2-3.7l3-3.1l3-2.7l12-8.3l3-1.7l3-1.4l3-0.8l2-0.2l3 0.2l3 0.8l2 0.9l2 1.2l2.3 1.8l2 2l1.7 2.1l1.9 2.9l1.1 2.1l1 2.9l0.6 3l0.3 3l0 3l-0.2 4l-1.3 7l-2.1 7l-3.1 7l-1.6 3l-2.5 4l-4.6 6l-5.5 5.7l-6 4.8l-6 3.8l-4 1.9l-3 1.2z"/>
<path fill="#0c9eff" d="M786.4 268l-4 0.8l-3 0.1l-4-0.6l-4-1.1l-3-1.3l-3.1-1.9l-2.9-2.6l-1.8-2.4l-1.2-2.5l-0.7-2.5l-0.2-2l0.2-3l0.5-3l1-4l3.7-11l1.2-3l2.1-4l2.4-4l2.7-4l6.1-7.7l3-3.2l3-2.8l11-7.9l4-2.5l3-1.4l3-1l2-0.4l3 0.1l3 0.8l2 0.8l2 1.3l2 1.5l2.3 2.4l1.7 2.3l1.7 2.7l1.3 2.8l0.8 2.2l0.4 2l0.4 3l-0.1 6l-0.9 6l-2 7l-2.9 7l-3.4 6l-4.4 6l-4.9 5.4l-5 4.4l-6 4.1l-6 3.1l-3 1.1z"/>
<path fill="#09abff" d="M788.4 266l-3 0.7l-3 0.3l-4-0.3l-3-0.5l-3-0.8l-3-1.3l-3-1.9l-2-1.8l-1.9-2.4l-1.1-2l-0.6-2l-0.3-2l0-3l0.4-3l1.9-7l3.5-10l1.4-3l1.6-3l3.1-4.8l3-4.2l4-4.8l3-3.1l3-2.7l8-5.8l4-2.6l4-2.1l3-1.2l3-0.5l3 0.2l2 0.5l2 0.9l2 1.2l2 1.6l2 2.1l1.7 2.3l1.3 2.2l1.3 2.8l1.1 3l0.7 4l0.2 3l-0.2 3l-0.9 6l-1.4 5l-2.3 6l-3.2 6l-4.1 6l-4.3 5l-4.9 4.6l-3 2.4l-3 2l-5.6 3z"/>
<path fill="#06baff" d="M789.4 264l-3 0.6l-3 0.2l-4-0.2l-3-0.5l-3-0.8l-3-1.3l-2-1.3l-2-1.6l-1.7-2.1l-1.1-2l-0.7-2l-0.4-2l0-2l0.3-3l1.5-6l4.3-12l2.5-5l2.5-4l2.8-3.8l3-3.7l3-3.2l3-2.6l7-5.2l4-2.7l4-2.3l3-1.3l3-0.7l2 0l3 0.6l2 0.8l2 1.2l3.1 2.9l1.5 2l1.3 2l1.1 2.3l1.1 2.7l1.2 5l0.2 2l0.1 3l-0.6 5l-1.5 6l-2.3 6l-3.2 6l-3.4 5l-4.3 5l-4.3 4.1l-5.3 3.9l-2.7 1.7l-3 1.5z"/>
<path fill="#04c8ff" d="M788.4 262.1l-3 0.4l-3 0.1l-3-0.2l-3-0.6l-2.6-0.8l-2.4-1.1l-2-1.4l-1.6-1.5l-1.4-1.8l-0.7-1.2l-0.7-2l-0.3-2l-0.1-2l0.4-3l0.6-3l1.2-4l3.4-9l2.9-6l1.8-3l2.5-3.5l2-2.5l3-3.2l4.4-3.8l4.6-3.6l4-2.8l4-2.4l3-1.4l3-0.8l2-0.2l3 0.5l2 0.8l1.4 0.9l1.6 1.2l1.7 1.8l1.5 2l1.2 2l1.7 4l1.2 5l0.3 3l0.1 3l-0.6 5l-1.3 5l-2 5l-3.2 6l-3.6 5.1l-4.4 4.9l-4.6 4.1l-3 2.1l-3 1.8l-4.6 2z"/>
<path fill="#02d6ff" d="M786.4 260l-3 0.2l-3-0.2l-3-0.5l-2-0.6l-2-0.9l-2-1.3l-1.8-1.7l-1.2-1.7l-0.6-1.3l-0.6-2l-0.2-2l0.1-2l0.9-5l2.4-7.2l3.4-7.8l3.6-6.1l4-5.1l2.8-2.8l3.2-2.9l4-3.3l4-2.8l3-1.9l3-1.5l3-0.9l2-0.2l2 0.1l2 0.6l3 1.8l1.1 1l1.7 2l2.2 3.7l1.5 4.3l0.8 5l0.1 3l-0.1 3l-0.8 5l-1.5 5l-3 6l-3 4.7l-4 4.8l-3.8 3.5l-4.2 3.1l-4 2.1l-5 1.8z"/>
<path fill="#01e4ff" d="M789.4 257.1l-5 0.6l-3-0.1l-2-0.3l-2-0.6l-2-0.8l-2-1.3l-1.7-1.6l-0.7-1l-1-2l-0.4-2l-0.1-2l0.2-2l0.5-3l1.5-5l3-7l2.1-4l1.8-3l2.2-3l2.5-3l5-5l6.1-4.8l3-2l3-1.6l3-1l2-0.3l2 0.1l2 0.6l1.9 1l1.1 0.8l2 2.2l2 3.5l1.4 4.5l0.6 4l0 5l-0.8 5l-1.5 5l-1.8 4l-2.9 4.9l-3 3.7l-3 3l-4 3.2l-4 2.4l-4 1.7z"/>
<path fill="#00f2ff" d="M784.4 255l-4-0.4l-2-0.7l-1.9-0.9l-1.3-1l-1-1l-0.8-1.1l-0.8-1.9l-0.4-3l0.5-4l1.4-5l2.3-5.5l3-5.5l3.4-5l4.5-5l5.1-4.6l5-3.5l4-1.9l2-0.5l2-0.2l1 0.1l2 0.6l1.7 1l1.2 1l2.1 2.8l1.4 3.2l0.9 4l0.3 4l-0.5 5l-1.1 4.6l-1.7 4.4l-2.2 4l-3 4l-3.1 3.3l-4 3.2l-4 2.4l-4 1.7l-4 1z"/>
<path fill="#00fcff" d="M786.4 252l-3-0.1l-3.3-0.9l-1.7-0.9l-1-0.9l-1-1.2l-0.5-1l-0.4-1l-0.3-2l0.1-2l0.3-2l1.1-4l2.1-5l2.7-5l3.6-5l4.3-4.8l4-3.5l4-2.7l2-1.1l2-0.7l3-0.5l1.7 0.3l1.3 0.5l2 1.5l1 1.1l1 1.7l1.2 3.2l0.6 3l0.1 3l-0.4 4l-1 4l-1.6 4l-1.9 3.6l-2.5 3.4l-2.5 2.8l-3 2.6l-3 2l-4 2l-4 1.2z"/></g>
<ellipse cx="743.5" cy="191.6" rx="113.8" ry="115" fill="none" stroke="#f0408f" stroke-opacity="0.9" stroke-width="1"/>
<rect x="578.9" y="24.9" width="329.3" height="333.4" fill="none" stroke="#5a5a5a" stroke-width="1.2"/>
<path d="M578.9 33.23h4.42M908.2 33.23h-4.42M587.13 24.9v3.42M587.13 358.3v-3.42M578.9 41.57h4.42M908.2 41.57h-4.42M595.37 24.9v3.42M595.37 358.3v-3.42M578.9 49.91h4.42M908.2 49.91h-4.42M603.6 24.9v3.42M603.6 358.3v-3.42M578.9 58.24h4.42M908.2 58.24h-4.42M611.83 24.9v3.42M611.83 358.3v-3.42M578.9 66.58h4.42M908.2 66.58h-4.42M620.06 24.9v3.42M620.06 358.3v-3.42M578.9 74.91h4.42M908.2 74.91h-4.42M628.29 24.9v3.42M628.29 358.3v-3.42M578.9 83.25h4.42M908.2 83.25h-4.42M636.53 24.9v3.42M636.53 358.3v-3.42M578.9 91.58h4.42M908.2 91.58h-4.42M644.76 24.9v3.42M644.76 358.3v-3.42M578.9 99.92h4.42M908.2 99.92h-4.42M652.99 24.9v3.42M652.99 358.3v-3.42M578.9 108.25h7.23M908.2 108.25h-7.23M661.23 24.9v6.83M661.23 358.3v-6.83M578.9 116.59h4.42M908.2 116.59h-4.42M669.46 24.9v3.42M669.46 358.3v-3.42M578.9 124.92h4.42M908.2 124.92h-4.42M677.69 24.9v3.42M677.69 358.3v-3.42M578.9 133.26h4.42M908.2 133.26h-4.42M685.92 24.9v3.42M685.92 358.3v-3.42M578.9 141.59h4.42M908.2 141.59h-4.42M694.15 24.9v3.42M694.15 358.3v-3.42M578.9 149.93h4.42M908.2 149.93h-4.42M702.39 24.9v3.42M702.39 358.3v-3.42M578.9 158.26h4.42M908.2 158.26h-4.42M710.62 24.9v3.42M710.62 358.3v-3.42M578.9 166.59h4.42M908.2 166.59h-4.42M718.85 24.9v3.42M718.85 358.3v-3.42M578.9 174.93h4.42M908.2 174.93h-4.42M727.09 24.9v3.42M727.09 358.3v-3.42M578.9 183.27h4.42M908.2 183.27h-4.42M735.32 24.9v3.42M735.32 358.3v-3.42M578.9 191.6h7.23M908.2 191.6h-7.23M743.55 24.9v6.83M743.55 358.3v-6.83M578.9 199.94h4.42M908.2 199.94h-4.42M751.78 24.9v3.42M751.78 358.3v-3.42M578.9 208.27h4.42M908.2 208.27h-4.42M760.01 24.9v3.42M760.01 358.3v-3.42M578.9 216.61h4.42M908.2 216.61h-4.42M768.25 24.9v3.42M768.25 358.3v-3.42M578.9 224.94h4.42M908.2 224.94h-4.42M776.48 24.9v3.42M776.48 358.3v-3.42M578.9 233.28h4.42M908.2 233.28h-4.42M784.71 24.9v3.42M784.71 358.3v-3.42M578.9 241.61h4.42M908.2 241.61h-4.42M792.94 24.9v3.42M792.94 358.3v-3.42M578.9 249.95h4.42M908.2 249.95h-4.42M801.18 24.9v3.42M801.18 358.3v-3.42M578.9 258.28h4.42M908.2 258.28h-4.42M809.41 24.9v3.42M809.41 358.3v-3.42M578.9 266.62h4.42M908.2 266.62h-4.42M817.64 24.9v3.42M817.64 358.3v-3.42M578.9 274.95h7.23M908.2 274.95h-7.23M825.88 24.9v6.83M825.88 358.3v-6.83M578.9 283.29h4.42M908.2 283.29h-4.42M834.11 24.9v3.42M834.11 358.3v-3.42M578.9 291.62h4.42M908.2 291.62h-4.42M842.34 24.9v3.42M842.34 358.3v-3.42M578.9 299.95h4.42M908.2 299.95h-4.42M850.57 24.9v3.42M850.57 358.3v-3.42M578.9 308.29h4.42M908.2 308.29h-4.42M858.81 24.9v3.42M858.81 358.3v-3.42M578.9 316.62h4.42M908.2 316.62h-4.42M867.04 24.9v3.42M867.04 358.3v-3.42M578.9 324.96h4.42M908.2 324.96h-4.42M875.27 24.9v3.42M875.27 358.3v-3.42M578.9 333.3h4.42M908.2 333.3h-4.42M883.5 24.9v3.42M883.5 358.3v-3.42M578.9 341.63h4.42M908.2 341.63h-4.42M891.74 24.9v3.42M891.74 358.3v-3.42M578.9 349.97h4.42M908.2 349.97h-4.42M899.97 24.9v3.42M899.97 358.3v-3.42" stroke="#5a5a5a" stroke-width="1" fill="none"/>
<rect x="999.2" y="24.9" width="25.3" height="333.4" fill="url(#cb)" stroke="#000" stroke-opacity="0.55" stroke-width="1.2"/>
<text x="572" y="40.1" font-size="16" text-anchor="end" fill="#000" font-family='"Liberation Sans", sans-serif' >0.2</text>
<text x="572" y="118.2" font-size="16" text-anchor="end" fill="#000" font-family='"Liberation Sans", sans-serif' >0.1</text>
<text x="572" y="199.9" font-size="16" text-anchor="end" fill="#000" font-family='"Liberation Sans", sans-serif' >0.0</text>
<text x="572" y="280.9" font-size="16" text-anchor="end" fill="#000" font-family='"Liberation Sans", sans-serif' >-0.1</text>
<text x="572" y="359.9" font-size="16" text-anchor="end" fill="#000" font-family='"Liberation Sans", sans-serif' >-0.2</text>
<text x="659.2" y="377.6" font-size="16" text-anchor="middle" fill="#000" font-family='"Liberation Sans", sans-serif' >4.9</text>
<text x="741.8" y="377.6" font-size="16" text-anchor="middle" fill="#000" font-family='"Liberation Sans", sans-serif' >5.0</text>
<text x="823.9" y="377.6" font-size="16" text-anchor="middle" fill="#000" font-family='"Liberation Sans", sans-serif' >5.1</text>
<text x="995.5" y="41.3" font-size="16" text-anchor="end" font-family='"Liberation Sans", sans-serif'>-1×10<tspan font-size="10.4" dy="-3.1">-2</tspan></text>
<text x="995.5" y="118.3" font-size="16" text-anchor="end" font-family='"Liberation Sans", sans-serif'>5×10<tspan font-size="10.4" dy="-3.1">-3</tspan></text>
<text x="992.6" y="198.9" font-size="16" text-anchor="end" fill="#000" font-family='"Liberation Sans", sans-serif' >0.00</text>
<text x="996.4" y="276.3" font-size="16" text-anchor="end" font-family='"Liberation Sans", sans-serif'>-5×10<tspan font-size="10.4" dy="-3.1">-3</tspan></text>
<text x="995" y="355.4" font-size="16" text-anchor="end" font-family='"Liberation Sans", sans-serif'>-1×10<tspan font-size="10.4" dy="-3.1">-2</tspan></text>
<path d="M999.2 35.3h2.2M1024.5 35.3h-2.2M999.2 112.3h2.2M1024.5 112.3h-2.2M999.2 192.9h2.2M1024.5 192.9h-2.2M999.2 270.3h2.2M1024.5 270.3h-2.2M999.2 349.4h2.2M1024.5 349.4h-2.2" stroke="#000" stroke-opacity="0.5" stroke-width="0.9" fill="none"/>
<text x="736.3" y="21.87" text-anchor="middle" font-size="19.4" fill="#2e2e2e" stroke="#2e2e2e" stroke-width="0.55" font-family='"Liberation Serif", serif' font-style="italic" filter="url(#bl)">ψ</text>
<text font-family='"Liberation Serif", serif' font-style="italic" font-weight="bold" fill="#454545" filter="url(#bl)" stroke="#454545" stroke-width="0.35" ><tspan x="718.72" y="395" font-size="15.4">R</tspan><tspan x="735.01" y="395.6" font-size="16.17">(</tspan><tspan x="741.21" y="395" font-size="15.4">L</tspan><tspan x="749.04" y="397.6" font-size="10.16">0</tspan><tspan x="757.41" y="395.6" font-size="16.17">)</tspan></text>
<g transform="translate(537.3 211) rotate(-90)"><text font-family='"Liberation Serif", serif' font-style="italic" font-weight="bold" fill="#454545" filter="url(#bl)" stroke="#454545" stroke-width="0.35" ><tspan x="0.03" y="0" font-size="13.2">Z</tspan><tspan x="13.92" y="0.5" font-size="13.86">(</tspan><tspan x="18.89" y="0" font-size="13.2">L</tspan><tspan x="25.27" y="2.2" font-size="9.5">0</tspan><tspan x="31.24" y="0.5" font-size="13.86">)</tspan></text></g>
<g transform="translate(946.2 212.3) rotate(-90)"><text font-family='"Liberation Serif", serif' font-style="italic" font-weight="bold" fill="#454545" filter="url(#bl)" stroke="#454545" stroke-width="0.35" ><tspan x="0.13" y="0" font-size="15">B</tspan><tspan x="10.25" y="2.4" font-size="9.9">0</tspan><tspan x="17.71" y="0" font-size="15">L</tspan><tspan x="25.65" y="2.4" font-size="9.9">0</tspan></text></g>
<text transform="translate(735.36 453) scale(0.92 1)" font-size="38.15" font-family='"Liberation Serif", serif'>(</text>
<text transform="translate(749.2 453) scale(1.15 1)" font-size="34.6" font-family='"Liberation Serif", serif'>b</text>
<text transform="translate(768.88 453) scale(0.92 1)" font-size="38.15" font-family='"Liberation Serif", serif'>)</text>
<g filter="url(#fb)"><path fill="#fff2f4" d="M280.8 818.6l-3 0.4l-4-0.2l-3-1.1l-2-1.2l-1-0.9l-1.6-2.2l-1.4-2.5l-2-4.7l-2.6-6.8l-2.7-8l-5.1-17l-16.8-59l-17.2-64l-5-20l-2.1-10l-1.6-10l-0.3-5l0.5-3l1-2l1.4-2l2.5-2.2l2-1.2l2-0.8l8-2.6l4-0.8l5-0.7l4-0.3l5-0.1l9 0.6l5 0.6l6 1.2l10 2.7l6 2.2l5 2.1l6 2.9l4 2.1l9 5.7l8 6.1l8.3 7.5l7.4 8l3.9 5l2.9 4l3.2 5l3 5l2.6 5l2.3 5l3.9 10l3 10l2 10l1.2 10l0.3 11l-0.2 6l-0.4 5l-0.8 6l-1.1 6l-1.1 5l-1.7 6l-3.2 9l-2.1 5l-2.9 6l-2.7 5l-3.1 5l-3.4 5l-3 4l-3.4 4l-3.9 4.3l-4 3.9l-4 3.5l-5 4l-4 2.7l-5 3.1l-4 2.1l-4 1.8l-4 1.5l-5 1.4z"/>
<path fill="#ffebee" d="M282.8 815.4l-4 0.7l-3-0.2l-3-0.7l-1.7-0.8l-1.3-0.8l-2-2.3l-2-3.2l-3-6.1l-2.3-5.6l-3.2-9l-4.7-15l-16.2-56l-16.2-61l-3.9-16l-3-14l-0.7-5l-0.6-6l-0.2-4l0.1-3l0.4-2l0.9-2l1.5-2l2.1-1.9l1.7-1.1l2.1-1l5.2-1.7l4-0.8l6-0.9l10-0.4l9 0.4l5 0.7l5 0.9l5 1.2l5 1.5l5 1.7l5 2.1l6 2.8l4 2.1l8 5l4 2.8l5 4l4 3.4l4 3.9l4.2 4.3l3.4 4l6.1 8l5.6 9l2.2 4l2.9 6l2.1 5l1.8 5l3 10l1.2 5l1.1 6l1.1 10l0.2 11l-0.6 10l-0.8 6l-0.9 5l-1.1 5l-1.7 6l-1.3 4l-2.2 6l-1.7 4l-2.9 6l-5.3 9l-5.6 8l-3.3 4l-3.6 4l-3.9 3.9l-4 3.5l-4 3.2l-4 2.9l-8 4.8l-4 2l-5 2.2l-5 1.8z"/>
<path fill="#fee4e8" d="M280.8 813.6l-4 0.2l-2-0.4l-2.4-1l-2.4-2l-2.2-2.8l-3-5.1l-2.6-5.1l-2.4-5.7l-3.6-10.3l-3.8-12l-8.6-29.7l-7.5-25.3l-3-11l-5.5-21.8l-8.4-32.2l-3.1-14l-1.8-10l-0.6-5l-0.2-5l0-4l0.3-3l0.5-2l0.8-2l1.5-1.9l1.3-1.1l1.7-1l3-1.5l3-1.1l3-0.9l4-0.8l4-0.5l5-0.2l5 0l9 0.6l6 0.9l5 1.1l5 1.3l5 1.5l5 1.9l5 2.1l5 2.5l5 2.8l8 5.2l8 6.3l7.3 6.8l7.1 8l5.9 8l5.5 9l2.6 5l2.3 5l3.8 10l2.8 10l1.1 5l1 6l1 10l0.1 10l-0.3 5l-0.6 6l-0.9 6l-1 5l-2.5 9l-1.6 5l-2 5l-4.2 9l-2.8 5l-3.2 5l-5.9 8l-6.5 7.3l-8 7.3l-5 3.9l-4 2.8l-5 3l-4 2.1l-4 1.8l-4 1.5l-4 1z"/>
<path fill="#fedde2" d="M282.8 811.5l-3 0.3l-3 0l-1.5-0.4l-1.5-0.6l-2-1.6l-3-3.4l-3-4.5l-3-5.4l-2.4-5.5l-4-11l-3.3-10l-4.5-15l-4-14l-8.2-27l-3.2-12l-5.3-22l-6.8-26l-3.1-14l-2.3-13l-0.4-4l-0.1-4l0.2-5l0.5-4l0.5-2l0.8-2l1.5-2l1.1-0.9l2-1.1l3-1.4l6-1.9l4-0.8l4-0.4l5-0.3l5 0.1l5 0.4l5 0.6l6 1.2l4 1l4 1.1l6 2l9 3.9l9 4.8l8 5.2l8 6.4l7 6.7l6.6 7.4l5.9 8l4.9 8l2.2 4l2.8 6l2.1 5l1.8 5l2.6 9l2 10l0.7 5l0.5 6l0.2 10l-0.7 10l-0.9 6l-0.9 5l-2.3 9l-3.1 9l-2.1 5l-2.4 5l-2.2 4l-3 5l-3.4 5l-3 4l-7 8l-3.3 3.3l-4 3.6l-7 5.5l-5 3.3l-4 2.2l-4 1.9l-4 1.5l-4 1.2z"/>
<path fill="#fed6dc" d="M284.8 809.6l-4 0.6l-3-0.1l-2-0.5l-2-1.3l-3-2.8l-3-3.8l-3-4.6l-2-3.7l-4.5-11l-4.5-13l-4.6-15l-4.3-15l-6.6-21l-3.6-13l-5.9-24.5l-3.8-14.5l-4.4-18l-3-16l-0.8-5l-0.2-4l0-5l0.6-6l1-4l1.4-3l0.8-1l1.3-1l2.1-1.3l3-1.2l4-1.3l4-0.9l4-0.6l4-0.3l4-0.1l5 0.3l4 0.4l5 0.7l5 1l4 1.1l6 1.8l5 1.9l5 2.2l9 4.7l8 5.1l8 6.2l6.9 6.3l6.4 7l6.2 8l3.3 5l2.4 4l4.6 9l3.7 9l3 10l2.2 10l1.2 10l0.3 10l-0.5 10l-0.9 7l-0.9 5l-2.3 9l-3 9l-4 9l-4.9 9l-3.3 5l-2.8 4l-3.2 4l-3.4 3.8l-7 6.9l-7 5.7l-4 2.7l-4 2.4l-4 2l-3 1.2l-5 1.7z"/>
<path fill="#fecfd6" d="M282.8 808.5l-3.3-0.1l-1.7-0.3l-2-0.8l-2-1.3l-3-3l-4-5l-2.2-3.6l-2.1-4l-3.7-8.9l-2.6-7.1l-2.7-8l-4-13l-3.7-13l-5.5-17l-3.3-11l-3.4-13l-4.3-19l-3.5-13l-2.7-11l-3-14l-2.2-14l-0.2-4l0-3l0.8-7l0.7-3l0.9-3l0.7-1.2l1.4-1.8l2.5-2l1.9-1l3.2-1.2l3-0.8l4-0.8l4-0.5l8-0.3l4 0.2l5 0.5l9 1.8l9 2.6l5 1.9l5 2.2l4 2l5 2.8l8 5.2l4 3l4 3.3l4 3.6l3.6 3.5l7 8l5.1 7l5 8l2.1 4l2.9 6l2 5l1.8 5l2.3 8l1.9 9l0.9 6l0.3 4l0.3 6l0.1 5l-0.7 11l-0.9 6l-1 5l-2.3 9l-2 6l-2 5l-3.7 8l-2.2 4l-3 5l-5.7 8l-3.4 4l-3.4 3.8l-3 2.9l-4 3.6l-7 5.3l-7 4.1l-4 1.9l-5 1.9l-4 1.1z"/>
<path fill="#fec8d0" d="M286.8 806.5l-3 0.4l-3-0.1l-3-0.8l-3-1.5l-3-2.7l-3-3.3l-3-4.1l-2-3.5l-5-11.5l-4-10.9l-4.7-15.1l-4-14l-6-18l-3.8-13l-2.7-11l-3.7-17l-3.8-14l-3.9-17l-2.3-13l-0.9-7l-0.2-4l0.1-4l0.5-4l1.2-5l1.2-3.1l2.1-2.9l2.3-2l1.6-1l2-0.9l3.5-1.1l3.5-0.7l4-0.5l4-0.3l5-0.1l8 0.6l4 0.6l5 1.1l9 2.6l9 3.6l5 2.5l4 2.2l8 5.1l7 5.4l7 6.3l6.2 6.6l6.2 8l5.3 8l4.8 9l2.2 5l2 5l2.8 9l2.1 9l1.3 9l0.6 10l-0.2 10l-1 9l-2 10l-2.9 10l-1.9 5l-2.1 5l-4.7 9l-5.1 8l-3 4l-3.3 4l-6.3 6.6l-3 2.7l-4 3.3l-7 4.7l-4 2.3l-4 1.9l-4 1.5z"/>
<path fill="#fec1ca" d="M289.8 804.6l-4 0.8l-3-0.1l-3.8-0.9l-3.2-1.5l-2-1.3l-4-3.8l-3-3.8l-2-3.2l-5-10.9l-4.3-11.5l-4.8-15l-4-14l-6.1-18l-3.4-11l-2.9-12l-3.9-18l-3.7-14l-3.7-16l-2-12l-0.9-7l-0.3-5l0.1-4l0.9-5l1-3.9l1.5-3.1l2.2-3l2.2-2l3.1-1.8l3.1-1.2l2.9-0.7l4-0.6l4-0.3l4-0.1l5 0.2l4 0.4l5 0.7l4 0.9l5 1.3l4 1.2l4 1.5l5 2.1l8 4.1l8 5.1l4 2.9l4 3.2l7 6.4l6.2 6.7l6.2 8l5.1 8l4.3 8l3.8 9l3 9l2.2 9l0.9 5l0.7 6l0.5 9l-0.2 10l-1.2 10l-1.8 9l-1.4 5l-1.6 5l-3.1 8l-3.9 8l-2.3 4l-3.2 5l-2.9 4l-3.2 4l-6.1 6.6l-3 2.8l-4 3.3l-7 4.9l-7 3.9l-4 1.7z"/>
<path fill="#febac4" d="M288.8 803.6l-4 0.2l-3-0.4l-3-1l-3-1.5l-3-2l-3-2.9l-2.8-3.6l-1.8-3l-5.4-11.4l-4-10.4l-4.6-14.2l-4-14l-6.4-18.5l-3.7-12.5l-2.6-11l-3.5-17l-3.7-14l-3.6-16l-2-12l-0.7-7l-0.3-5l0.5-5l0.9-4l1.1-3l2.3-4l2.3-2.8l2.7-2.2l3.3-1.7l3-0.9l3-0.6l4-0.5l8-0.1l5 0.4l5 0.6l8 1.7l5 1.5l4 1.4l8 3.5l8 4.3l8 5.3l7 5.6l7 6.5l5.4 6l6 8l5.1 8l4.2 8l3.7 9l3.2 10l2 9l1.3 10l0.5 10l-0.4 10l-0.6 5l-0.8 5l-2 9l-2.8 9l-3.3 8l-4.1 8l-3 5l-2.4 3.6l-3 4l-3 3.7l-6 6.2l-7 6l-7 4.8l-4 2.2l-4 1.9l-3 1.1z"/>
<path fill="#fdb3be" d="M292.8 801.5l-3 0.6l-4 0.2l-3-0.4l-4-1.3l-4-2.1l-3-2.1l-3-3.2l-2.5-3.8l-5-10l-2.5-5.6l-2-5.4l-5.3-16l-3.7-13l-6.3-18l-3.5-11l-2.6-11l-3.9-19l-3.7-14l-3.5-16l-1-6l-0.8-6l-0.8-11l0.4-5l0.9-4l1.4-3l2.4-3.9l2.6-3.1l2.5-2l3.7-2l3-1l3.2-0.6l4-0.4l4-0.1l4 0.2l5 0.4l4 0.7l9 2l8 2.7l8 3.5l8 4.4l7 4.8l7 5.6l7 6.6l6.3 7.2l5.2 7l5 8l4.1 8l3.7 9l2.5 8l2.1 9l1.5 10l0.5 9l-0.2 9l-0.9 9l-1.5 8l-2.7 10l-2.9 8l-4.3 9l-4.4 7.5l-5 7.1l-6 6.9l-3.5 3.5l-3.5 3.1l-3 2.5l-4 2.9l-3 1.9l-4 2.2l-3 1.4z"/>
<path fill="#fdacb8" d="M291.8 800.4l-4 0.4l-3-0.2l-3-0.7l-4-1.6l-3-1.5l-3-2l-3-3.3l-2-2.9l-5.2-10.2l-2.6-6l-1.9-5l-5-15l-4.1-14l-6.4-18l-3.7-12l-2.3-10l-3.6-18l-3.6-14l-3.5-16l-1.6-11l-0.5-6l-0.2-6l0.4-4l0.8-3.6l1.7-3.4l2.6-4l2.6-3l2.4-2l3.5-2l3.2-1.1l3-0.7l3-0.4l4-0.1l4 0.1l8 0.9l9 1.9l9 3l8 3.5l8 4.4l8 5.5l7 5.7l6.5 6.3l6 7l5.1 7l4.9 8l4 8l3.3 8l2.8 9l2 9l1.3 9l0.5 9l-0.2 9l-0.9 9l-1.7 9l-2.5 9l-3.4 9l-3.9 8l-4.8 8l-5.1 7l-6.3 7l-6.6 6.1l-3 2.4l-4 2.8l-4 2.3l-3 1.5l-3 1.2z"/>
<path fill="#fda1af" d="M294.8 798.5l-4 0.7l-3 0.1l-3-0.3l-4-1.1l-4-1.6l-4-2.3l-2-1.7l-3-3.8l-3-5.3l-2.4-4.8l-2.6-5.7l-2.1-5.3l-5.1-15l-4-14l-6.6-18l-3.4-11l-2.6-11l-3.4-18l-3.7-14l-3.4-16l-0.7-5l-0.7-6l-0.4-6l-0.2-6l0.5-4l0.8-2.7l2-3.8l3-4.1l2.2-2.4l2.8-2.3l3-1.7l4-1.5l3-0.6l3-0.4l7 0l8 1l5 1l4 1l9 3.1l8 3.6l8 4.5l7 4.9l7 5.8l6.8 6.6l5.9 7l5.1 7l4.8 8l3.9 8l3.2 8l2.5 8l2 9l1.3 9l0.5 9l-0.2 9l-1 9l-1.5 8l-2.1 8l-3.2 8.8l-3.8 8.2l-4.6 8l-4.9 7l-5.7 6.7l-6 5.9l-4 3.3l-3 2.2l-6 3.6l-3 1.4z"/>
<path fill="#fd93a3" d="M290.8 796.5l-4-0.2l-4-0.8l-4-1.3l-4-1.9l-3-2.1l-2-2l-4-6.5l-4.7-9.3l-3.6-9l-4.1-12l-4.1-14l-5.5-14.3l-2.3-6.7l-1.7-5.4l-1.4-5.6l-1.9-9l-2.7-15.1l-3.8-14.9l-3.2-16l-0.7-5l-0.6-6l-0.2-6l0.1-6l0.5-3l1.8-4l2.1-3.2l3-3.4l3-2.8l3-2l3.2-1.6l3.8-1.2l3-0.5l3-0.3l3-0.1l4 0.3l8 1.2l5 1.3l4 1.2l5 1.9l4 1.7l8 4.1l8 5.1l6 4.5l6 5.3l6.3 6.5l5.7 7.2l5 7.5l4.2 7.3l3.7 8l2.9 8l2.5 9l1.5 8l1.1 9l0.2 9l-0.5 9l-1.2 9l-2 9l-2.6 8l-3.3 8l-4.1 8l-5.1 8l-3 4l-3.3 4l-6 6.1l-6 4.9l-3 2.1l-3 1.7l-3 1.3l-3 1l-3 0.7z"/>
<path fill="#fd8597" d="M294.8 793.5l-4 0.2l-4-0.2l-5-1l-4-1.3l-3-1.6l-2.7-2.2l-2.3-2.6l-2-2.8l-2.6-4.6l-2.4-4.4l-3.7-8.6l-4.6-13l-4.1-14l-7-18l-2-6l-1.7-6l-2.2-10l-2.8-17l-3.6-14l-2.9-15l-0.7-5l-0.5-5l-0.2-5l0.1-5l0.6-4l0.8-3l1-2l1.2-2l2.3-2.9l4-3.7l3.3-2.4l3.7-2l4-1.3l3-0.7l3-0.3l3-0.2l4 0.2l7 1.1l8 2.2l7 2.7l8 3.8l8 4.9l7 5.2l7 6.2l5.9 6.2l4.9 6l4.8 7l4.4 7.7l3.5 7.3l3.1 8l2.4 8l1.8 9l1.1 8l0.4 9l-0.3 9l-1.1 9l-1.5 7l-1 4l-1.8 6l-2.8 7l-2.3 5l-2 4l-4.3 7l-5.2 7l-5 5.6l-6 5.5l-5 3.5l-3 1.6l-3 1.3l-3 1z"/>
<path fill="#fc778b" d="M296.8 790.6l-5 0.5l-5-0.2l-4-0.6l-4-1.2l-3-1.5l-2-1.6l-3-3.2l-3-3.9l-2-3.2l-2.3-4.3l-1.9-4l-1.8-4.4l-4.5-12.6l-3.8-13l-7.5-19l-2.1-6l-1.4-5l-2.1-10l-2.6-17l-3.6-14l-2.7-14l-0.7-5l-0.4-5l-0.1-4l0.2-4l1-6l0.8-3l1.6-3l1.9-2.5l3-2.9l5-3.6l4-2.1l5-1.7l3-0.6l3-0.3l6 0.1l6 0.8l3.5 0.8l4.5 1.4l8 3.1l7 3.6l7 4.3l7 5.3l6.1 5.3l5.9 6.3l5.5 6.7l4.8 7l4 7l3.4 7l3 8l2.7 9l1.8 9l0.9 8l0.4 8l-0.3 8l-0.9 8l-1.7 9l-2.3 8l-2.9 8l-3.8 8l-4.6 7.7l-5 6.8l-5 5.6l-5 4.4l-5 3.5l-3 1.6l-3 1.2z"/>
<path fill="#fc697f" d="M294.8 788.5l-5 0.3l-5-0.4l-4-0.9l-3-1.3l-2.5-1.8l-3.5-3.5l-3-3.7l-3-4.2l-3.3-6.6l-3.2-8l-3.2-9l-2.9-10l-1.3-4l-6.1-14.4l-2-5.4l-1.6-5.2l-1.3-5l-1.6-8l-2.3-16l-0.9-4l-2.9-11l-2.5-14l-0.7-5l-0.2-5l0.4-6l0.6-4.2l1.1-4.8l1.3-3l2.2-3l3.4-3.2l4-2.6l5-2.5l5-1.7l3-0.6l3-0.3l6 0.1l7 1l6.7 1.8l7.3 3l7 3.6l7 4.5l6 4.6l6 5.3l5.7 6l4.9 6l4.8 7l4.1 7l3.8 8l3 8l2.3 8l1.8 9l1 8l0.3 9l-0.3 8l-1 8l-1.8 9l-2.4 8l-3.1 8l-4 8l-4.1 6.5l-5 6.6l-5 5.2l-5 4l-3 2l-3 1.6l-5 2l-3 0.7z"/>
<path fill="#fc5b72" d="M291.8 786.5l-4 0.1l-4-0.5l-3-0.9l-3-1.5l-3-2.6l-4-4.3l-3-3.8l-2.9-4.6l-2.8-6l-4.6-12l-3.5-12l-1.4-4l-5.8-13.3l-2-5.2l-2-6.5l-1.7-7l-1.1-6l-2-15l-0.8-4l-2.9-11l-2.6-15l-0.4-4l0-3l0.2-4l0.5-4l0.8-4.1l1.4-4.9l1.6-3l2-2.5l2-1.8l2-1.4l4-2.2l5-2.1l5-1.4l3-0.5l3-0.2l6 0.2l6 0.9l7 2l7 3l7 3.8l7 4.7l6.8 5.5l6.2 6l5.2 6l5.1 7l4.3 7l3.6 7l3.3 8l2.3 7l2 8l1.5 9l0.6 8l0 9l-0.6 8l-1.3 8l-2 8l-2.7 8l-3.3 7.5l-4 7.3l-4 5.9l-2 2.5l-3 3.3l-5 4.6l-5 3.5l-3 1.6l-3 1.3l-3 1.1l-3 0.7z"/>
<path fill="#fb4d66" d="M291.8 784.5l-4 0.1l-3-0.4l-3-0.8l-3-1.7l-4-3.4l-3-3.1l-3-3.7l-3-4.4l-2-3.7l-2.1-5l-3.8-10l-3.1-10.5l-1.1-3.5l-7.9-18.3l-2.2-6.7l-1.7-7l-1-6l-1.8-15l-0.9-4l-2.9-11l-2.1-13l-0.4-7l0.2-4l0.5-4l1.1-5l1.5-5l1.5-3l1.7-2l1.5-1.4l2-1.5l4-2.3l5-1.9l5-1.4l6-0.8l3 0l4 0.2l6 1.1l7 2l7 3l5.4 3l6.6 4.5l6 4.8l6 5.8l5 5.6l5 6.7l4.3 6.6l4.2 8l3 7l2.7 8l2 8l1.3 8l0.8 9l0 9l-0.7 8l-1.5 9l-2.1 7.8l-2.9 8.2l-3.1 6.6l-4 6.9l-4 5.5l-5 5.5l-5 4.3l-5 3.2l-5 2.3l-6 1.8z"/>
<path fill="#fb3f5a" d="M292.8 782.4l-4 0.2l-3-0.3l-3-0.8l-2-1l-4-3.1l-4-3.8l-3-3.5l-2.6-3.7l-1.7-3l-1.7-3.3l-5-12l-3.7-12.7l-2-5l-6.3-14.1l-2-5.9l-1.5-6l-1.3-7l-1.9-16l-0.9-4l-2.6-10l-1.7-11l-0.6-8l0.1-4l0.5-4l1.1-5l1.8-5.5l1.7-3.5l1.6-2l2.7-2.2l4-2.3l4-1.6l5-1.3l6-0.9l6-0.1l6 0.7l7 1.8l7 2.7l6 3.1l6 3.9l6 4.7l6 5.6l5 5.5l5 6.5l4.5 6.9l3.8 7l3.1 7l2.8 8l2.1 8l1.5 8l0.7 8l0.2 8l-0.4 8l-1.3 8.6l-1.9 8.4l-2.1 6.3l-3 7.2l-4 7.4l-4 5.8l-4 4.7l-5 4.7l-5 3.6l-3 1.6l-3 1.4l-6 2.1z"/>
<path fill="#fb314e" d="M293.8 780.4l-3 0.3l-3-0.1l-3-0.6l-2-0.8l-4-2.8l-4-3.4l-3.4-3.6l-3-4l-1.6-2.6l-1.7-3.4l-4.8-11l-1.4-4l-2.9-10l-1.7-4l-6.5-14l-2-5.7l-1.4-5.3l-1.5-8l-1.3-13l-0.5-4l-2.9-11l-0.7-4l-1.2-9l-0.4-5l-0.1-4l0.3-4l1-5l1.2-4l2-5l1.8-3l2.7-2.6l3-1.8l4-1.7l4-1.2l6-1l6-0.3l6 0.4l6 1.2l6.2 2l6.8 3.1l6 3.6l6.1 4.3l5.9 5.2l5 5.2l5 6.1l5 7.4l4 7.1l3 6.4l3 8l2.2 7.6l1.6 8l1 8l0.3 8l-0.4 8l-1 8l-1.7 8.1l-2 6.7l-3 7.4l-3 5.8l-4 6.2l-4 5l-5 4.9l-5 3.8l-3 1.8l-3 1.5l-6 2.4l-3 0.8z"/>
<path fill="#fb2342" d="M294.8 778.5l-3 0.3l-3 0l-3-0.7l-2-0.8l-4-2.6l-4-3.2l-3-3.1l-3.2-4l-1.8-2.8l-1.6-3.2l-5-11l-1.4-4l-3-10.2l-1.6-3.8l-3.4-6.5l-2.9-6.5l-1.9-5l-1.5-5l-0.8-4l-0.8-5l-0.9-12l-0.5-4l-0.8-4l-2.2-8l-0.7-4l-1.4-13l-0.1-4l0.2-3l0.9-5l1.4-4.7l2-4.6l2.2-3.7l2-2l2.8-1.9l3-1.3l4-1.3l6-1l7-0.3l6 0.5l6 1.2l6 1.9l6 2.7l6 3.5l6 4.2l6 5.2l5 5.2l5 6.2l4 5.8l4 6.9l3 6.3l3 7.7l2.3 7.5l1.7 8.4l1 7.6l0.4 8l-0.3 8l-1 8l-1.2 6l-2 7l-2.9 7.6l-3 6l-4 6.4l-4 5l-5 4.9l-5 3.9l-6 3.4l-6 2.6z"/>
<path fill="#fa1536" d="M295.8 776.5l-3 0.4l-3 0l-2.4-0.5l-2.6-1l-4-2.4l-4-3.1l-3-2.8l-3-3.7l-1.9-3l-1.6-3l-5.1-11l-1.1-3l-2.3-8.1l-1.3-3.9l-2.3-5l-4.4-8l-2.1-5l-1.9-6l-1.2-5l-0.8-5.4l-0.4-10.6l-0.6-5l-0.6-3l-2.2-8l-0.8-4l-1.3-12l-0.1-4l0.1-3l0.8-5l1.5-5l2.2-5l2.4-3.9l2-2l2-1.4l3-1.5l3-0.9l3-0.7l3-0.4l6-0.3l7 0.5l6 1.1l6 1.9l6 2.6l5.5 3l5.5 3.8l5 4.2l5 4.8l5 5.8l4 5.4l4 6.4l4 7.9l3 7.5l2 6.3l2 8.7l1 6.9l0.5 7.3l0 8l-0.7 7l-1.4 8l-1.9 7l-2.5 6.8l-3 6.3l-3.6 5.9l-4.4 5.7l-4 4.2l-5 4.1l-6 3.8l-6 2.8z"/>
<path fill="#fa0a2d" d="M296.8 774.5l-3 0.5l-3 0l-2.8-0.6l-3.2-1.4l-4-2.4l-3-2.2l-3-2.7l-3-3.6l-1.8-2.7l-1.6-3l-5.2-11l-1.4-3.8l-2-7.2l-1.3-4l-2.3-5l-5.9-11l-1.5-3.6l-1-3.4l-1-4l-0.5-4l-0.5-12l-0.5-5l-0.9-4l-2.2-8l-0.7-4l-1.2-12l0-4l0.2-3l1-5l1.3-4l1.8-4l2.5-4l1.5-2l2.2-1.7l3-1.6l3-1l3-0.6l3-0.4l6-0.2l7 0.6l6 1.3l6 1.9l6 2.7l5.3 3l5.7 4l5 4.3l5 5.1l5 6l4 5.7l4 6.9l3 6.4l2.9 7.6l1.8 6l1.4 6l1.1 8l0.5 8l-0.1 7l-0.7 7l-1.5 8l-2 7l-2.4 6.2l-3 6l-3 4.9l-4 5.3l-4.4 4.6l-4.7 4l-5.9 4l-5 2.5z"/>
<path fill="#fb061b" d="M297.8 773.5l-3 0.6l-3 0.1l-3-0.6l-3-1.2l-4-2.2l-3.8-2.8l-3.2-2.9l-2.6-3.1l-1.4-2l-2-3.6l-5-10.5l-1.4-3.9l-2.2-8l-1.4-4l-2-4.1l-5.8-10.9l-1.3-3l-1.3-4l-0.9-4l-0.6-4l-0.5-12l-0.5-5l-0.9-4l-2.1-8l-0.8-4l-1.1-12l0.1-6l0.7-4.1l1.5-4.9l1.9-4l2.6-4.3l2-2.4l2-1.6l3-1.5l3-0.9l5-0.9l6-0.2l7 0.7l6 1.2l6 2l5 2.1l6 3.4l5.1 3.4l4.9 4.1l5 4.9l5 5.9l4 5.5l4 6.6l3 6.2l3 7.5l2 6.4l1.8 7.9l1 7l0.5 7l-0.1 7l-0.8 8l-1.3 7l-2 7l-2.1 5.7l-3 6.2l-3 5l-4 5.4l-4 4.3l-5 4.4l-5 3.5l-5 2.7z"/>
<path fill="#fc030d" d="M294.8 773.5l-3 0.1l-2-0.3l-3-1.1l-4-2l-3-2l-3-2.4l-3-3.1l-2-2.6l-3-5.1l-5-10.6l-1-3l-2.6-9l-1-3l-1.9-4l-6.3-12l-1.3-3l-1.2-4l-0.7-3.1l-0.5-3.9l-0.4-11l-0.5-5l-0.8-4l-2.4-9l-0.7-4l-1-11l-0.1-4l0.2-3l0.9-5l1.4-4l1.9-4l3-4.6l2-2.3l2-1.4l3-1.3l3-0.9l5-0.7l6-0.1l7 0.8l6 1.4l6 2l6 2.8l6 3.6l5 3.7l5 4.4l5 5.3l4 4.9l4 5.9l4 7.1l3 6.4l2.2 6l2.1 7l1.6 8l0.8 7l0.3 7l-0.2 7l-0.8 7l-1.5 7l-2.1 7l-2.4 6.1l-3 5.9l-3.9 6l-4.1 4.9l-4.1 4.1l-5.9 4.7l-5 3.1l-5 2.2l-3 0.8z"/>
<path fill="#fe0000" d="M297.8 772.5l-3 0.5l-3 0.1l-2-0.4l-4-1.6l-4-2.2l-3-2.1l-3-2.6l-3-3.5l-3.3-5.3l-5.3-11l-1.4-3.9l-2.2-8.1l-1-3l-2.3-5l-5.9-11l-1.6-3.9l-0.9-3.1l-0.6-3l-0.6-4l-0.4-11l-0.5-5l-0.8-4l-2.4-9l-0.7-4l-1-11l-0.1-4l0.2-3l0.8-4l1.3-4l1.8-4l2.5-4l2.3-3l1.2-1l2.9-1.7l3-1.1l5-0.9l6-0.2l6 0.5l6 1.2l6 1.8l6 2.5l6 3.3l5 3.5l5 4.1l5 4.9l5 5.9l4 5.6l3.9 6.6l3 6l2.4 6l2.2 7l1.5 6.6l1.2 7.4l0.5 7l0 7l-0.6 7l-1.2 7l-1.8 7l-2.1 6l-3 6.4l-3 5.1l-4 5.5l-4 4.4l-5 4.5l-5 3.6l-5 2.8z"/>
<path fill="#fe1900" d="M300.8 750.4l-3 0.4l-4-0.2l-3-0.6l-3-1.2l-2-1.3l-2.4-2.1l-2.4-3l-2.5-4l-4-7l-1-2l-1.1-3l-13-47l-0.9-5l-0.3-11l0.3-5l0.9-4l0.9-2l1.2-2l1.7-2l1.6-1.5l4-2.7l3-1.4l3-0.9l3-0.6l3 0l4 0.8l5 1.9l2 1l5 3l4 3l3 2.7l5.5 5.7l3.1 4l3.2 5l2.8 5l2.2 5l1.9 5l1.1 4l0.9 4l1 6l0.3 6l0 5l-0.4 6l-1 6l-1.9 7l-2 5l-2 4l-3.2 5l-2.5 2.9l-3 2.8l-2 1.2l-4 1.5z"/>
<path fill="#fe2800" d="M298.8 749.5l-3 0.1l-4-0.6l-3-1l-3-1.8l-2-1.8l-2.3-3l-2-3l-4.5-8l-1.4-3l-1.4-4l-12-44l-0.8-5l-0.2-11l0.3-5l1.1-4l1-2l1.4-2l1.8-1.9l2-1.7l4-2.2l2-0.8l3-0.9l3-0.5l3 0l4 0.9l4 1.5l4 2.1l3 1.9l4 3l4 3.6l2.8 3l2.6 3l2.9 4l3.1 5l2 4l2.2 5l1.7 5l1.4 5l1 5l0.7 6l0.2 5l-0.2 5l-0.7 6l-1 5l-1.4 5l-1.5 4l-2.4 5l-1.8 3l-2.6 3.6l-3 3l-2 1.5l-3 1.4l-4 1.1z"/>
<path fill="#fe3600" d="M301.8 747.5l-4 0.6l-3 0l-3-0.6l-3-1.1l-2-1.1l-2.1-1.9l-2.5-3l-2-3l-5.1-9l-1.7-4l-2-7l-9.1-33l-1.4-6l-0.5-4l-0.1-12l0.3-3l0.7-3l0.8-2l1.1-2l2.7-3l1.9-1.5l2-1.3l2-0.9l3-1l3-0.7l3-0.3l3 0.2l3 0.7l3 1.2l4 2l4 2.7l4 3.1l3 2.9l3.7 3.9l3.1 4l2.6 4l2.3 4l2.8 6l1.8 5l1.2 4l1.1 5l0.8 5l0.4 5l0 5l-0.3 5l-0.7 5l-1.1 5l-1.2 4l-1.9 5l-2.1 4l-1.9 3l-2.6 3.2l-2 1.9l-2 1.4l-4 1.8z"/>
<path fill="#fe4400" d="M299.8 746.5l-3 0.3l-3-0.2l-3-0.8l-3-1.4l-2-1.5l-2-2.1l-2-2.8l-2.2-3.6l-3.9-7l-2-5l-11.1-40l-1.1-6l-0.2-10l0.3-6l1-4l0.9-2l1.3-1.9l1-1.2l2-1.7l2-1.4l2-1l4-1.4l4-0.7l3-0.1l2 0.2l3 0.8l4 1.7l4 2.3l4 2.9l3 2.6l3 3l3.5 3.9l2.9 4l3 5l2.1 4l2.1 5l1.7 5l1.1 4l1 5l0.5 4l0.3 5l0 5l-0.4 5l-0.6 4l-1.4 6l-1.4 4l-1.7 4l-2.2 4l-2.5 3.6l-2 2.2l-2 1.6l-3 1.6l-4 1.5z"/>
<path fill="#fe5200" d="M300.8 744.6l-3 0.4l-3 0l-3-0.6l-2-0.8l-2-1.1l-2-1.7l-2-2.3l-2-3.1l-5.7-10l-1.7-4l-2.1-7l-7.9-29l-1.2-5l-0.4-4l-0.2-12l0.3-3l0.6-3l1.3-3l1.4-2l1.6-1.6l2-1.5l2-1.2l4-1.5l3-0.6l4-0.3l3 0.2l2 0.4l3 1.1l4 2.1l4 2.8l3 2.4l3 2.9l3.4 3.8l3 4l2.6 4l2.6 5l1.8 4l1.8 5l1.1 4l1.1 5l0.7 5l0.3 4l0 5l-0.2 4l-0.7 5l-1.1 5l-1.2 4l-1.6 4l-2.1 4l-2.5 3.7l-2 2.1l-2 1.6l-3 1.6l-3 1.3z"/>
<path fill="#fe6200" d="M301.8 742.6l-3 0.6l-2 0.2l-2-0.1l-2-0.3l-2-0.7l-2-1l-3-2.6l-2-2.5l-1.8-2.8l-5.6-10l-1.9-5l-2.1-7l-6.1-22l-1.8-8l-0.5-4l-0.1-12l0.2-3l0.7-3l0.7-2l1.3-2.1l2-2.2l2-1.5l2.1-1.2l2.9-1.1l3-0.6l4-0.4l4 0.3l2 0.4l3 1.1l3 1.6l3 1.9l3 2.4l3 2.8l3 3.2l2.8 3.4l2.7 4l2.3 4l2.4 5l1.6 4l1.5 5l1.2 5l0.6 4l0.5 4l0.1 5l-0.2 5l-0.5 4l-0.7 4l-1.3 5l-1.5 4l-1.5 3.1l-2 3.3l-2 2.5l-2 1.8l-3 2l-3 1.5z"/>
<path fill="#fe6f00" d="M298.8 741.5l-3 0.1l-2-0.2l-3-1l-1.8-1l-1.2-1l-2-2l-2-2.6l-2.1-3.4l-4.9-8.8l-1.6-4.2l-2.9-10l-5.9-22l-1-6l-0.3-9l0.2-6l0.8-4l1.3-3l1.4-1.8l1.2-1.2l1.8-1.4l2-1l4-1.4l3-0.4l3-0.1l4 0.3l3 0.7l3 1.3l3 1.8l3 2.2l3 2.6l3 3.2l3 3.6l2.5 3.6l2.4 4l2 4l1.7 4l1.7 5l1 4l0.9 5l0.5 4l0.2 5l-0.1 5l-0.6 5l-0.8 4l-1.1 4l-1.3 3.5l-1.1 2.5l-1.9 3.2l-2 2.5l-2 1.8l-3 2.1l-3 1.7l-3 1.1z"/>
<path fill="#fe7d00" d="M298.8 739.5l-3 0.1l-2-0.2l-2-0.6l-2-1l-2-1.6l-1.6-1.8l-3.4-4.9l-5-9l-2-4.9l-2.7-9.2l-4.9-18l-1.2-6l-0.3-8l-0.1-7l0.7-5l0.7-2l0.8-1.7l2-2.4l3-2.2l2-0.9l2-0.6l3-0.5l4-0.1l3 0.3l4 0.9l2 0.8l3 1.7l2 1.3l3 2.5l3 3l2.5 2.9l2.5 3.4l2.3 3.6l2.2 4l1.8 4l1.4 4l1.5 5l1 5l0.5 4l0.3 5l0 4l-0.3 4l-0.7 4.2l-1 4.2l-1.2 3.6l-1.3 3l-1.5 2.6l-2 2.6l-2 1.9l-3 2.3l-3 1.8l-3 1.2z"/>
<path fill="#fe8b00" d="M298.8 737.5l-2 0.2l-2-0.1l-2-0.5l-2-0.9l-2-1.4l-1.3-1.4l-1.7-2l-1.9-3l-5.5-10l-1.6-3.5l-3-9.5l-4-15l-1.3-7l-0.4-8l0-7l0.3-3l0.4-2l1.2-3l0.8-1.3l1.7-1.7l1.3-1l1.8-1l3.2-1.1l3-0.4l3-0.1l3 0.3l4 1l3 1.1l2 1l2 1.3l3 2.5l3 3l2.1 2.4l2.9 4l2 3.3l2 3.7l1.7 4l1.5 4l1.1 4l0.9 4l0.6 4l0.3 5l0 4l-0.3 4l-0.6 4l-0.9 4l-1.3 3.8l-1 2.2l-2 3.3l-2 2.3l-2.5 2.4l-2.5 1.9l-3 1.7l-3 1.1z"/>
<path fill="#fe9900" d="M296.8 735.5l-2-0.2l-2-0.5l-2-1.1l-1-0.7l-3-3.3l-3.4-5.3l-4.6-8.7l-2-4.8l-3-9.9l-2.7-10.6l-0.8-5l-0.6-10l0-6l0.6-4l1-3l1.3-2l1-1l1.2-1l1.8-1l3.2-1.1l3-0.4l3 0.1l3 0.4l3 0.8l3 1.1l3 1.5l2 1.4l3 2.5l3 3.2l2 2.6l2 2.9l2 3.4l1.8 3.6l1.6 4l1.3 4l1.1 4l0.7 4l0.4 4l0.1 7.3l-0.3 3.7l-0.7 4l-1 3.7l-1 2.6l-1.4 2.7l-2.1 3l-2.5 2.8l-2.6 2.2l-2.4 1.7l-3 1.4l-3 0.8z"/>
<path fill="#fea800" d="M300.8 732.6l-2 0.4l-2 0.2l-3-0.4l-2-0.9l-1-0.7l-1.9-1.8l-1.1-1.2l-1.9-2.8l-1.8-3l-5-10l-2.3-5.7l-1.9-6.3l-2-8l-0.8-5l-0.8-11l0-4l0.2-3l0.8-4l0.5-1.4l1-1.6l1-1.1l2-1.5l3-1.2l2-0.5l3-0.1l3 0.3l3 0.7l3 1l3 1.4l3 1.8l2 1.6l2 1.8l2 2.3l2 2.6l2 3l2 3.7l1.5 3.2l1.5 4l1 3l1.4 7l0.5 4l0.1 4l-0.2 4l-0.3 3l-0.5 2.4l-1 3.5l-1 2.4l-1.4 2.7l-1.6 2.4l-2.1 2.6l-1.9 1.9l-2 1.7l-2.4 1.4z"/>
<path fill="#feb600" d="M298.8 730.5l-3 0.1l-2-0.4l-1-0.5l-1-0.6l-1.9-1.7l-2.1-2.5l-3.3-5.5l-3.9-8l-2.8-6.7l-2-6.7l-1.4-6.6l-0.9-8l-0.5-8l0.3-5l0.6-3l0.9-2l0.6-1l0.9-1l1.5-1.2l3-1.3l2-0.5l3-0.1l2 0.3l3 0.6l3 1.1l3 1.5l2.5 1.6l2.7 2l1.8 1.7l2 2.2l2 2.7l2 3.2l3 6.3l2 6.2l1.3 6.7l0.3 4l0 3l-0.6 6l-0.7 3l-1.1 3l-1.4 3l-1.7 3l-1.5 2l-1.8 2l-1.8 1.7l-2 1.4l-2 1.1z"/>
<path fill="#fec400" d="M299.8 727.6l-3 0.4l-2-0.3l-1-0.4l-1-0.5l-1.7-1.4l-2.3-2.5l-3-4.8l-2.8-5.7l-2.9-7l-2-6l-1.4-6l-1.1-7l-0.6-7l0-6l0.7-4l1.1-2.5l1-1.3l1-0.8l1-0.7l2-0.8l2-0.4l2-0.1l2 0.2l3 0.6l2.3 0.8l2.7 1.4l4.1 2.6l2.3 2l2 2l3.6 4.7l3 5.5l2.2 5.8l1.3 6l0.5 6l-0.5 6l-0.6 3l-0.8 3l-2.2 5l-1.8 3l-1.6 2l-1.5 1.6l-2 1.6l-2 1.2z"/>
<path fill="#fed200" d="M299.8 724.5l-3 0.4l-2-0.3l-2.1-1.2l-1.1-1l-1.8-1.9l-2.6-4.1l-2.5-5l-2.5-6l-2-6l-1.5-6l-1.2-7l-0.5-6l0.1-5l0.7-4l1-2.3l1.5-1.7l2.5-1.3l2-0.4l2-0.1l2 0.2l2 0.5l2 0.7l2.9 1.4l4.1 3l2 1.8l2 2.2l2.9 4l2.6 5l1.8 5l1.1 5l0.4 6l-0.1 3l-0.4 3l-1.3 5l-1 2.6l-1.2 2.4l-1.3 2l-1.5 1.9l-3 2.7z"/>
<path fill="#fee000" d="M297.8 721.6l-2-0.1l-2-0.8l-2-1.7l-2.7-3.6l-2.3-4.1l-2.1-4.9l-1.9-5.1l-1.6-5.9l-1.2-6l-0.7-5l-0.2-4l0.2-4l0.7-3l1-2l0.8-1l1-0.7l2-0.8l3-0.3l2 0.3l2 0.5l2 0.9l2 1.1l3.9 3l3.1 3.5l3 4.5l2 4.2l1.6 4.8l0.8 5l0.1 5l-0.5 5l-1.5 5l-2.1 4l-2.4 3l-1.1 1l-1.9 1.3l-2 0.7z"/>
<path fill="#feee00" d="M298.8 717.5l-2 0.2l-2-0.5l-2-1.5l-2-2.3l-2-3.3l-1.7-3.7l-1.6-4l-1.6-5l-1.2-5l-0.8-5l-0.3-4l0.1-4l0.6-3l1-2l1.5-1.4l1.4-0.6l2.6-0.3l3 0.7l3 1.4l3 2.2l3 3l2.2 3l2.1 4l1.4 4l1 4l0.4 5l-0.3 4l-0.8 4l-1.1 3l-1.9 3.2l-2 2.2l-1 0.7z"/>
<path fill="#fefa00" d="M298.8 712.7l-2 0.4l-1-0.1l-1.1-0.6l-1.9-1.6l-1.7-2.4l-1.3-2.2l-1.7-3.8l-1.4-4l-1-4l-0.8-4l-0.5-4l0-3l0.4-3l0.9-2l1.1-1.2l1-0.5l2-0.3l2 0.3l2 0.8l3 2.1l2 2.1l2.1 2.7l1.6 3l1.3 3.5l0.9 3.5l0.3 3l-0.1 4l-0.5 3l-1 3l-1 2l-1.6 2z"/>
<path fill="#f5f3ff" d="M222.8 833.4l-5 0l-5-0.4l-9-1.2l-5-1.1l-6-1.6l-9-3.1l-9-4l-9-4.9l-5-3.2l-4-2.8l-8-6.5l-7.4-7.2l-7-8l-5.9-8l-3.2-5l-2.9-5l-4-8l-4-10l-3-10l-2.2-10l-1.1-9l-0.5-7l-0.1-5l0.1-5l0.5-7l1.2-9l2-9l3-10l4-10l2.9-6l2.2-4l5-8l2.8-4l4-5l3.5-4l4.1-4.3l4-3.7l4-3.3l7-5.1l5-3.1l4-2.2l4-1.8l4-1.5l5-1.6l4-0.9l4-0.3l3 0.2l3 1.1l2.3 1.5l1.7 2.4l1.8 3.6l2.9 7l2.3 6.6l5.5 17.4l6.9 24l22.1 80l10 38l3.1 13l1.7 9l1.2 8l0.1 3l-0.1 2l-0.8 2l-0.7 1.1l-1.5 1.9l-1.1 1l-2.4 1.6l-2 1l-2 0.8l-5 1.4l-4 1l-4 0.6l-4 0.4z"/>
<path fill="#eeecff" d="M226.8 830.5l-9 0.1l-6-0.3l-4-0.4l-9-1.6l-9-2.5l-5-1.8l-5-2l-8-3.9l-4-2.2l-5-3.1l-4-2.8l-5-3.8l-4-3.4l-4-3.7l-7.1-7.7l-6.4-8l-5.9-9l-4.8-9l-2.3-5l-2-5l-3-9l-1.8-7l-0.8-4l-1.5-10l-0.7-11l0.1-6l0.3-5l0.4-5l0.7-5l1.2-6l1.2-5l2.7-9l3.5-9l4.5-9l2.3-4l3.2-5l6-8l3.4-4l3.8-3.9l7-6.4l7-5.2l5-3.2l5-2.8l4-2l5-2l3-1l4-1l3-0.3l4 0.3l2 0.6l1 0.5l1.8 1.4l2.2 3l2 3.8l3.4 7.2l2.6 6.6l4.5 13.4l3.9 13l6.1 21l10 36l10.1 37l5 19l3.1 13l3.1 14l1.3 8l0.7 9l-0.2 5l-0.5 2l-0.5 1l-1.6 1.9l-2 1.7l-2.3 1.4l-2.2 1l-3.5 1.1l-4 0.9l-4 0.6z"/>
<path fill="#e8e4ff" d="M229.8 828.6l-8 0.5l-9-0.4l-6-0.7l-5-0.9l-9-2.2l-9-3.1l-9-3.9l-9-5l-4-2.7l-5-3.6l-8-6.7l-7-7l-6.2-7.5l-3-4l-3.3-5l-4.7-8l-4.3-9l-1.9-5l-1.8-5l-2.5-9l-1.9-10l-1.1-10l-0.2-5l0-6l0.7-10l1.6-10l2.2-9l1.9-6l1.9-5l4-9l5.1-9l5.5-8l3.2-4l3.5-4l3.9-4l3.4-3.2l5-4.2l4-3.1l4-2.7l4-2.4l4-2.1l4-1.8l3-1.1l4-1.1l4-0.8l3 0l3 0.5l2 1.2l1.9 1.8l1.1 1.4l3 4.7l3 5.5l2.9 6.4l3.6 10l3 9l8 27l18 65l4 15l5.2 21l3.1 15l1.4 9l0.4 5l0 6l-0.1 3l-0.6 3l-0.7 2l-1.2 1.6l-1.7 1.4l-2.3 1.4l-3 1.3l-4 1.2z"/>
<path fill="#e2ddff" d="M226.8 827.5l-4 0.3l-5 0l-9-0.7l-8-1.4l-4-1l-6-1.7l-6-2.1l-5-2.1l-8-4l-8-4.8l-8-5.7l-4-3.4l-3.8-3.5l-6.8-7l-5.7-7l-2.9-4l-3.2-5l-5-9l-4.1-9l-3.1-9l-2.6-10l-1.6-9l-0.6-6l-0.3-5l0-10l1-10l1.5-9l2.7-10l1.7-5l1.9-5l4.3-9l5.3-9l5.7-8l3.3-4l3.3-3.7l7-6.7l4-3.4l4-2.9l4-2.7l4-2.3l4-1.9l3-1.3l4-1.3l4-1l4-0.6l2 0.2l1.8 0.6l1.2 0.8l2.6 2.2l3.4 4.5l4 6.3l2.6 5.2l2.4 6.3l3.6 9.7l2.9 9l4.9 16l4.3 15l7.8 28l9.2 34l4.8 19l2.8 12l2.6 14l0.6 4l0.4 4l0 5l-0.3 6l-0.4 3l-0.9 3l-0.9 2l-0.8 1l-1.6 1.4l-2 1l-3 1.2l-4 1.1l-4 0.9z"/>
<path fill="#dcd6ff" d="M223.8 826.5l-8 0.1l-9-0.8l-5-0.9l-5-1.1l-9-2.8l-8-3.2l-9-4.6l-8-5l-8-6.1l-7.4-6.7l-3.9-4l-3.5-4l-4.7-6l-5.9-9l-4.4-8l-4-9l-3.1-9l-1.6-6l-1.1-5l-1.3-8l-0.6-6l-0.2-5l0.1-10l1-10l1.9-10l2.2-8l2.1-6l2-5l3.9-8l2.2-4l3.1-5l4.9-7l6.3-7.4l7-6.8l4-3.3l4-3l7-4.3l4-2l4-1.7l4-1.3l3-0.8l3-0.4l2 0.1l1 0.2l3 1.5l3 2.8l4 4.8l3.7 5.6l2.3 4.7l3.4 8.3l3 8l3 9l4.9 16l4.4 15l14.5 53l3.7 14l4.9 21l2.5 14l0.9 6l0.3 4l0 4l-0.5 5l-0.8 5l-0.9 3l-1 2l-1.3 1.8l-1.8 1.2l-2.1 1l-3.1 1.1l-3 0.7l-4 0.7z"/>
<path fill="#d5ceff" d="M222.8 825.5l-4 0.1l-5 0l-8-0.8l-9-1.9l-9-2.7l-8-3.3l-8-4l-8-4.9l-8-6l-8-7.2l-6.7-7.4l-5.5-7l-5.3-8l-3.9-7l-4.1-9l-2.9-8l-2-7l-0.9-4l-1.5-8l-0.6-5l-0.4-5l-0.1-10l0.6-9l0.8-6l1-5l1.9-8l3-9l2-5l2.4-5l4.9-9l5.5-8l5.8-7.1l3-3.2l4-3.9l7-5.7l7-4.5l4-2.2l4-1.8l4-1.5l3-0.9l2-0.3l2-0.1l3 0.5l1 0.3l2 1.1l3 2.6l5 5.7l3 4.4l2 3.8l4 9.4l3 7.8l2.6 7.6l4.8 15l4.4 15l7.5 27l7 26l3.9 15l4.2 18l2.5 14l1 8l0.3 4l0 4l-0.5 4l-1 5l-0.9 3l-0.8 2l-1.3 2l-2.3 2l-1.8 1l-2.6 1l-4 1.1l-4 0.6z"/>
<path fill="#cfc7ff" d="M222.8 824.5l-8 0.2l-9-0.8l-5-0.9l-4-0.8l-8-2.4l-9-3.6l-8-4.1l-7-4.2l-8-5.9l-7-6.2l-6.2-6.4l-3.4-4l-3.1-4l-4.8-7l-5.1-9l-3.8-8l-3.3-9l-2.8-10l-1.8-10l-0.9-10l-0.1-9l0.7-9l1.3-9l2.1-9l2.9-9l3.8-9l4.2-8l5.1-8l3-4l3.2-3.9l6-6.3l3-2.8l4-3.2l3-2.3l5-3.2l7-3.8l4-1.6l3-0.9l2-0.3l2-0.1l2 0.1l2 0.5l3 1.3l3 2.4l5 5.1l3 4l2 3.7l4 8.8l3 7.5l2.9 8l4.8 15l4.2 14l7.6 27l7 26l3.8 15l3 13l1.7 8l1.2 7l1.1 8l0.7 7l0 4l-0.3 3l-0.8 4l-1.1 4l-1.1 3l-1.2 2l-1.8 2l-2.7 2l-2.1 1l-3.4 1l-3.5 0.7z"/>
<path fill="#c9c0ff" d="M223.8 823.5l-4 0.3l-4 0.1l-4-0.2l-5-0.5l-9-1.6l-8-2.2l-9-3.4l-8-4l-8-4.8l-7-5.1l-7-6.1l-6.4-6.6l-5.8-7l-5-7l-5.3-9l-3.8-8l-3.2-8l-2.9-10l-2-10l-1.1-9l-0.2-10l0.4-9l1-8l2.2-10l2.7-9l3.6-9l4.1-8l4.9-8l5.8-7.6l6-6.6l7-6.2l7-5.1l4-2.4l4-2.1l3-1.3l3-0.9l3-0.4l4 0.2l3 0.8l4 2.1l5 4.4l3 3.5l2.4 3.6l3.6 7.3l3 6.9l2.7 6.8l7.6 23l11.1 39l6.2 23l3.8 15l4.3 19l1.8 11l0.8 7l0.6 7l-0.2 4l-0.4 3l-1 4l-1.3 4l-2 3.4l-2.2 2.6l-2.6 2l-2.2 1.2l-3 1z"/>
<path fill="#c3b9ff" d="M223.8 822.6l-7 0.5l-8-0.4l-5-0.6l-5-1l-8-2.1l-9-3.3l-8-3.8l-8-4.8l-7-4.9l-7-6l-6.7-6.8l-5.9-7l-5-7l-4.8-8l-4-8l-3.2-8l-3.1-10l-1.9-9l-1.2-9l-0.5-10l0.4-10l1.3-10l2-9l2.4-8l3.1-8l3.9-8l4.8-8l5.4-7.4l6-6.7l7-6.6l7-5.2l4-2.5l3-1.7l3-1.3l3-1l4-0.5l4 0.3l4 1.2l4 2.1l4 3.1l3 3.3l2.1 2.9l2.9 5.4l3.6 7.6l2.9 7l7.2 21l4.5 15l6.2 22l8.1 30l3.8 15l3 14l1.4 7l0.8 6l0.8 7l0.4 7l-0.1 4l-0.6 4l-1.6 5l-2.2 4l-2.2 3l-2.1 2l-3.1 2l-2.8 1.2z"/>
<path fill="#b9aeff" d="M223.8 821.4l-3 0.6l-3 0.3l-4 0l-4-0.2l-8-1.1l-9-2.1l-8-2.7l-5-2l-4-1.9l-8-4.5l-8-5.5l-7-5.8l-6.1-6.1l-6.1-7l-5.2-7l-4.9-8l-4.1-8l-3.3-8l-2.9-9l-2.2-9l-1.4-10l-0.6-9l0.2-9l0.9-9l1.4-8l2.7-10l2.8-8l4.2-9l4.6-8l5.7-8l5.1-6l6.2-6.1l4-3.3l3-2.3l4-2.7l3-1.7l3-1.4l3-1l4-0.7l4 0.1l3 0.7l4 1.5l4 2.1l2.4 1.8l2.9 3l2.7 4l3.3 6l3.3 7l2.4 5.8l2.7 7.2l6 18l3.5 12l7.6 27l8.7 33l4.3 20l1.1 6l0.9 7l0.6 7l0.3 7l-0.6 5l-1.1 4l-1 2.3l-3 4.6l-2.7 3.1l-2.5 2l-3.7 2z"/>
<path fill="#ada0ff" d="M216.8 820.5l-3 0.2l-3 0.1l-4-0.3l-4-0.5l-8-1.7l-8-2.5l-7-2.8l-8-4.1l-8-5l-7-5.3l-6.9-6.2l-5.6-6l-5.7-7l-4.7-7l-4.6-8l-3.7-8l-3-8l-2.4-8l-1.7-8l-1.2-9l-0.4-9l0.2-9l1-9l1.6-8l2.1-8l3.3-9l4.3-9l4.1-7l4.8-7l5.5-6.5l6-6l3-2.6l4-2.9l5-3l3-1.3l3-1l3-0.5l2-0.1l4 0.3l3 0.6l3 0.9l5 2.1l3 2l2.8 3l2.2 3.3l3 5.2l3 5.9l3 6.7l2.6 6.9l4.9 14l4.3 14l5.7 20l8.3 31l3.6 15l2.8 14l1.2 7l0.8 7l0.4 6l0 7l-0.4 4l-0.5 2l-0.7 2l-1.8 3l-3.2 4.2l-3 3l-3 2.3l-2.8 1.5l-3.2 1.2z"/>
<path fill="#a191ff" d="M214.8 818.5l-3 0.4l-3 0.2l-3-0.1l-4-0.4l-8-1.7l-8-2.5l-8-3.4l-8-4.3l-7-4.6l-7-5.5l-6-5.5l-6-6.5l-4.9-6.2l-4.7-7l-4.4-7.7l-3.3-7.3l-3.1-8l-2.3-8l-1.7-8l-1.2-9l-0.5-8l0.2-9l1-9l1.5-8l2.1-8l2.8-8l4.1-9l3.9-7l4.7-7l5.8-7l6-5.9l5-4l5-2.9l3-1.3l3-0.9l3-0.6l2-0.1l5 0.2l6 1.2l3 1l2 0.9l3 1.8l2 1.8l3 4.2l3 4.9l3 5.6l3 6.5l2.6 6.6l5 14l4.3 14l5.4 19l7.9 29l4 17l2.5 13l1.2 7l0.6 6l0.3 6l-0.1 6l-0.3 5l-0.9 3l-1.6 3l-2.2 3l-3.7 3.8l-4 3.2l-3 1.8l-3 1.2z"/>
<path fill="#9483ff" d="M211.8 816.6l-3 0.4l-3 0.2l-6-0.3l-3-0.4l-4-0.9l-7-2.2l-7-2.9l-8-4.2l-7-4.5l-7-5.4l-6-5.5l-5.2-5.5l-5.6-7l-4.8-7l-4.1-7l-3.8-8l-3-8l-2.2-7l-1.8-8l-1.1-8l-0.7-9l0.1-8l0.7-8l1.2-8l2-8l2.9-9l3.4-8l4-7.5l5-7.6l5-6.3l5-5.1l5-4l3-1.9l3-1.5l5-1.8l5-0.9l6 0l6 0.9l4 1.3l3 1.6l3 2.4l2 2.3l4 6l3 5.3l3 6.4l2.6 6.4l4.8 13l4.4 14l4.9 17l8.1 30l4 17l2.4 13l1.1 7l0.6 6l0.2 6l-0.2 6l-0.5 4l-0.8 3l-1.6 3.2l-2.1 2.8l-2.9 2.9l-4 3.1l-4 2.4l-4 1.8z"/>
<path fill="#8875ff" d="M209.8 814.5l-3 0.5l-3 0.2l-6-0.2l-4-0.6l-4-0.9l-6-1.9l-7-3.1l-7-3.8l-7-4.6l-6-4.7l-6-5.5l-5.1-5.5l-5.6-7l-4.7-7l-4-7l-3.3-7l-2.7-7l-2.8-9l-1.9-9l-1-8l-0.5-8l0.2-8l0.7-8l1.4-8l2-8l2.7-8l3.5-8l4.1-7.5l4-6l5-6.2l5-4.8l5-3.7l5-2.8l5-1.7l5-1l6-0.2l5 0.4l4 1l3 1.3l3 2.3l5 5.5l2.4 3.4l2.9 5l2.7 5.7l2.7 6.3l4.9 13l5.3 17l5.9 21l5.6 21l4.3 18l3.1 19l0.6 6l0 6l-0.2 4l-0.8 5l-1.1 4l-1.3 2.7l-2 2.7l-2.7 2.6l-3.3 2.4l-5 2.9l-4 1.7z"/>
<path fill="#7c66ff" d="M206.8 812.6l-3 0.4l-3 0.2l-6-0.3l-3-0.5l-4-0.9l-6.5-2.1l-6.6-3l-6.9-3.8l-6-4.2l-6-4.8l-6-5.7l-5-5.5l-4.6-6l-4.6-7l-4-7l-3.2-7l-3-8l-2.1-7l-1.7-8l-1.2-8l-0.5-8l0.2-9l0.7-8l1.4-8l2-8l2.6-7.5l3-6.9l4-7.4l4-6l4-4.9l5-4.8l5-3.8l5-2.7l3-1.2l3-0.9l6-1l5-0.4l4 0.3l4 0.9l3 1.4l3 2.3l4 4.1l4 5l3 5.1l2.6 5.4l5.6 14l1.9 5l4.1 13l4.6 16l8 30l3.9 17l2.1 13l0.8 6l0.3 5l-0.1 5l-0.7 5l-0.8 4l-1.2 4l-1.1 2.3l-2 2.7l-3 2.8l-4 2.6l-4 1.9l-5 1.9z"/>
<path fill="#7058ff" d="M204.8 810.5l-6 0.6l-6-0.3l-3-0.5l-3.9-0.9l-6.1-1.9l-6.8-3.1l-5.3-3l-5.9-4l-7-5.7l-6-5.9l-5-5.7l-5-6.8l-4-6.3l-3.9-7.6l-3.1-7l-2.4-7l-2.2-8l-1.5-8l-1-9l-0.2-8l0.4-8l1-8l1.9-8.9l2-6.7l3-7.7l3-6.1l4-6.6l4-5.2l5-5.3l5-4l5-3l5-2.1l6-1.6l5-0.8l5-0.1l4 0.7l3 1.1l3 2.2l5 4.6l4 4.7l3 4.6l3.1 6.2l5.7 14l5 15l8.2 29l4.5 17l2.8 12l1.2 6l1.9 12l0.7 6l0.3 4l-0.1 4l-0.7 5l-1.1 5l-1.5 4.6l-1 2.4l-2 2.7l-2 1.9l-3 2.1l-3 1.6l-4 1.7l-4 1.2z"/>
<path fill="#634aff" d="M202.8 808.5l-6 0.4l-6-0.3l-6-1.1l-6-1.9l-7-3.1l-5.4-3.1l-5.8-4l-6.1-5l-5.7-5.6l-5-5.8l-5-6.8l-4-6.5l-4-7.8l-3-7.2l-2.1-6.3l-2.1-8l-1.4-8l-0.8-8l-0.2-8l0.4-8l0.9-7l1.3-6.9l2-7.2l3-8l3-6.1l4-6.5l4-5.3l5-5.1l5-3.9l5-3l6-2.5l6-1.7l4-0.7l4-0.1l4 0.7l3 1.2l5 3.8l4 3.8l4 4.8l3 4.6l2.5 5.1l5.5 13l5.3 16l6 21l5.1 19l4 17l1.1 6l1.7 12l0.5 5l0.1 3l-0.4 5l-0.6 4l-1.3 5l-1.5 4.2l-1.2 2.8l-1.4 2l-2 2l-2.8 2l-2.6 1.4l-4 1.6l-5 1.3z"/>
<path fill="#573cff" d="M200.8 806.5l-6 0.3l-6-0.4l-6-1.2l-6-2l-6.1-2.8l-6.8-4l-6.1-4.4l-5-4.3l-5-5.1l-5-6l-4-5.6l-4-6.6l-4-8l-3-7.5l-2-6.5l-2-8l-1.2-8l-0.7-8l0-8l0.6-8l1.3-8.3l2-7.8l2-5.8l3-6.8l3-5.5l4-5.8l4-4.7l4-3.8l5-3.7l5-2.8l6-2.6l3-1l3-0.7l4-0.5l4 0.2l3 0.8l3 1.6l5 3.8l4 3.8l4 5l3 4.9l3 6.1l4 9.4l5.5 16.2l5.7 20l5.1 19l4.2 18l0.9 5l1.3 10l0.4 6l0 4l-0.5 5l-0.8 4l-1.2 4l-1.6 4l-1.5 3l-1.3 2l-2.2 2.1l-3 1.9l-3 1.4l-4 1.3l-4 0.9z"/>
<path fill="#4c2fff" d="M200.8 804.5l-6 0.3l-6-0.4l-6-1.1l-6-1.8l-6-2.6l-6-3.3l-6-4.2l-5-4.2l-5-4.9l-5-5.8l-4-5.4l-4-6.4l-4-7.8l-3-7.3l-2-5.9l-2-7.8l-1.1-6.5l-0.9-8l-0.2-8l0.4-8l0.9-7l1.9-8.5l2-6.2l3-7.2l3-5.6l4-5.9l4-4.8l4-3.8l5-3.7l5.4-3.3l5.6-2.5l5-1.6l4-0.6l4 0.2l3 0.9l4 2.2l5 3.7l3.9 3.7l3.1 4l3 4.8l7 14.6l2 5.4l3.4 10.2l5.5 19l5.1 19l4 17.3l1.1 5.7l1.2 13l0.1 6l-0.3 4l-0.6 4l-1.1 4l-1.4 3.6l-1.6 3.4l-1.7 3l-1.7 2l-2 1.6l-3 1.6l-4 1.5l-4 0.9z"/>
<path fill="#411eff" d="M204.8 802.5l-6 0.7l-6 0l-7-0.8l-6-1.4l-6-2.1l-6-2.9l-6-3.7l-5-3.7l-5-4.5l-5-5.2l-5-6.2l-4-6l-4-7.1l-3-6.5l-3-8.2l-2-7.3l-1-5.2l-1.2-9l-0.4-8l0.3-7l0.7-7l1.6-8l2-6.9l2.4-6.1l2.9-6l3.7-5.9l4-5.1l3.9-4l4.8-4l5.3-3.5l6-3.1l5-1.7l4-0.7l4 0.1l3 0.9l3 1.5l5 3.3l3.8 3.2l3.2 3.6l3 4.3l2.8 5.1l4.9 10l3.2 8l4.5 14l4.8 17l4.8 18.3l3 13.6l1.1 7.1l0.9 11l0.2 5l-0.2 4l-0.8 5l-1.2 4l-1.6 4l-2.4 4.5l-2 2.9l-2 1.8l-3 1.7l-3 1.2z"/>
<path fill="#390fff" d="M202.8 802.6l-6 0.4l-7-0.3l-6-0.9l-6-1.6l-5-1.9l-6-3l-6-3.9l-5-3.9l-5-4.6l-5-5.4l-5-6.5l-4-6.2l-4-7.5l-2.9-6.9l-2.1-5.9l-2-7.4l-1.2-6.7l-1-8l-0.2-8l0.4-8l1-7.7l1.4-6.3l1.8-6l2.8-7l3-5.8l3-4.7l4-5.1l4-4.1l5.2-4.3l5.8-3.8l5-2.5l5-1.7l4-0.7l2 0l2 0.2l2.3 0.5l3.7 1.9l4 2.5l4.4 3.6l3.6 4l3 4.4l2.6 4.6l4.9 10l1.5 3.6l1.7 4.4l4.5 14l5.1 18l4.8 18l3.3 16l1.2 13l0.3 5l0 4l-0.4 4l-0.9 4l-1.2 4l-1.8 4l-2.6 4.5l-2 2.5l-2 1.5l-3 1.6l-4 1.3z"/>
<path fill="#3000ff" d="M201.8 802.5l-6 0.3l-7-0.5l-6-1l-6-1.7l-5.2-2.2l-5.8-3l-6-3.9l-5-4l-5-4.8l-5-5.6l-4-5.3l-4-6.2l-4-7.6l-3-7.1l-2-5.8l-2-7.5l-1-5.2l-1.1-9l-0.2-8l0.3-7.3l1-7.6l1.3-6.1l1.8-6l2.9-7.6l3-5.8l3.6-5.6l3.4-4.3l4.7-4.7l5.3-4.3l5.8-3.7l5.2-2.4l5-1.6l4-0.4l3 0.2l3 0.9l4 2.1l4 2.7l4 3.5l3 3.4l3 4.4l2.9 5.2l4.9 10l3 8l3.2 9.6l2 6.8l5 18l4.1 15.6l3.1 15l1.3 14l0.2 5l-0.1 4l-0.6 4l-0.6 3l-1.4 4.1l-2 4.4l-2.7 4.5l-1.8 2l-2.5 1.8l-3 1.4l-4 1.2z"/>
<path fill="#2d1eff" d="M189.8 786.4l-3 0.3l-4-0.5l-4-1l-4-1.5l-4-2l-5-3l-4-3l-3-2.6l-3.6-3.7l-2.7-3l-3.1-4l-4-6l-2.2-4l-2.7-6l-1.1-3l-1.9-6l-1.1-5l-1-6l-0.3-5l-0.1-5l0.4-6l0.7-5l1.2-6l0.9-3l2.2-6l1.9-4l2.3-4l2.8-4l2.4-2.8l3-2.8l3-2.1l3-1.3l3-0.6l4-0.2l3 0.1l3 0.5l3 0.9l3 1.5l3 2.1l2 2l2.2 2.7l2 3l5.6 9l1.6 3l2.1 5l2.1 6l4.9 16l4 17l1 5l0.7 5l0.2 3l-0.2 11l-0.7 7l-0.8 3l-1.3 3l-2 3l-2.4 2.6l-3 2.4l-3 1.8l-4 1.7z"/>
<path fill="#2a2cff" d="M187.8 785.4l-3 0.1l-4-0.7l-4-1.2l-4-1.7l-4-2.2l-4-2.6l-4-3.2l-3-2.7l-3.5-3.8l-2.5-3l-2.3-3l-3.3-5l-2.7-5l-2.2-5l-1.9-5l-1.2-4l-0.9-4l-1-6l-0.5-6l-0.1-4l0.2-5l0.5-5l1-5l1.3-5l1.7-5l2.3-5l2.8-5l2.2-3l2.1-2.5l3-2.9l3-2l3-1.1l4-0.8l3-0.2l4 0.3l3 0.6l3 1.1l3 1.8l2 1.6l2 2.1l2.3 3l2 3l4.9 8l2.1 4l2 5l2.1 6l3.1 10l1.9 7l3.3 14l1 5l0.6 5l0.1 3l-0.2 11l-0.3 4l-0.5 3l-0.9 3l-1.6 3l-1.9 2.7l-2 2l-3 2.3l-3 1.7l-4 1.6z"/>
<path fill="#273cff" d="M188.8 783.7l-3 0.5l-3-0.1l-4-0.9l-4-1.4l-4-1.9l-3-1.8l-4-2.8l-4-3.3l-3-2.9l-3.3-3.7l-3.1-4l-3.3-5l-2.8-5l-1.8-4l-2-5l-1.2-4l-1-4l-1.1-6l-0.6-5l-0.2-5l0.2-5l0.6-6l0.9-5l1.1-4l1.3-4l2.1-5l2.7-5l2.5-3.6l3-3.5l3-2.5l2-1.2l3-1.1l3-0.7l4-0.3l3 0.1l3 0.5l3 1l3 1.5l2 1.6l2 1.9l2 2.5l2.6 3.8l5 8l2.1 4l1.6 4l2.1 6l4.3 14l3.7 15l1.2 6l0.5 4l0.2 4l-0.2 10l-0.2 4l-0.4 3l-0.7 3l-1.3 3l-1.5 2.4l-2 2.3l-2 1.8l-3 2l-3 1.4z"/>
<path fill="#2349ff" d="M186.8 782.5l-3 0.3l-3-0.2l-4-1.1l-4-1.6l-4-2.2l-4-2.7l-4-3.2l-3-2.8l-3.3-3.6l-3.2-4l-2.7-4l-2.4-4l-2-4l-1.7-4l-1.8-5l-1.4-5l-1.1-5l-0.7-5l-0.3-5l0-5l0.4-5l0.7-5l1.1-5l1.2-4l1.5-4l1.9-4l2.4-4l2.4-3.3l3-3.2l2-1.5l2-1.2l4-1.3l4-0.7l3-0.2l3 0.2l3 0.7l3 1.2l2.2 1.3l2.3 2l2.5 2.9l2.9 4.1l5.1 8.3l2.5 4.7l1.9 5l3 9l4.2 15l2.6 12l1 7l-0.3 14l-0.3 4l-0.6 3l-1 2.7l-1.2 2.3l-1.8 2.5l-2 2l-2 1.5l-3 1.8l-3 1.2z"/>
<path fill="#1f57ff" d="M187.8 780.4l-3 0.6l-3 0.2l-3-0.4l-4-1.2l-4-1.9l-3-1.7l-4-2.8l-4-3.5l-3-3l-3-3.4l-2.9-3.9l-2.6-4l-2.7-5l-2.3-5l-1.8-5l-1.2-4l-1.1-5l-0.8-5l-0.4-5l0-5l0.3-5l0.7-5l1-5l1.2-4l1.9-5l2-4l2.6-4l2.1-2.7l2-2l2-1.5l3-1.4l3-1.1l3-0.6l3-0.3l3 0l3 0.6l3 1.1l2 1.1l2 1.5l2.3 2.3l2.3 3l2.7 4l4.4 7l2 4l1.6 4l2.1 6l4.1 14l2.9 12l0.9 5l0.5 4l0.2 3l-0.3 11l-0.3 4l-0.5 3l-0.8 3l-1 2l-1.2 2l-1.9 2.2l-2.1 1.8l-2.9 1.8l-3 1.3z"/>
<path fill="#1b65ff" d="M183.8 779.5l-3 0.2l-3-0.4l-3-0.9l-3-1.3l-4-2.2l-3-2.1l-4-3.2l-3.2-3.2l-2.8-3.1l-3-3.9l-2.6-4l-2.3-4l-1.9-4l-1.7-4l-1.7-5l-1.2-5l-1-5l-0.4-4l-0.3-5l0.1-5l0.5-5l0.6-4l1.2-5l1.3-4l1.7-4l2.1-4l2.6-3.8l2-2.2l2-1.7l2-1.2l3-1.4l4-1.2l3-0.5l3 0l3 0.4l3 0.9l3 1.6l2 1.7l2 2.1l2.5 3.3l7 11l2.8 6l2.1 6l2.8 9l2.2 8l1.8 8l1.3 7l0.3 5l-0.4 14l-0.6 4l-0.9 3l-0.9 2l-2 2.9l-2 2l-2 1.5l-2 1.1l-3 1.3l-3 0.8z"/>
<path fill="#1773ff" d="M183.8 777.5l-3 0.3l-3-0.2l-3-0.7l-3-1.1l-3-1.6l-4-2.7l-3.7-3.1l-3.1-3l-3.2-3.5l-2.6-3.5l-2.6-4l-2.2-4l-1.9-4l-2-5l-1.3-4l-1-4l-0.9-5l-0.5-5l-0.2-5l0.1-4l0.5-5l0.7-4l1.3-5l1.3-4l1.3-3l2-3.7l2-2.9l2-2.3l2-1.6l3-1.8l3-1.3l4-1.1l3-0.4l3 0.1l3 0.6l2 0.7l2 1.1l2.1 1.6l2.8 3l2.1 2.9l7 11.1l2.8 6l2.1 6l2.4 8l3.5 14l1.3 7l0.4 5l-0.6 14l-0.6 4l-0.8 3l-1 2l-1.5 2.2l-2 2l-2 1.5l-2 1.2l-3 1.2l-2 0.5z"/>
<path fill="#1382ff" d="M184.8 775.6l-3 0.3l-4 0l-3-0.5l-2-0.6l-3-1.4l-3-1.7l-4-3l-3-2.7l-3-3.1l-3-3.7l-2.6-3.8l-2.4-4l-2-4l-1.7-4l-1.7-5l-1.1-4l-1-5l-0.6-5l-0.3-5l0.1-4l0.5-5l0.6-4l1-4l1.2-3.9l1.3-3.1l1.7-3.4l2-3l2-2.3l2-1.6l3-1.9l3-1.4l3-1l3-0.6l3-0.1l3 0.5l2 0.6l2 1l2 1.4l2 1.9l2 2.5l2.5 3.4l5.5 8.9l2.1 4.1l1.6 4l2 6l2.1 7l1.8 7l1.9 9l0.6 6l-0.3 13l-0.4 4l-0.7 3l-0.6 2l-1.1 2.1l-1.3 1.9l-2.1 2l-2.6 1.8l-2 1l-2 0.7z"/>
<path fill="#0f8fff" d="M184.8 773.5l-3 0.4l-4 0l-4-0.6l-2-0.6l-2-0.8l-3-1.7l-3-2.1l-3-2.6l-3-3l-3-3.6l-2.4-3.5l-2.5-4l-2.1-4l-1.7-4l-1.5-4l-1.4-5l-0.8-4l-0.7-5l-0.3-5l0-4l0.4-5l0.6-4l1-4l1.4-4.4l1.1-2.6l1.9-3.4l1-1.5l2-2.3l3-2.4l3-1.9l3-1.4l3-0.9l3-0.4l2 0l3 0.4l2 0.7l2 1.1l1.4 1l1.6 1.6l2.1 2.4l2.9 4.2l5 8l2.1 3.8l1.6 4l1.8 5l1.8 6l1.9 7l1.8 9l0.6 6l-0.3 13l-0.4 4l-0.7 3l-0.7 2l-1 2l-1.5 1.9l-1.1 1.1l-1.9 1.4l-2 1.1l-2 0.9z"/>
<path fill="#0c9eff" d="M183.8 771.6l-3 0.3l-3-0.1l-4-0.6l-3-0.7l-2-0.9l-3-1.7l-2-1.4l-3-2.6l-3-3l-2.8-3.5l-2.2-3l-2.4-4l-2-4l-1.7-4l-1.4-4l-1.1-4l-0.9-4l-0.7-5l-0.3-5l0.1-4l0.3-4l0.6-4l1-4l1.3-4l1.2-2.7l2-3.3l3-3.3l2-1.8l3-2l3-1.6l3-1l3-0.4l2 0l2 0.2l2 0.6l2 1l2 1.5l2 2l1.6 1.8l4.7 7l3.7 6.2l1.4 2.8l1.6 3.9l1.8 5.1l3.1 11l1.4 7l0.7 6l-0.2 13l-0.4 4l-0.5 3l-0.6 2l-1 2l-1.3 1.9l-1 1.1l-2 1.6l-2 1.1l-2 0.8z"/>
<path fill="#09abff" d="M183.8 769.5l-3 0.3l-3 0l-3-0.4l-4-1l-3-1.2l-2-1.1l-2-1.3l-3-2.5l-2.7-2.9l-2.3-2.6l-2.3-3.4l-2.5-4l-1.5-3l-1.8-4l-1.4-4l-1.1-4l-0.9-4l-0.6-4l-0.3-4l0-4l0.2-4l0.5-4l0.7-3.4l1.1-3.6l1.2-3l1.7-2.9l2-2.5l2-2.1l2-1.8l3-2l2-1.1l3-1.1l2-0.4l2-0.1l2 0.1l2 0.5l2 0.9l2 1.3l3.2 3.2l4.2 6l5.9 10l2.8 7l3 10l1.5 7l0.8 6l-0.1 13l-0.3 4l-0.5 3l-0.6 2l-0.8 2l-1.1 1.8l-1 1.2l-2 1.7l-2 1.1l-2 0.8z"/>
<path fill="#06baff" d="M181.8 767.5l-2 0.1l-3-0.1l-3-0.6l-3-0.8l-3-1.2l-3-1.6l-2-1.4l-2-1.6l-3-3.1l-2-2.5l-2-2.9l-2-3.3l-2-4l-1.3-3.1l-1.4-4l-1-4l-1.3-7.1l-0.2-3.9l-0.1-4l0.3-4l0.5-3l0.5-2.6l1.1-3.4l0.9-2.3l1.6-2.7l2.2-3l2.2-2.5l2-1.7l3-2.1l2-1l3-1l2-0.3l2 0l2 0.4l2 0.7l3 2.1l3.2 3.4l2.1 3l2.5 4l5.2 9.5l2.9 7.5l2.1 8l1.3 7l0.3 6l0 10l-0.4 4l-0.5 3l-0.6 2l-1 2l-1.1 1.6l-1 1l-2 1.5l-1.9 0.9l-2.1 0.7z"/>
<path fill="#04c8ff" d="M183.8 764.6l-2 0.5l-3 0.2l-3-0.2l-3-0.7l-3-1l-3-1.4l-2.6-1.6l-2.4-1.6l-2-1.8l-2-2.1l-2-2.5l-2-3l-3.1-6l-1.7-4l-1.2-3.7l-1-4.2l-0.5-3.1l-0.5-7l0-3l0.4-4l0.6-3.1l0.9-2.9l1.3-3l1.6-3l3.2-4.3l2-2l2-1.7l2-1.2l3-1.3l2-0.5l2-0.2l3 0.5l1.9 0.7l1.1 0.7l3 2.8l2 2.4l2 3l4.7 8.1l3.3 6.9l2.1 6.1l1.7 7l0.8 6l0.3 11l-0.5 7l-0.9 4l-1.5 3l-1 1.2l-2 1.6z"/>
<path fill="#02d6ff" d="M180.8 762.6l-2 0.2l-3-0.2l-2-0.4l-3-0.9l-3-1.4l-2-1.1l-3-2.1l-2-1.7l-2-1.9l-2-2.3l-3-4.4l-2-3.9l-1-2.4l-2-6.2l-1.1-6.5l-0.3-4l0-3l0.6-5l0.7-3l1-3l2.4-5l1.7-2.6l2-2.4l2-1.8l2-1.5l2-1l2-0.7l3-0.4l3 0.5l2 0.9l1 0.8l2 1.8l1.2 1.4l3.8 5.6l4 7.4l3 6.9l1.9 6.1l1.3 7l0.7 8l0 7l-0.2 3l-0.5 3l-1.2 3.6l-0.8 1.4l-1.2 1.4l-1 0.8l-2 1.1z"/>
<path fill="#01e4ff" d="M180.8 759.7l-2 0.3l-2 0l-2-0.2l-3-0.8l-3-1.2l-2-1.1l-4-2.9l-4-4.1l-3.1-4.3l-2.7-5l-1.2-2.8l-1-3.2l-1.1-6l-0.3-6l0.7-6l1.3-5l2.3-5l1.2-2l1.9-2.4l3-2.7l2-1.2l2-0.8l3-0.4l2 0.3l1 0.3l2 1.2l3 2.8l3 4.1l3.3 5.8l3.1 7l2.1 6l1.3 6l0.9 7l0.3 7l-0.5 6l-0.5 2l-0.7 2l-1.3 2.3l-2 1.7z"/>
<path fill="#00f2ff" d="M179.8 756.7l-2 0.4l-2 0l-2-0.3l-2-0.6l-4-1.9l-4-2.9l-3.8-4l-2.8-4l-2.6-5l-1.6-5l-1-5l-0.3-3l0-3l0.6-5l1.3-5l1.2-2.8l1-1.8l2.5-3.4l1.5-1.5l2-1.4l3-1.2l2-0.2l1 0.1l2 0.7l2.4 1.5l2.6 2.9l2.8 4.1l2.6 5l2.5 6l1.6 5l1.1 5l0.9 6l0.3 6l-0.3 5l-0.6 3l-1.3 3l-0.8 1l-1.1 1l-1.7 1z"/>
<path fill="#00fcff" d="M177.8 753.6l-3 0.1l-2-0.4l-2-0.6l-3-1.6l-3.4-2.7l-2.8-3l-2.8-4l-2-4l-1.6-5l-0.8-4l-0.2-5l0.5-5l1-4l1.8-4l2.1-3l2.2-2l1.8-1l1.2-0.4l2-0.2l1 0.1l1.7 0.5l2.3 1.7l2 2.2l2.2 3.1l2.6 5l2.1 5l1.5 5l1.1 5l0.7 5l0.2 5l-0.4 4.6l-0.9 3.4l-1.1 1.8l-1 1l-1 0.7z"/></g>
<ellipse cx="232.2" cy="711.8" rx="113.2" ry="114" fill="none" stroke="#f0408f" stroke-opacity="0.9" stroke-width="1"/>
<rect x="68.8" y="546.7" width="327" height="331" fill="none" stroke="#444" stroke-width="1.3"/>
<path d="M68.8 554.98h4.39M395.8 554.98h-4.39M76.97 546.7v3.39M76.97 877.7v-3.39M68.8 563.25h4.39M395.8 563.25h-4.39M85.15 546.7v3.39M85.15 877.7v-3.39M68.8 571.53h4.39M395.8 571.53h-4.39M93.32 546.7v3.39M93.32 877.7v-3.39M68.8 579.8h4.39M395.8 579.8h-4.39M101.5 546.7v3.39M101.5 877.7v-3.39M68.8 588.08h4.39M395.8 588.08h-4.39M109.67 546.7v3.39M109.67 877.7v-3.39M68.8 596.35h4.39M395.8 596.35h-4.39M117.85 546.7v3.39M117.85 877.7v-3.39M68.8 604.62h4.39M395.8 604.62h-4.39M126.03 546.7v3.39M126.03 877.7v-3.39M68.8 612.9h4.39M395.8 612.9h-4.39M134.2 546.7v3.39M134.2 877.7v-3.39M68.8 621.18h4.39M395.8 621.18h-4.39M142.38 546.7v3.39M142.38 877.7v-3.39M68.8 629.45h7.18M395.8 629.45h-7.18M150.55 546.7v6.78M150.55 877.7v-6.78M68.8 637.73h4.39M395.8 637.73h-4.39M158.72 546.7v3.39M158.72 877.7v-3.39M68.8 646h4.39M395.8 646h-4.39M166.9 546.7v3.39M166.9 877.7v-3.39M68.8 654.28h4.39M395.8 654.28h-4.39M175.07 546.7v3.39M175.07 877.7v-3.39M68.8 662.55h4.39M395.8 662.55h-4.39M183.25 546.7v3.39M183.25 877.7v-3.39M68.8 670.83h4.39M395.8 670.83h-4.39M191.43 546.7v3.39M191.43 877.7v-3.39M68.8 679.1h4.39M395.8 679.1h-4.39M199.6 546.7v3.39M199.6 877.7v-3.39M68.8 687.38h4.39M395.8 687.38h-4.39M207.77 546.7v3.39M207.77 877.7v-3.39M68.8 695.65h4.39M395.8 695.65h-4.39M215.95 546.7v3.39M215.95 877.7v-3.39M68.8 703.93h4.39M395.8 703.93h-4.39M224.12 546.7v3.39M224.12 877.7v-3.39M68.8 712.2h7.18M395.8 712.2h-7.18M232.3 546.7v6.78M232.3 877.7v-6.78M68.8 720.48h4.39M395.8 720.48h-4.39M240.48 546.7v3.39M240.48 877.7v-3.39M68.8 728.75h4.39M395.8 728.75h-4.39M248.65 546.7v3.39M248.65 877.7v-3.39M68.8 737.03h4.39M395.8 737.03h-4.39M256.82 546.7v3.39M256.82 877.7v-3.39M68.8 745.3h4.39M395.8 745.3h-4.39M265 546.7v3.39M265 877.7v-3.39M68.8 753.58h4.39M395.8 753.58h-4.39M273.18 546.7v3.39M273.18 877.7v-3.39M68.8 761.85h4.39M395.8 761.85h-4.39M281.35 546.7v3.39M281.35 877.7v-3.39M68.8 770.12h4.39M395.8 770.12h-4.39M289.52 546.7v3.39M289.52 877.7v-3.39M68.8 778.4h4.39M395.8 778.4h-4.39M297.7 546.7v3.39M297.7 877.7v-3.39M68.8 786.68h4.39M395.8 786.68h-4.39M305.88 546.7v3.39M305.88 877.7v-3.39M68.8 794.95h7.18M395.8 794.95h-7.18M314.05 546.7v6.78M314.05 877.7v-6.78M68.8 803.23h4.39M395.8 803.23h-4.39M322.23 546.7v3.39M322.23 877.7v-3.39M68.8 811.5h4.39M395.8 811.5h-4.39M330.4 546.7v3.39M330.4 877.7v-3.39M68.8 819.78h4.39M395.8 819.78h-4.39M338.57 546.7v3.39M338.57 877.7v-3.39M68.8 828.05h4.39M395.8 828.05h-4.39M346.75 546.7v3.39M346.75 877.7v-3.39M68.8 836.33h4.39M395.8 836.33h-4.39M354.93 546.7v3.39M354.93 877.7v-3.39M68.8 844.6h4.39M395.8 844.6h-4.39M363.1 546.7v3.39M363.1 877.7v-3.39M68.8 852.88h4.39M395.8 852.88h-4.39M371.28 546.7v3.39M371.28 877.7v-3.39M68.8 861.15h4.39M395.8 861.15h-4.39M379.45 546.7v3.39M379.45 877.7v-3.39M68.8 869.43h4.39M395.8 869.43h-4.39M387.62 546.7v3.39M387.62 877.7v-3.39" stroke="#444" stroke-width="1" fill="none"/>
<rect x="486.2" y="546.7" width="25.2" height="331" fill="url(#cb)" stroke="#000" stroke-opacity="0.55" stroke-width="1.2"/>
<text x="61" y="557.3" font-size="16" text-anchor="end" fill="#000" font-family='"Liberation Sans", sans-serif' >0.2</text>
<text x="60.5" y="637.9" font-size="16" text-anchor="end" fill="#000" font-family='"Liberation Sans", sans-serif' >0.1</text>
<text x="60.5" y="716.7" font-size="16" text-anchor="end" fill="#000" font-family='"Liberation Sans", sans-serif' >0.0</text>
<text x="60.5" y="801.7" font-size="16" text-anchor="end" fill="#000" font-family='"Liberation Sans", sans-serif' >-0.1</text>
<text x="62.4" y="873.4" font-size="16" text-anchor="end" fill="#000" font-family='"Liberation Sans", sans-serif' >-0.2</text>
<text x="151.5" y="898.2" font-size="16" text-anchor="middle" fill="#000" font-family='"Liberation Sans", sans-serif' >4.9</text>
<text x="236.3" y="898.2" font-size="16" text-anchor="middle" fill="#000" font-family='"Liberation Sans", sans-serif' >5.0</text>
<text x="320.2" y="898.2" font-size="16" text-anchor="middle" fill="#000" font-family='"Liberation Sans", sans-serif' >5.1</text>
<text x="483.4" y="564.4" font-size="16" text-anchor="end" font-family='"Liberation Sans", sans-serif'>-6×10<tspan font-size="10.4" dy="-3.1">-3</tspan></text>
<text x="482.3" y="610.6" font-size="16" text-anchor="end" font-family='"Liberation Sans", sans-serif'>-4×10<tspan font-size="10.4" dy="-3.1">-3</tspan></text>
<text x="482.3" y="662.2" font-size="16" text-anchor="end" font-family='"Liberation Sans", sans-serif'>2×10<tspan font-size="10.4" dy="-3.1">-3</tspan></text>
<text x="480.3" y="719.3" font-size="16" text-anchor="end" fill="#000" font-family='"Liberation Sans", sans-serif' >0.00</text>
<text x="482.3" y="777" font-size="16" text-anchor="end" font-family='"Liberation Sans", sans-serif'>-2×10<tspan font-size="10.4" dy="-3.1">-3</tspan></text>
<text x="482.3" y="822.6" font-size="16" text-anchor="end" font-family='"Liberation Sans", sans-serif'>-4×10<tspan font-size="10.4" dy="-3.1">-3</tspan></text>
<text x="482.3" y="872.8" font-size="16" text-anchor="end" font-family='"Liberation Sans", sans-serif'>-6×10<tspan font-size="10.4" dy="-3.1">-3</tspan></text>
<path d="M486.2 558.4h2.2M511.4 558.4h-2.2M486.2 604.6h2.2M511.4 604.6h-2.2M486.2 656.2h2.2M511.4 656.2h-2.2M486.2 713.3h2.2M511.4 713.3h-2.2M486.2 771h2.2M511.4 771h-2.2M486.2 816.6h2.2M511.4 816.6h-2.2M486.2 866.8h2.2M511.4 866.8h-2.2" stroke="#000" stroke-opacity="0.5" stroke-width="0.9" fill="none"/>
<text x="230.6" y="540.87" text-anchor="middle" font-size="19.4" fill="#2e2e2e" stroke="#2e2e2e" stroke-width="0.55" font-family='"Liberation Serif", serif' font-style="italic" filter="url(#bl)">ψ</text>
<text font-family='"Liberation Serif", serif' font-style="italic" font-weight="bold" fill="#454545" filter="url(#bl)" stroke="#454545" stroke-width="0.35" ><tspan x="212.82" y="915.4" font-size="15.4">R</tspan><tspan x="229.11" y="916" font-size="16.17">(</tspan><tspan x="235.31" y="915.4" font-size="15.4">L</tspan><tspan x="243.14" y="918" font-size="10.16">0</tspan><tspan x="251.51" y="916" font-size="16.17">)</tspan></text>
<g transform="translate(24.7 732.4) rotate(-90)"><text font-family='"Liberation Serif", serif' font-style="italic" font-weight="bold" fill="#454545" filter="url(#bl)" stroke="#454545" stroke-width="0.35" ><tspan x="0.03" y="0" font-size="13.2">Z</tspan><tspan x="13.92" y="0.5" font-size="13.86">(</tspan><tspan x="18.89" y="0" font-size="13.2">L</tspan><tspan x="25.27" y="2.2" font-size="9.5">0</tspan><tspan x="31.24" y="0.5" font-size="13.86">)</tspan></text></g>
<g transform="translate(434.8 734.9) rotate(-90)"><text font-family='"Liberation Serif", serif' font-style="italic" font-weight="bold" fill="#454545" filter="url(#bl)" stroke="#454545" stroke-width="0.35" ><tspan x="0.13" y="0" font-size="15">B</tspan><tspan x="10.25" y="2.4" font-size="9.9">0</tspan><tspan x="17.71" y="0" font-size="15">L</tspan><tspan x="25.65" y="2.4" font-size="9.9">0</tspan></text></g>
<text transform="translate(225.06 973.5) scale(0.92 1)" font-size="38.15" font-family='"Liberation Serif", serif'>(</text>
<text transform="translate(237.14 973.5) scale(1.11 1)" font-size="34.6" font-family='"Liberation Serif", serif'>c</text>
<text transform="translate(254.58 973.5) scale(0.92 1)" font-size="38.15" font-family='"Liberation Serif", serif'>)</text>
<g filter="url(#fb)"><path fill="#fff2f4" d="M745 829.5l-7 0.3l-7-0.1l-9-0.7l-7-1l-6-1.2l-8-2l-6-2l-8-3.1l-8-3.7l-6-3.3l-6-3.8l-6-4.2l-6-4.8l-5-4.6l-5.8-5.9l-4.4-5l-5.4-7l-4-6l-4.1-7l-3.5-7l-3.3-8l-2.1-6l-2-7l-1.8-9l-1-8l-0.3-7l0.2-7l0.8-7l1.2-6l1.1-4l1.1-3l0.9-2l1.4-2.4l1.3-1.6l1.7-1.6l1-0.8l2-1l3-0.6l6-0.2l10 0.5l8 0.9l9 1.5l10 2l11 2.7l15 4.4l17 5.8l13 5l16.9 7.4l9.7 4l10.4 4l8.7 3l12.6 4l14.3 4l27.4 6.7l12.7 3.3l4.3 1.5l1.1 0.5l1.2 1l1.4 2l0.8 2l0.5 3l-0.1 3l-0.5 3l-1.6 6l-1.3 4l-2 5l-2 4l-2.8 5l-5.5 8l-6.6 8l-3.8 4l-3.8 3.6l-8 6.6l-9 6.3l-9 5.1l-8 3.8l-8 3.1l-10 3l-10 2.1l-6 0.9z"/>
<path fill="#ffebee" d="M748 827.4l-7 0.5l-7 0.1l-7-0.3l-8-0.9l-7-1.2l-8-1.9l-6-1.8l-8-2.9l-7-3.1l-6-3l-7-4.2l-7-4.8l-6-4.7l-5.4-4.8l-5-5l-5.3-6l-4.7-6l-4-6l-4.2-7l-3-6l-3.1-7l-2.8-8l-1.9-7l-1.5-7l-1-8l-0.4-8l0.2-7l0.8-8l1.2-6l1.6-5l1-2l1.9-3l1.6-1.9l1-0.9l1-0.6l2-0.8l5-0.8l9-0.3l8 0.4l9 1.1l9 1.6l9 1.9l11 2.8l13 3.9l18 6.3l12 4.8l22 9.5l15.8 6l12 4l9.8 3l38.4 10.5l11 3.8l3 1.4l2 1.4l1.2 1.9l0.6 2l0.4 4l-0.2 2l-0.6 3l-1.1 4l-1.9 5l-1.8 4l-2 4l-2.8 5l-5.4 8l-3.2 4l-3.5 4l-6.7 6.7l-7 5.9l-8 5.6l-9 5.3l-8 3.9l-8 3.2l-10 3l-9 2z"/>
<path fill="#fee4e8" d="M745 826.4l-7 0.3l-7-0.1l-8-0.6l-7-0.9l-7-1.4l-7-1.8l-6-1.9l-6-2.3l-6-2.7l-6-3l-7-4.1l-6-4.1l-5-3.8l-6-5.1l-5.6-5.5l-4.5-5l-4.1-5l-4.9-7l-4.3-7l-3.1-6l-2.7-6l-2.7-7l-1.8-6l-1.9-8l-1.1-6l-0.9-9l-0.2-8l0.5-7l1-6l1.7-6l1.2-3l1.1-2l1.3-1.9l1-1l1-0.8l2-0.9l2-0.7l3-0.6l9-0.8l8 0l9 1l10 1.5l9 1.9l11 2.8l13 3.9l18 6.3l12 4.7l22 9.6l15.8 6l18.3 6l32.9 9.4l7 2.4l11 4.6l2.8 1.6l1.2 1l0.8 1l0.9 2l0.3 3l-0.3 3l-0.5 3l-0.7 3l-1.4 4l-1.7 4l-2 4l-4.8 8l-5.9 8l-6.7 7.5l-7 6.6l-7 5.6l-8 5.4l-8 4.4l-9 4.1l-8 2.9l-10 2.8l-10 1.8z"/>
<path fill="#fedde2" d="M744 825.4l-7 0.3l-7-0.2l-7-0.5l-7-1l-7-1.4l-7-1.8l-6-1.9l-7-2.8l-7-3.2l-6-3.2l-6-3.7l-6-4.2l-5-4l-5-4.4l-5-5l-4.5-5l-4-5l-4.2-6l-3.7-6l-3.3-6l-2.8-6l-3.1-8l-1.9-6l-2-8l-1.2-7l-0.8-7l-0.1-7l0.3-6l0.8-6l1.8-7l1.7-4.4l1-1.7l1-1.1l1-0.9l2-1.1l2-0.8l3-0.8l9-1.5l4-0.2l4 0l9 0.7l10 1.5l10 2l11 2.8l13 3.9l18 6.2l12 4.8l22 9.6l13 5l18 6l33 10l5 1.7l5.5 2.3l6.1 3l3.5 2l2.3 2l0.8 1l0.9 2l0.1 2l-0.3 3l-0.6 3l-1.4 5l-1.5 4l-1.8 4l-4 7l-2.7 4l-3 4l-3.4 4l-3.7 4l-3.8 3.7l-4 3.6l-8 6.3l-6 4l-9 5.1l-8 3.7l-9 3.3l-10 2.7l-10 1.8z"/>
<path fill="#fed6dc" d="M744 824.4l-6 0.3l-7-0.1l-7-0.4l-7-1l-7-1.3l-7-1.8l-7-2.2l-5-1.9l-7-3.2l-6-3.1l-6-3.6l-5-3.3l-6-4.6l-5-4.3l-4.7-4.5l-4.6-5l-4.2-5l-5.1-7l-3.7-6l-3.3-6l-2.9-6l-2.8-7l-2.3-7l-1.8-7l-1.3-7l-0.7-7l-0.2-7l0.3-6l0.9-6l1.4-6.2l1-2.8l1-2.1l1-1.5l1-0.9l2-1.4l2-1l5-1.5l8-1.6l4-0.3l4-0.1l10 0.8l10 1.4l9 1.8l12 3.1l7 2l9 3l16 5.6l10 4.1l22 9.6l12 4.6l16 5.5l25.3 7.9l12.7 4.2l6.2 2.8l5.3 3l4.5 3l2 2l1 1.5l0.5 1.5l0 3l-0.5 3l-1.1 4l-1.4 4l-1.7 4l-2.1 4l-2.3 4l-2.7 4l-5.5 7l-6.2 6.6l-7 6.2l-7 5.4l-8 5.1l-8 4.3l-9 3.9l-9 3.1l-8 2l-9 1.6z"/>
<path fill="#fecfd6" d="M746 823.4l-6 0.5l-7 0l-5-0.2l-8-0.8l-6-1l-8-1.8l-7-2.1l-6-2.1l-5-2.1l-6-2.9l-7-3.9l-5-3.1l-7-5.1l-5-4.2l-5-4.6l-5.3-5.6l-4.2-5l-3.8-5l-4-6l-4-7l-3-6l-3.3-8l-2-6l-1.8-7l-1.3-7l-0.8-7l-0.2-7l0.3-6l1-7l1.4-5.5l1-2.4l1-1.7l2-2.2l1.6-1.2l2.4-1.3l3-1.1l4-1.1l7-1.4l6-0.4l10 0.6l10 1.3l10 2l12 3l7 2l11 3.7l14 4.9l9 3.7l21 9.2l12 4.8l15 5.2l23 7.4l15 5.1l4 1.8l4.8 2.6l5.9 4l3.4 3l1.1 2l0.6 2l0.1 2l-0.4 3l-0.8 3l-1.4 4l-1.7 4l-2 4l-4.3 7l-4.4 6l-6.3 7l-6.6 6.1l-7 5.5l-7 4.7l-7 3.9l-9 4.3l-8 3l-10 2.8l-10 2z"/>
<path fill="#fec8d0" d="M750 822.4l-6 0.6l-7 0.2l-7-0.1l-7-0.6l-6-0.8l-9-1.8l-7-1.9l-6-2.1l-5-2l-7-3.2l-7-3.8l-5-3.1l-7-5.1l-5-4l-5-4.6l-4.6-4.7l-5.1-6l-3.8-5l-4.1-6l-4-7l-3-6l-2.9-7l-2.1-6l-1.9-7l-1.3-7l-0.8-7l-0.2-7l0.3-7l0.9-6l1.4-5l1.6-3l2.6-3.1l2-1.5l2-1.1l7-2.6l6-1.4l6-0.6l10 0.5l10 1.1l10 1.9l12 3l10 3l19 6.4l11 4.4l20 8.8l12 4.9l18 6.4l21 6.9l15 5.4l4 1.8l4 2.4l4.7 3.4l3.5 3l1.5 2l0.9 2l0.5 2l0.2 2l-0.3 2l-0.7 3l-1 3l-1.7 4l-2 4l-2.4 4l-4.7 7l-6 7l-6.1 6l-6.4 5.3l-7 5l-7 4.2l-8 4l-7 2.9l-9 3l-9 2.2z"/>
<path fill="#fec1ca" d="M744 822.4l-7 0.3l-7-0.1l-7-0.6l-7-1l-6-1.2l-7-1.8l-6-1.9l-6-2.3l-6-2.7l-6-3.1l-5-3l-6-4l-5-3.7l-5-4.2l-4.9-4.7l-4.8-5l-4.9-6l-3.7-5l-3.9-6l-3.3-6l-2.9-6l-2.8-7l-2-6l-1.6-6l-1.1-6l-0.9-8l-0.3-7l0.4-7l0.7-4.6l1.4-4.4l1.6-3.1l1.6-1.9l1.4-1.4l2-1.6l2-1.2l1.5-0.8l4.5-1.8l6-1.7l3-0.5l3-0.2l10 0.2l10 1.1l9 1.6l13 3.1l9 2.7l21 7.1l10 3.9l19 8.5l12 5l18 6.4l19.7 6.6l16 6l4.2 2l3.3 2l3.9 3l3.4 3l1.5 2l1.3 2l0.8 2l0.5 3l-0.1 2l-0.3 2l-0.9 3l-1.2 3l-3.6 7l-3.1 5l-2.9 4l-5.9 7l-4 4l-3.2 3l-7.4 5.8l-7 4.7l-7 4l-9 4.1l-8 3l-10 2.8l-10 1.8z"/>
<path fill="#febac4" d="M749 821.5l-6 0.5l-7 0.2l-7-0.2l-6-0.5l-7-1l-8-1.6l-7-2l-6-2.1l-7-2.8l-5-2.4l-5-2.7l-6-3.7l-5-3.5l-5-3.8l-5.1-4.5l-5.1-5l-5.4-6l-3.9-5l-4.2-6l-3.6-6l-3.1-6l-2.7-6l-2.2-6l-2.1-7l-1.3-6l-1.2-8l-0.4-7l0.1-7l0.7-5l1.1-4l0.9-2l1.2-2l2.4-3l1.9-1.7l2-1.4l3.2-1.9l2.8-1.4l3-1.1l3-0.8l3-0.6l3-0.3l10 0.1l10 0.9l9 1.6l13 3l6 1.7l13 4.2l12 4.2l10 3.9l20 9l10 4.2l18 6.4l17.5 6l13.1 5l5.4 2.3l3.3 1.7l4.4 3l3.3 3l2.5 3l1.3 2l1.1 2l0.6 2l0.4 2l0 3l-1 4l-1.2 3l-1.9 4l-4.3 7l-2.9 4l-3.3 4l-3.6 4l-3 3l-5.7 5l-7 5.2l-8 5l-8 4.1l-8 3.4l-9 2.9l-8 1.9z"/>
<path fill="#fdb3be" d="M745 821.4l-6 0.4l-6 0l-6-0.3l-7-0.8l-6-1l-8-1.8l-7-2.1l-5-1.8l-7-3l-5-2.4l-5-2.8l-6-3.8l-6-4.3l-5-4.1l-5-4.6l-4.5-4.6l-5.1-6l-3.8-5l-4-6l-2.9-5l-3-6l-3-7l-2.3-7l-1.6-6l-1.4-7l-0.8-7l-0.3-7l0.4-6l0.8-4l1.5-3.9l2-3.3l2.6-2.8l3.9-3l3-2l2.5-1.4l3-1.2l3-0.8l5-0.8l10-0.1l10 0.8l9 1.5l13 3l6 1.7l15 4.8l11 3.8l9 3.6l20 9l9 3.8l34 12.1l10 3.9l7.9 3.3l4.2 2l4.5 3l3.3 3l4.2 6l1 2l0.7 2l0.4 2l0.1 2l-0.3 3l-0.5 2l-1.1 3l-2 4l-4.4 7l-5.5 7l-3.7 4l-3.8 3.7l-6.1 5.3l-7.9 5.6l-8 4.7l-8 3.8l-9 3.5l-9 2.6l-10 1.9z"/>
<path fill="#fdacb8" d="M737 821.4l-7-0.2l-6-0.4l-6-0.8l-6-1.1l-5-1.1l-7-2.1l-6-2.1l-6-2.6l-6-2.9l-6-3.4l-5-3.2l-5-3.6l-5-4l-5-4.5l-4-4l-4.4-5l-4-5l-4.1-6l-3.7-6l-3.1-6l-2.6-6l-2.5-7l-2-7l-1.3-6l-1-7l-0.3-6l0.1-5l0.8-5l1.1-3.6l2-3.8l2.1-2.6l3.1-3l5.5-4l3.6-2l2.7-1l3-0.8l5-0.5l10-0.1l9 0.8l9 1.5l13 3l21 6.5l11 3.8l9 3.7l19 8.6l9 3.8l32.5 11.7l7.7 3l9.4 4l5.4 2.6l3.7 2.4l2.3 2l0.9 1l1.5 2l2.5 4l1.5 3l0.7 2l0.4 2l0.1 3l-0.3 3l-0.6 2l-0.7 2l-1.9 4l-2.5 4l-2.8 4l-5.9 7l-3.9 4l-4 3.6l-4 3.3l-4 3l-7.8 5.1l-8.2 4.3l-9 3.8l-5 1.7l-5 1.4l-9 2l-9 1.3z"/>
<path fill="#fda1af" d="M747 820.4l-7 0.5l-7 0.1l-6-0.3l-7-0.8l-6-1l-6-1.3l-6-1.7l-7-2.4l-6-2.4l-6-2.9l-6-3.3l-5-3.2l-6-4.3l-5-4l-5-4.6l-4.3-4.4l-4.4-5l-4.6-6l-4-6l-3.4-6l-2.9-6l-2.9-7l-2-6l-1.9-7l-1.1-6l-0.7-6l-0.1-6l0.4-5l1-4l1.9-4.5l2.5-3.5l2.9-3l4.8-4l4.8-3l4-1.5l5-0.8l10-0.3l5 0.2l5 0.5l9 1.4l12 2.7l6 1.7l18 5.7l13 4.7l32 14.2l33 12l10 4.1l11.6 5.4l3.2 2l2.4 2l1.6 2l1.9 3l2.2 4l1.2 3l0.6 2l0.3 2l0 2l-0.3 3l-0.8 3l-0.7 2l-1.5 3l-1.8 3l-2.8 4l-2.4 3l-5.4 6l-7.3 6.7l-8 6l-7 4.4l-8 4.1l-8 3.4l-9 2.9l-9 2.1z"/>
<path fill="#fd93a3" d="M749 819.4l-6 0.6l-7 0.2l-7-0.2l-7-0.6l-6-0.9l-7-1.4l-7-1.9l-6-2.1l-6-2.4l-6-2.8l-6-3.3l-6-3.8l-6-4.4l-4.9-4l-4.4-4l-4.7-4.9l-5.2-6.1l-4.4-6l-3.8-6l-3.3-6l-2.8-6l-2.7-7l-2.2-7l-1.5-7l-0.8-6l-0.2-5l0.4-5l0.9-4l1.6-4l2-3.6l2.8-3.4l3.9-4l4.3-3.6l2.4-1.4l2.6-1.3l4-0.9l6-0.6l9-0.1l8 0.6l8 1.3l12 2.6l24 7.4l13 4.7l31 13.9l30.5 11.4l8.5 3.5l7.5 3.5l6.5 3.4l2.5 1.6l2 2l1.6 2l1.8 3l2.4 6l1.3 5l0.2 2l-0.1 3l-0.6 3l-0.6 2l-0.8 2l-1.5 3l-3.3 5l-5.1 6l-6.1 6l-7.7 6.1l-8 5.3l-8 4.4l-9 3.9l-8 2.6l-9 2.3z"/>
<path fill="#fd8597" d="M740 819.4l-6 0.1l-7-0.3l-7-0.8l-6-1l-6-1.3l-7-2l-6-2.1l-6-2.6l-6-2.9l-6-3.4l-5-3.2l-5-3.7l-5-4l-5-4.6l-4-4.2l-4.4-5l-3.8-5l-4-6l-4.1-7l-2.9-6l-2.8-7l-1.9-6l-1.2-5l-1-6l-0.2-5l0.3-5l0.8-4l1.3-4l2.1-4l2.8-4l3.3-4l3.7-3.6l4-2.7l2-0.9l2.4-0.8l5.6-1l8-0.4l7 0.2l7 0.8l11 2.1l8 1.9l21 6.4l10 3.5l8 3.4l25 11.5l34 13l9 4.2l8.1 4.4l2.9 2l2.9 3l1.3 2l1.5 3l1.1 3l0.8 3l0.6 3l0.4 3l0 3l-0.4 3l-0.6 2l-1.1 3l-2.6 5l-3.7 5l-5.7 6l-7 6l-7.5 5.2l-7 4.1l-9 4.3l-8 3l-6 1.8l-5 1.2l-5 0.9l-5 0.8z"/>
<path fill="#fc778b" d="M744 818.4l-7 0.4l-7-0.1l-7-0.6l-7-1l-6-1.2l-7-1.9l-6-2l-5-2l-7-3.3l-5-2.7l-5-3l-6-4.1l-5-4l-5-4.4l-4.1-4.1l-4.5-5l-4-5l-4.2-6l-3.5-6l-3.1-6l-2.6-6l-2-6l-1.6-6l-0.7-5l-0.3-5l0.3-5l0.8-4l1.3-4l1.8-4l3.1-5l3-4l3.3-3.4l2-1.6l2-1.3l2-0.9l2-0.7l7-1.5l6-0.5l7 0l7 0.7l13 2.5l6 1.4l22 6.7l10 3.5l8 3.4l23 10.8l14 5.3l19 7.6l6.4 3l7.4 4l5.7 4l2.5 2.4l1.8 2.6l1.1 2l0.7 2l0.9 3l0.9 7l0.1 3l-0.2 3l-0.4 2l-0.8 3l-2.3 5l-3.3 5l-4.3 5l-3.2 3l-3.6 3l-6.8 5l-7.6 4.5l-8 3.9l-8 3.1l-10 2.9l-9 1.7z"/>
<path fill="#fc697f" d="M748 817.4l-7 0.6l-7 0.1l-7-0.3l-6-0.6l-7-1.1l-6-1.4l-6-1.7l-6-2.1l-5-2l-6-2.9l-6-3.3l-6-3.8l-5-3.6l-5-4.1l-5.2-4.8l-4.8-5l-4.2-5l-4.4-6l-3.4-5.3l-3.1-5.7l-2.9-6.3l-2-5.3l-1.7-6.4l-0.6-4l-0.5-5l0.2-5l0.5-4l1.1-4.1l2-4.9l3.2-6l2.8-4l3-3.4l3.6-2.6l3.4-1.6l7-1.9l4-0.7l3-0.3l7 0l6 0.6l13 2.3l6 1.5l22 6.5l10 3.5l8 3.5l23 10.8l13 5l18 7.3l5.3 2.5l5.5 3l5.8 4l4.7 4l1.7 2l1.1 2l0.9 2l0.8 3l0.5 3l0.2 3l0.1 4l-0.2 3l-1 5l-1.9 5l-3 5l-4 5l-5.3 5l-6.6 5l-6.6 4.1l-7.5 3.9l-7.5 3.1l-8 2.6l-8 1.9z"/>
<path fill="#fc5b72" d="M741 817.4l-6 0.2l-7-0.3l-6-0.6l-6-0.9l-6-1.2l-6-1.6l-6-2l-6-2.3l-6-2.8l-6-3.3l-5-3l-5-3.5l-5-3.9l-5-4.5l-4.3-4.3l-4.5-5l-3.9-5l-3.4-5l-3-5l-2.9-5.6l-2-4.7l-1.9-5.7l-1.1-5l-0.7-5l-0.2-5l0.3-4l0.7-4l1.5-5l2-5l2.5-5l2.8-4l3.1-3.3l2-1.5l2-1.1l5-1.8l7-1.7l7-0.8l6 0.2l6 0.8l11 2l6 1.5l21 6.2l10 3.5l9 3.8l21 10.1l13.2 5.1l17.8 7.5l5.2 2.5l5.8 3.6l5.7 4.4l4.3 4l1.4 2l1 2l0.7 2l0.7 3l0.2 3l0 3l-0.3 4l-0.5 4l-1.4 5l-2.3 5l-3.4 5l-4.5 5l-5.7 5l-5.8 4l-7.1 4l-4.2 2l-4.7 2l-8.1 2.7l-8 2.1l-9 1.5z"/>
<path fill="#fb4d66" d="M746 816.4l-6 0.5l-7 0.1l-6-0.3l-6-0.6l-7-1.2l-6-1.4l-6-1.7l-6-2.1l-6-2.5l-5.7-2.8l-5.3-3l-6-3.9l-5.5-4.1l-4.8-4l-4.2-4l-4.5-4.7l-4.3-5.3l-3.7-5.1l-3-4.9l-3-5.6l-2-4.7l-1.9-5.7l-1.1-4.5l-0.7-4.5l-0.3-5l0.3-5l0.9-5l1.4-5l1.8-5l2.5-5l2.1-3.2l3-3.2l2-1.5l2-1l4-1.6l4-1.3l7-1.4l7-0.5l4 0.2l4 0.5l12 2.1l5 1.3l19 5.5l8 2.6l7 2.7l8 3.6l18 8.8l13.8 5.4l18.4 8l5.2 3l4.4 3l4.8 4l4.1 4l1.3 1.6l1 1.9l1 2.5l0.4 2l0.3 5l-0.2 3l-0.6 4l-1.4 6l-2 5l-2.9 5l-4.1 5l-5.3 5l-5.3 4l-6.6 4l-6.2 3l-7.7 3l-7.4 2.2l-8.2 1.8z"/>
<path fill="#fb3f5a" d="M738 816.4l-6 0l-6-0.4l-5.9-0.6l-5.9-1l-6.2-1.4l-5.5-1.6l-5.5-1.9l-6-2.5l-5.5-2.6l-5.4-3l-4.8-3l-5.3-3.8l-4-3.2l-4.5-4l-4.1-4l-4.4-5l-3.9-5l-3.1-4.7l-3-5.3l-1.9-4l-1.9-5l-1.3-4l-1.1-5l-0.6-5l-0.2-4l0.4-5l1-6l1.3-5l1.4-4l1.9-4.1l2.7-3.9l2.3-2.5l2-1.5l3-1.5l4-1.6l4-1.3l3-0.7l4-0.7l4-0.4l3 0l5 0.4l4 0.5l10 1.8l25 7.1l7 2.3l7 2.8l7.2 3.3l16.8 8.2l14.4 5.8l11.4 5l5.2 2.5l5 2.9l5.1 3.6l4.6 4l4.7 5l1.3 2l0.9 2l0.8 4l0.1 3l-0.2 3l-1.2 6l-2.3 7l-2.4 5l-3.5 5l-4.6 5l-3.5 3l-2.6 2l-6.1 4l-5.7 3l-7.3 3l-6.1 2l-9 2.1l-8 1.2z"/>
<path fill="#fb314e" d="M744 815.4l-7 0.4l-6 0l-6-0.4l-6-0.8l-6-1l-5-1.2l-6.8-2l-5.5-2l-4.7-2l-6.2-3l-5.2-3l-4.7-3l-4.2-3l-4.9-4l-4.4-4l-4.8-5l-3.4-4l-3.2-4.3l-2.9-4.7l-2.7-5l-2.3-5l-1.7-5l-1.3-5l-0.7-4l-0.3-5l0.2-6l0.7-6l1.1-5l1.6-5l1.9-4l2-3l2.4-2.6l2-1.4l1.8-1l6.2-2.8l6-1.8l6-0.9l5-0.1l7 0.5l8 1.1l7 1.6l22 6.3l8.8 3.1l9.2 4l18.2 9l14.9 6l13.9 6.6l6 3.4l3 2.1l3.6 2.9l5.1 5l3.3 4l1.5 3l0.5 2l0.4 3l-0.4 5l-1.4 6l-2.7 7l-1.5 3l-1.8 3l-3.8 5l-2.9 3l-2.2 2l-5.2 4l-6.5 4l-6.2 3l-8.1 3l-7.4 2l-5.3 1z"/>
<path fill="#fb2342" d="M747 814.4l-6 0.6l-6 0.2l-6-0.1l-6-0.5l-7-1l-5.6-1.2l-3.9-1l-6.4-2l-5.3-2l-4.6-2l-5.9-3l-5.2-3l-5.9-4l-3.9-3l-4.7-4l-4.1-4l-3.6-4l-3.9-5l-3-4.4l-2.7-4.6l-2.4-5l-1.9-4.8l-1.2-4.2l-1.1-5l-0.6-5l-0.1-6l0.5-6l0.7-5l1.3-5l1.5-3.8l2-3.5l2.3-2.7l1.7-1.5l2.6-1.5l6.2-3l5.2-1.7l6-1.2l5-0.2l6 0.3l11 1.4l5.8 1.4l23.2 6.6l7 2.5l6.7 2.9l19.3 9.6l14 5.8l15.5 7.6l4.5 2.6l3.4 2.4l3.5 3l3.1 3l3.4 4l2.6 4l0.7 2l0.4 2l0.1 4l-0.8 5l-2.1 6l-3.4 7l-1.8 3l-2.2 3l-4.5 5l-4.6 4l-5.9 4l-5.4 3l-7 3l-5.8 2l-8.1 2z"/>
<path fill="#fa1536" d="M738 814.4l-6 0.1l-5-0.2l-8-0.9l-5-0.9l-8.7-2.1l-6.1-2l-5.1-2l-4.4-2l-5.8-3l-5-3l-4.4-3l-3.9-3l-4.6-4l-4-3.9l-3-3.3l-3.1-3.8l-2.9-4l-3-4.8l-2.2-4.2l-1.7-4l-1.8-5l-1-4l-0.9-5l-0.4-5l-0.1-6l0.3-5l0.8-5l1.1-4l1.6-4l1.8-3l2.5-2.8l5-3.2l3-1.6l3.4-1.4l3.6-1.2l3-0.7l3-0.5l3-0.2l7 0.3l12 1.4l22 5.8l9 2.8l8.3 3.3l7.7 3.6l13 6.8l14 5.9l11.4 5.7l5.6 3l4.6 3l3.6 3l4 4l3.8 5l1.3 2l1.1 2l0.5 2l0.3 2l-0.2 4l-0.6 3l-0.9 3l-2.7 6l-2.3 4l-1.9 3l-2.2 3l-2.6 3l-4.2 4l-5.2 4l-6.8 4l-6.6 3l-5.6 2l-7.6 2l-7.8 1.3z"/>
<path fill="#fa0a2d" d="M739 813.4l-5 0.2l-6-0.1l-5-0.4l-5.3-0.7l-5.3-1l-4.4-1.1l-6.4-1.9l-5.4-2l-4.6-2l-5.9-3l-5.1-3l-4.5-3l-4-3l-3.5-3l-4.2-4l-3.4-3.6l-2.8-3.4l-3.2-4.3l-2.9-4.7l-2.1-4l-1.8-4l-1.8-5l-1.1-4l-0.9-5l-0.7-6l-0.2-5l0.2-5l0.8-5l1-4l1.5-3.6l2-3.2l2-2l5-3.5l5-2.6l5-1.8l5-1l5-0.3l6 0.2l10 1.1l5 1.1l9 2.6l15.5 4l5.5 1.9l5.1 2.1l6.3 3l13.6 7.2l14 6l15 7.8l3.3 2l2.9 2l3.5 3l2.9 3l3.8 5l2.8 5l0.8 3l0 4l-0.3 2l-0.8 3l-1.2 3l-1.4 3l-3.7 6l-4.6 6l-4 4l-5 4.2l-5.7 3.8l-5.9 3l-7.4 2.9l-7 1.9l-7 1.4z"/>
<path fill="#fb061b" d="M744 812.5l-6 0.5l-5 0.2l-6-0.2l-6-0.6l-6-0.9l-5.1-1.1l-3.9-1.1l-6-1.9l-5.1-2l-4.9-2.2l-5.2-2.8l-4.9-3l-4.4-3l-3.8-3l-3.5-3l-4.1-4l-3.5-4l-3.2-4l-3.3-5l-2.3-4l-1.9-4l-2-5l-1.2-4l-1.1-5l-0.9-6l-0.4-5l0-5l0.4-4l0.8-4l1.3-4l1.5-3l2.3-3l4.4-3.5l5-2.9l5-2.1l5-1.3l5-0.5l5 0.1l11 1l5 0.9l10 2.9l15 3.9l6 2l5.9 2.5l6.1 3l12 6.4l15 6.5l13.5 7.1l3.4 2l3 2l2.4 2l3.1 3l3.4 4l3.2 5l1.4 3l0.6 2l0.1 2l-0.1 2l-0.5 3l-1.7 5l-2.8 5.2l-3.9 5.8l-4.3 5l-4.8 4.6l-5 3.7l-6 3.7l-6.6 3l-5.6 2l-7.8 1.9z"/>
<path fill="#fc030d" d="M742 812.4l-5 0.4l-5 0.1l-6-0.3l-5-0.5l-5.1-0.7l-4.9-1l-6-1.6l-5-1.7l-5-1.9l-5.9-2.8l-3.8-2l-4.9-3l-4.4-3l-3.8-3l-4.6-4l-3.6-3.6l-3.8-4.4l-3-4l-2.7-4l-2.2-4l-1.9-4l-2-5l-1.2-4l-1.2-5l-0.8-5l-0.5-6l0.1-5l0.4-4l0.8-4l1.3-4l1.7-3.2l2-2.4l4.4-3.4l4.6-2.8l5-2.2l5-1.3l5-0.5l5 0l11 1l5 0.9l10 2.9l15 3.8l6 2.1l5.1 2.1l5.9 2.9l13.5 7.1l14.5 6.3l12.6 6.7l3.5 2l3 2l2.5 2l3.1 3l4.1 5l3 5l1.3 3l0.4 2l0 2l-0.5 4l-1.8 5l-2.6 5l-4.1 6l-4.5 5.1l-5 4.6l-5.7 4.3l-5.2 3l-6.7 3l-5.9 2l-8.3 2z"/>
<path fill="#fe0000" d="M738 812.4l-5 0.2l-6-0.2l-5-0.4l-5-0.7l-4.7-0.9l-5.3-1.3l-5.4-1.7l-5.3-2l-4.6-2l-5.7-2.9l-8.1-5.1l-4-3l-3.6-3l-3.3-3l-3.8-4l-3.3-4l-3-4l-2.5-4l-2.1-4l-1.9-4l-1.8-5l-1.2-4l-1.1-5l-0.7-5l-0.4-5l0-5l0.4-4l0.9-4l1.4-4l1.7-3l1.7-2l4.7-3.8l5-2.9l5-2.1l5-1.2l5-0.4l5 0.1l11 1l5 1l9 2.6l16 4.2l5 1.8l6 2.5l18 9.4l15 6.5l12 6.4l4 2.4l3 2l3 2.5l2.9 3l3.8 5l2.8 5l1.2 3l0.2 2l0 2l-0.3 2l-0.8 3l-2 5l-3 5l-4.8 6.1l-4.6 4.9l-4.7 4l-5.9 4l-5.7 3l-7.1 2.8l-7 2l-7 1.4z"/>
<path fill="#fe1900" d="M740 798.4l-3 0.5l-4 0.2l-5 0.1l-5-0.3l-7-1l-8-2l-8-3l-4-1.9l-4-2.2l-6-3.9l-5-4l-3-2.9l-3.4-3.6l-3.2-4l-4-6l-2.9-6l-1.1-3l-1-4l-0.3-3l0-2l0.5-3l0.8-3l1.1-3l2.1-4l3.2-4l2.2-2l3-2l3-1.2l3-0.7l6-0.4l10 0.3l4 0.5l4 1l9 2.9l11 4.1l21 9l6 3.2l10 6.7l3 2.2l2.8 2.4l2.6 3l1.7 3l1.2 3l0.8 4l0.2 4l-0.5 4l-1.1 4l-1 2l-2.5 3l-3.2 2.8l-4 2.8l-4 2.1l-4 1.8l-6 2l-5 1.1z"/>
<path fill="#fe2800" d="M734 798.4l-7 0.1l-8-0.7l-5-1l-4-1l-8-2.7l-7-3.3l-5-3l-3-2l-6-4.8l-5.6-5.6l-4.6-6l-2-3l-2.1-4l-1.3-3l-1.1-3l-0.7-3l-0.4-3l0-2l0.5-3l0.7-3l1-3l1.5-3l1.2-2l1.9-2.6l2-1.9l3-2.2l2-1l3-0.9l4-0.6l5-0.1l9 0.2l4 0.7l4 1l9 3l8 2.9l12 5l11 4.8l4.8 2.7l11.2 7.6l4 3.2l2.2 2.2l2.1 3l1.4 3l0.8 3l0.4 4l-0.2 4l-0.9 4l-1 3l-2 3l-3.1 3l-3.7 2.6l-3 1.8l-5 2.3l-5 1.7l-4 1.1l-5 0.9z"/>
<path fill="#fe3600" d="M737 797.4l-4 0.4l-4 0l-8-0.5l-8-1.5l-7-2l-7-2.8l-4-2l-4-2.4l-4-2.7l-3-2.3l-5.7-5.2l-2.7-3l-2.4-3l-4-6l-1.5-3l-1.3-3l-1-3l-0.7-3l-0.2-2l0.2-3l0.7-4l0.9-3l1.2-3l1-2l1.5-2.3l2-2.3l2-1.8l3-1.8l3-1.1l3-0.5l5-0.4l10 0.2l4 0.6l4 1l9 2.9l8 3l12 4.9l9 4l5 2.7l9 6l4 2.9l3.5 3l1.8 2l1.9 3l1.2 3l0.9 4l0 4l-0.6 4l-1.3 4l-1.5 3l-2.7 3l-2.5 2l-3.7 2.3l-4 2.1l-5 1.9l-4 1.1l-5 1.1z"/>
<path fill="#fe4400" d="M739 796.5l-7 0.6l-8-0.2l-8-1.1l-8-2l-8-3.1l-7-3.7l-3-1.9l-4-2.8l-3-2.5l-3-2.7l-2.6-2.7l-2.5-3l-2.2-3l-2-3l-1.6-3l-1.4-3l-1-3l-0.7-3l-0.1-3l0.2-3l0.5-3l0.8-3l1.1-3l1-2l1.5-2.4l2-2.3l2-1.7l3-1.8l3-1l3-0.6l5-0.2l10 0.2l3 0.4l4 0.9l7 2.2l10 3.7l13 5.3l8 3.7l4 2.2l9 6.1l4 2.9l2.8 2.4l2.2 2.4l1.7 2.6l1.2 3l0.9 4l0.1 3l-0.6 4l-1.2 4l-1.9 4l-1.6 2l-2.6 2.2l-3 2.1l-4 2.1l-4 1.7l-4 1.3l-4 1z"/>
<path fill="#fe5200" d="M740 795.4l-4 0.5l-4 0.3l-8-0.2l-8-1.1l-7-1.7l-7-2.6l-4-1.8l-4-2.2l-6-3.9l-6-4.9l-5.1-5.4l-2.3-3l-2.1-3l-1.7-3l-1.4-3l-1-3l-0.5-2l-0.3-3l0.1-3l0.3-3l0.6-3l1-3l0.8-2l1.6-2.8l1.8-2.2l2.2-2l3-1.9l3-1l3-0.5l5-0.3l9 0.2l3 0.3l4 0.9l7 2.1l10 3.7l12 4.9l7 3.2l5 2.9l10 6.8l4.7 3.7l2.3 2.5l1.8 2.5l1.3 3l0.8 4l0 3l-0.6 4l-0.9 3l-1.8 4l-1.3 2l-1.9 2l-2.6 2l-3.3 2l-3.5 1.6l-4 1.5l-4 1.1z"/>
<path fill="#fe6200" d="M731 795.4l-8-0.3l-7-1l-4-0.9l-4-1.2l-6-2.2l-7-3.5l-6-3.9l-5-4l-5-5l-4-5l-3-5l-2-5l-0.7-4l-0.1-3l0.2-3l0.4-3l0.8-3l1.2-3l1.1-2l1.4-2l1.9-2l2.7-2l2.1-1l3-0.8l3-0.4l5-0.1l9 0.3l4 0.6l4 1l8 2.7l8 3l10 4.2l6 2.8l4 2.3l10 6.9l4 3l2.6 2.5l1.7 2l1.6 3l0.9 3l0.4 4l-0.5 4l-0.9 3l-1.3 3l-2.4 4l-1.9 2l-2.6 2l-3.5 2l-4.1 1.7l-4 1.3l-5 1.1l-4 0.6z"/>
<path fill="#fe6f00" d="M733 794.4l-7 0.1l-7-0.7l-7-1.5l-7-2.2l-7-3.1l-6-3.6l-5.5-4l-5.3-5l-4.2-5l-3.1-5l-1.4-3l-0.7-2l-0.6-4l-0.2-3l0.1-3l0.3-3l0.7-3l1.2-3l1.1-2l1.4-2l1.2-1.4l2-1.6l3-1.6l3-0.8l3-0.3l5-0.2l9 0.3l3 0.5l4 0.9l7 2.3l9 3.3l9 3.8l5.8 2.8l3.5 2l10.1 7l3.6 2.7l2.5 2.3l1.7 2l1.7 3l1 3l0.4 4l-0.6 4l-0.9 3l-1.5 3l-1.9 3l-1.6 2l-2.2 2l-3.2 2l-3.4 1.5l-4 1.4l-4 1l-4 0.7z"/>
<path fill="#fe7d00" d="M733 793.4l-7 0.1l-7-0.7l-6-1.2l-7-2.1l-7-3.1l-6-3.4l-6-4.5l-4.4-4.1l-4.1-5l-3.1-5l-1.5-4l-0.8-5l-0.2-3l0.1-3l0.4-3l0.5-2l1.6-4l1.2-2l1.7-2l2.6-2l2-1l3-0.8l3-0.4l5-0.1l9 0.4l4 0.6l4 1l6 2l8 3l7.8 3.3l5.2 2.5l3 1.7l11 7.6l3 2.3l3 2.8l1.7 2.1l1.5 3l0.8 3l0.1 3l-0.3 3l-0.9 3l-1.4 3l-2 3l-3.5 4l-2.9 2l-2.1 1.1l-3 1.2l-4 1.2l-4 0.9z"/>
<path fill="#fe8b00" d="M732 792.4l-6 0.1l-7-0.6l-7-1.5l-6-1.9l-6-2.6l-6-3.4l-5.5-4.1l-4.4-4l-4.1-5l-2.4-4l-0.9-2l-0.9-3l-0.9-5l-0.1-5l0.3-3l0.5-2l0.6-2l1-2l1.2-2l1.6-1.8l2-1.6l2-1l3-0.8l4-0.5l6 0l8 0.5l3 0.5l4 1l6 2l7 2.6l6 2.6l5.2 2.5l3.3 2l10.3 7l3.8 3l2.2 2l1.7 2l1.5 2.9l0.7 2.1l0.4 3l-0.3 3l-0.8 3l-1.3 3l-1.7 2.5l-2 2.5l-3 2.9l-1.4 1.1l-2.6 1.4l-3.9 1.6l-3.1 0.8l-4 0.8z"/>
<path fill="#fe9900" d="M728 791.4l-6-0.3l-6-0.9l-6-1.5l-6.3-2.3l-5.7-2.8l-5-3.2l-5-4l-3.8-4l-2.9-4l-2-4l-1.6-5l-0.8-5l0.1-5l0.9-4l0.8-2l1.1-2l2.2-2.6l2-1.4l2.6-1l3.4-0.7l3-0.2l6 0.1l8 0.6l3 0.6l4 1l5 1.7l6 2.3l5.9 2.6l3.9 2l13.5 9l3.7 3l2 2l2 2.7l1 2.3l0.5 2l0.1 3l-0.5 3l-1.1 2.9l-1.7 3.1l-1.6 2l-1.9 2l-2.8 2.4l-2.3 1.6l-2.7 1.3l-3 1l-4 1l-4 0.5z"/>
<path fill="#fea800" d="M735 789.4l-6 0.7l-6-0.1l-6-0.7l-6-1.5l-6-2.1l-5-2.3l-4.9-3l-5.1-4l-3.8-4l-2.8-4l-2.3-5l-1.5-5l-0.7-5l0.1-3l0.3-2l0.5-2l0.9-2l2-3l2.3-2l2-1l3-0.8l3-0.3l5 0l6 0.4l6 0.8l4 0.9l8.8 3l4.7 2l4 2l12.5 8l4 2.9l2.4 2.1l1.9 2l1.4 2l0.9 2l0.5 2l0.2 2l-0.2 2l-0.8 3l-0.9 2l-1.2 2l-1.6 2l-1.9 2l-2.7 2.1l-2 1.3l-3 1.7l-2.2 0.9z"/>
<path fill="#feb600" d="M729 788.5l-5 0.1l-5-0.4l-5-1l-6.2-1.8l-4.8-2.1l-5.2-2.9l-4.1-3l-3.2-3l-3.2-4l-2.5-4l-2.1-5l-1-4l-0.4-3l0-2l0.5-4l1.2-3.1l1-1.6l1.3-1.3l1.7-1.3l3-1.2l3-0.5l3-0.2l5 0.2l5 0.5l6 1l4 1l7.1 2.5l4.4 2l3.5 1.9l6 3.6l5.3 3.5l3.7 2.8l2.5 2.2l1.7 2l1.3 2l0.7 2l0.3 2l0 2l-0.7 3l-0.8 2l-1.3 2l-1.6 2l-2.1 2l-2.6 2l-2.4 1.4l-3 1.4l-3 1.1l-3 0.7z"/>
<path fill="#fec400" d="M728 786.4l-4 0.3l-5-0.2l-5-0.9l-4.2-1.2l-4.9-2l-3.9-2.1l-4.2-2.9l-3.8-3.5l-3-3.5l-2.6-4l-1.9-4l-1.2-4l-0.6-4l0.3-4l1-3.1l1-1.7l1.1-1.2l1.9-1.4l2-0.9l3-0.6l3-0.2l4 0.1l5 0.5l5 0.9l5 1.2l4 1.3l4 1.7l8 4.1l8.4 5.3l3.6 2.8l2.4 2.2l2.2 3l0.8 2l0.3 2l-0.1 2l-0.4 2l-0.8 2l-1.2 2l-1.7 2l-2.2 2l-2.3 1.6l-2 1.1l-5 2l-3 0.8z"/>
<path fill="#fed200" d="M730 783.5l-4 0.6l-4 0.2l-5-0.5l-4-0.8l-5-1.7l-4-1.9l-4-2.5l-3.1-2.5l-3-3l-3.1-4l-2.2-4l-1.4-4l-0.7-4l0.1-3l0.9-3l1.5-2.6l1.8-1.4l2.2-1l2-0.5l3-0.3l3 0l4 0.4l4 0.6l4 0.9l7 2.2l4 1.6l4 2l8 4.6l3.5 2.5l2.4 2l2.8 3l1.1 2l0.4 1l0.3 3l-0.3 2l-0.8 2l-2 3l-1.4 1.3l-2 1.7l-2 1.2l-3 1.4z"/>
<path fill="#fee000" d="M727 781.4l-3 0.3l-4 0l-4-0.5l-4-1l-4-1.5l-3-1.5l-4-2.6l-3-2.5l-2.6-2.7l-2.4-3.2l-2-3.8l-1-3l-0.5-3l0.2-3l0.3-1.6l0.6-1.4l1.4-1.9l1.7-1.1l1.3-0.6l2-0.5l3-0.3l3 0.1l4 0.4l7 1.5l7 2.4l7 3.3l6.3 3.7l2.7 2l2.4 2l2.5 3l0.9 2l0.2 1l0.1 2l-0.2 1l-0.7 2l-0.6 1l-1.5 2l-1.1 1l-3 2.1l-4 1.7z"/>
<path fill="#feee00" d="M727 778.5l-3 0.4l-3 0l-4-0.4l-3-0.6l-4-1.3l-3-1.4l-3-1.8l-2.7-2l-2.3-2.2l-2.3-2.8l-1.8-3l-1.3-3l-0.5-3l0-2l0.5-2l1.1-2l1.2-1l1.1-0.6l2-0.6l2-0.3l5 0.1l5 0.8l6 1.7l6 2.4l6 3.1l5 3.4l3 2.9l1.4 2.1l0.6 2l-0.1 2l-0.2 1l-0.7 1.4l-1 1.4l-2.3 2.2l-1.7 1l-2 0.9z"/>
<path fill="#fefa00" d="M725 775.4l-2 0.3l-3 0l-3-0.3l-2-0.4l-2.3-0.6l-2.7-1.1l-3-1.6l-2-1.3l-2.3-2l-1.9-2l-1.4-2l-1.1-2l-0.7-2l-0.3-2l0.1-2l0.9-2l0.7-0.8l1-0.6l1.8-0.6l1.2-0.3l4 0l4 0.5l5 1.4l5 1.9l5 2.5l4 2.7l2.4 2.3l1.4 2l0.5 2l-0.3 2l-1.2 2l-0.9 1l-1.4 1l-2.5 1.2z"/>
<path fill="#f5f3ff" d="M847 725.4l-5 0.1l-7-0.2l-6-0.5l-6-0.8l-8-1.3l-9-1.8l-9-2.1l-8-2l-14-4.2l-17-5.9l-12-4.8l-24.5-10.5l-10.5-4l-11.5-4l-12.9-4l-10.8-3l-11.8-3l-24-5.6l-8-2.1l-4-1.3l-2-1l-1-1.2l-1.1-2.8l-0.4-3l0.2-3l0.7-4l1.2-4l1.7-5l2.1-5l2-4l2.9-5l3.3-5l2.9-4l4.1-5l3.7-4l4.7-4.8l4-3.5l5-4.1l4-2.9l5-3.4l5-3l5-2.7l5-2.4l6-2.5l9-3.2l7-1.9l5-1.1l6-1.1l7-0.8l5-0.4l6-0.1l6 0.1l6 0.4l7 0.8l6 1l5 1.1l7 1.9l9 3.1l5 2.1l6 2.8l6 3.2l5 3.1l7 4.7l4 3.1l8 7l7.4 7.5l4.2 5l3.8 5l4.1 6l3.1 5l3.2 6l2.8 6l2.9 7l2 6l1.9 7l1.1 5l1.1 7l0.7 7l0.2 6l-0.2 6l-0.6 6l-1.1 6l-1.3 5l-2.1 5l-1.2 2l-1.7 2l-2.3 1.9l-2 0.7z"/>
<path fill="#eeecff" d="M837 723.4l-6-0.1l-5-0.3l-14-2l-7-1.3l-8-1.8l-15-4l-13-4.1l-14-5l-12-4.8l-20-8.7l-9.9-3.9l-8.3-3l-12.1-4l-10-3l-14.7-4.1l-22.7-5.9l-12.3-4.2l-3-1.3l-2-1.4l-0.8-1.1l-0.6-2l-0.3-4l0.3-3l1-4l1.8-5l2.1-5l2.1-4l2.8-5l3.9-6l6.1-8l3.6-4l4-4l4-3.8l4-3.3l4-3.1l5-3.4l5-3.1l5-2.8l6-2.9l5-2.1l5-1.9l6-1.9l10-2.5l5-0.9l7-0.9l7-0.5l5-0.2l6 0.2l6 0.3l10 1.4l5 1l8 2l6 1.9l5 1.8l5 2.1l6 2.9l6 3.3l5 3l6 4.2l5 3.8l5 4.3l4.3 4.1l3.8 4l4.4 5l3.9 5l4.1 6l3.1 5l2.7 5l3 6l2.5 6l2.7 8l1.9 7l1.4 7l0.9 7l0.5 8l-0.1 6l-0.4 7l-1.1 7l-1.4 5l-1.3 3l-1.9 3.2l-2 2.2l-2 1l-3 0.8l-4 0.5z"/>
<path fill="#e8e4ff" d="M838 721.5l-5 0.3l-6-0.1l-7-0.7l-7-0.9l-8-1.4l-7-1.4l-17-4.4l-15-4.9l-12-4.3l-10-4l-23.9-10.3l-15.9-6l-18.6-6l-34.6-9.9l-8-2.7l-5.8-2.4l-4.1-2l-2.8-2l-1.3-1.5l-0.5-1.5l-0.1-1l0-3l1-5l2-6l2.2-5l2-4l3-5l2.7-4l3-4l4.1-5l3.7-4l4.9-4.9l4-3.6l5-4l4-2.8l5-3.3l9-5l6-2.8l5-2l10-3.3l7-1.7l5-1l6-0.8l5-0.6l11-0.3l11 0.6l7 0.9l5 0.9l10 2.4l6 2l5 1.8l5 2.1l6 2.9l5 2.8l5 3l5 3.4l5 3.8l5 4.2l5 4.7l4.4 4.6l4.3 5l3.9 5l2.8 4l3.1 5l2.8 5l3 6l2.6 6l2.8 8l2 7l1.6 8l0.9 6l0.5 6l0.2 7l-0.3 6l-0.8 6l-1.2 5l-1.3 4l-1.5 3l-1.8 2.2l-2 1.3l-3 1.1l-4 0.8z"/>
<path fill="#e2ddff" d="M830 720.4l-5-0.1l-6-0.5l-7-0.9l-7-1.1l-13-2.8l-14-3.8l-16-5.3l-11-4l-10-4.1l-19.2-8.4l-15.5-6l-18.3-6.1l-36-10.8l-6-2.2l-6.1-2.9l-5.3-3l-2.5-2l-1.4-2l-0.4-1l-0.3-1.9l0.5-3.1l1.3-5l2.2-6l1.8-4l2.8-5l3.2-5l2.9-4l3.2-4l3.6-4l3.5-3.7l4-3.7l5-4.2l4-3l9-5.9l4-2.3l6-3l6-2.7l5-1.9l10-3l5-1.2l6-1.1l6-0.8l5-0.4l6-0.3l5 0l6 0.3l5 0.5l6 0.9l5 0.9l5 1.2l6 1.7l6 2.1l5 2l5 2.2l6 3.1l5 2.9l6 3.9l5 3.7l5 4l5 4.6l4.1 4.2l3.6 4l4.1 5l2.9 4l4 6l4 7l2.9 6l3 7l1.7 5l2.1 7l1.4 6l1.3 8l0.6 7l0.1 7l-0.4 6l-1 6l-1.5 6l-1.2 3l-0.7 1.1l-1 1.1l-2 1.5l-2 1.1l-3.8 1.2l-5.2 1.1l-5 0.7z"/>
<path fill="#dcd6ff" d="M835 718.5l-4 0.4l-5 0.2l-8-0.5l-8-0.9l-7-1.1l-7-1.5l-16-4.1l-16-5.1l-13-4.7l-9-3.7l-21-9.1l-14-5.5l-17-5.7l-26-8.2l-13.9-4.6l-6.1-2.9l-5.2-3.1l-3.8-2.8l-2-2.2l-1-2l-0.1-3l0.8-4l1.7-5l2.1-5l2.1-4l2.3-4l2.7-4l2.9-4l4.2-5l3.8-4l3.5-3.5l8-6.7l5-3.6l4-2.6l9-5.1l6-2.8l5-2.1l10-3.3l7-1.8l5-1l10-1.4l7-0.4l5 0l11 0.5l7 1l5 0.9l5 1.1l7 2l9 3.2l6 2.7l5 2.4l5 2.8l5 3.2l7 4.9l4 3.3l4 3.5l4 3.8l3.8 4l3.5 4l4 5l4.2 6l3.1 5l2.7 5l2.9 6l2.6 6l2.4 7l1.7 6l1.5 7l1 7l0.5 7l-0.1 6l-0.5 6l-1 6l-1.1 4l-1.2 2.8l-1 1.5l-2 1.8l-2 1.2l-3 1.2l-5 1.5z"/>
<path fill="#d5ceff" d="M832 717.4l-5 0.4l-5-0.1l-7-0.4l-7-0.8l-6-1l-7-1.4l-10-2.4l-6-1.7l-16-5.1l-13-4.8l-9-3.6l-19-8.4l-14-5.5l-18-6.2l-24-7.7l-14-5l-4-1.8l-4.3-2.5l-5.4-4l-3.1-3l-0.5-1l-0.8-2l-0.2-3l0.4-3l1.7-5l1.7-4l2.1-4l3-5l2.7-4l3-4l3.4-4l3.7-4l4.2-4l4.4-3.8l5-3.8l4-2.8l5-3.1l9-4.7l5-2.3l5-1.9l10-3.2l8-1.9l5-0.8l11-1.2l10-0.2l5 0.3l7 0.7l8 1.3l5 1.1l7 1.9l6 2l5 2l6 2.7l6 3.1l5 2.9l5 3.3l4 2.9l5 4l4 3.6l5.1 4.9l4.6 5l4 5l3.7 5l3.2 5l3 5l3 6l1.9 4l2.3 6l2 6l1.9 7l1.1 6l0.9 7l0.3 7l-0.2 7l-0.7 6l-1.1 4.7l-1 2.6l-1 1.7l-2 2.4l-2 1.5l-3 1.5l-5 1.8l-4 1.1z"/>
<path fill="#cfc7ff" d="M829 716.5l-4 0.1l-7-0.1l-7-0.6l-6-0.7l-12-2.3l-9-2.2l-6-1.7l-17-5.5l-12-4.4l-8-3.2l-19.2-8.5l-12.8-5.2l-18-6.2l-21-7l-17-6.2l-4.7-2.4l-4.4-3l-4.7-4l-1-1l-1.2-1.8l-0.6-1.2l-0.6-2l-0.3-3l0.5-3.8l1.6-4.2l1.8-4l2.2-4l3.2-5l2.9-4l3.1-4l3.6-4l4-4l3.3-3l4.3-3.6l4-3l4-2.8l5-3l4-2.2l6-3l5-2.1l5-1.9l10-3l10-2l6-0.9l5-0.4l6-0.2l6 0.1l10 0.7l6 0.9l5 0.9l5 1.2l6 1.8l6 2.1l5 2l6 2.8l4 2.1l5 2.8l6 4l6 4.4l4 3.4l5 4.5l4.3 4.4l4.4 5l3.9 5l2.8 4l3.2 5l2.9 5l3 6l3 7l1.7 5l1.8 6l1.4 6l1.1 7l0.6 6l0.2 6l-0.3 6l-0.7 5l-1 4l-1.3 2.6l-2 2.8l-2 1.9l-2.4 1.7l-4.4 2l-4.2 1.5l-4 1z"/>
<path fill="#c9c0ff" d="M827 715.4l-6 0.1l-6-0.2l-6-0.5l-5-0.6l-6-1l-7-1.5l-8-2l-6-1.7l-16-5.2l-9-3.2l-10-3.9l-18-8l-13-5.4l-20-7.1l-19-6.4l-17-6.5l-5-2.5l-4-2.8l-3.9-3.6l-3-4l-1.3-3l-0.4-2l-0.1-2l0.1-2l0.5-2l1-3l1.9-4l2.2-4l2.6-4l2.9-4l3.2-4l3.6-4l4-4l3.7-3.4l8-6.3l4-2.7l5-3l4-2.2l6-2.9l5-2.1l5-1.8l10-3l5-1.1l6-1l10-1l5-0.2l6 0.1l5 0.3l7 0.7l10 1.8l9 2.4l6 2.1l5 2l6 2.7l6 3.1l5 3l5 3.3l5 3.7l5 4.2l4.7 4.3l3.9 4l3.6 4l4 5l4.3 6l3.1 5l2.8 5l3 6l2.1 5l1.8 5l1.5 5l1.8 7l1 6l0.7 6l0.3 6l-0.1 5l-0.5 4.4l-1 4.3l-1.4 3.3l-2.1 3l-2.5 2.4l-3.6 2.6l-4 2l-4.4 1.6l-4 0.9z"/>
<path fill="#c3b9ff" d="M823 714.4l-6 0l-5-0.2l-10-1.1l-7-1.3l-9-2.1l-11-3l-15-4.9l-10-3.6l-8-3.2l-18-8l-12-5l-20-7.2l-18.6-6.4l-9.4-3.6l-9-3.8l-4.6-2.6l-3.8-3l-2.1-2l-0.7-1l-3.2-5l-1.1-3l-0.3-2l-0.1-2l0.6-4l1.5-4l2-4l2.5-4l2.8-4l3.2-4l3.5-4l3.8-4l4-3.7l4-3.3l4-3.1l5-3.3l9-5.2l9-4.1l5-1.9l5-1.7l10-2.5l5-0.9l6-0.9l11-0.7l10 0.3l5 0.5l6 0.8l10 2.1l10 3l10 4l6 3l6 3.4l6 3.8l4 2.9l5 4l5 4.5l4.1 4l4.5 5l4.1 5l3.6 5l3.2 5l2.9 5l3 6l2.5 6l1.8 5l1.8 6l1.2 5l1.2 6l0.7 6l0.3 6l-0.1 5l-0.5 4l-0.8 3l-1.5 3.5l-2 3.1l-2 2.1l-2.6 2.3l-4.4 3l-4 1.7l-4 1.3l-4 0.7z"/>
<path fill="#b9aeff" d="M820 713.4l-6-0.1l-6-0.3l-6-0.7l-6-1.1l-15-3.4l-18-5.6l-9-3.1l-9-3.4l-24-10.6l-10-4.2l-36-12.8l-9.4-3.7l-9-4l-4.6-2.5l-2-1.5l-2.3-2l-2.3-3l-2.8-5l-0.8-2l-0.6-2l-0.3-2l0-2l0.7-4l1.4-4l2-3.8l2.1-3.2l2.9-4l3.2-4l3.6-4l3.2-3.2l5-4.5l4-3.2l4-3l4.9-3.1l4.1-2.5l5-2.6l5-2.3l5-2l9-3l10-2.4l5-0.8l6-0.8l10-0.5l6 0.1l5 0.3l10 1.4l5 0.9l6 1.5l10 3.2l9 3.8l6 3l5 2.9l5 3.2l6 4.4l5 4.1l4.5 4.1l4 4l4.4 5l4 5l3.5 5l3.2 5l3.3 6l2.8 6l2 5l1.8 5l2 7l1.1 5l1 6l0.6 6l0 5l-0.3 4l-0.8 4l-1.1 3l-1.6 3l-2.4 3l-3 2.8l-4 3.2l-3.3 2l-3.7 1.4l-4 1l-3 0.3z"/>
<path fill="#ada0ff" d="M820 711.4l-6 0.1l-6-0.2l-6-0.6l-6-1l-15-3.3l-20-6.2l-9-3.1l-8-3.1l-24-10.7l-9-3.7l-36-13.2l-7-3l-6.4-3l-5.8-3l-2.8-2l-1.1-1l-1.7-2l-1.3-2l-2-4l-1.2-3l-0.8-3l-0.5-4l0.1-2l0.6-3l1.9-5l2-3.7l2.3-3.3l2.4-3l3.5-4l4-4l3.8-3.5l8-6.2l4-2.7l5-3.1l8-4.1l5-2.2l5-1.9l9-2.7l10-2.2l10-1.2l10-0.4l6 0.3l5 0.4l10 1.4l10 2.4l10 3.4l9 3.9l6 3.1l5 3l5 3.3l5 3.7l5 4.2l4 3.7l4.3 4.4l3.6 4l4 5l2.8 4l3.9 6l2.8 5l2.9 6l2.1 5l2.2 6l1.7 6l1.1 5l0.9 5l0.5 5l0 4l-0.2 3l-0.8 4l-1.3 4l-1.5 2.9l-2.1 3.1l-3.7 4l-3.3 3l-3.9 2.7l-2.5 1.3l-3.5 1l-3 0.5z"/>
<path fill="#a191ff" d="M820 709.4l-6 0.3l-6 0l-6-0.5l-6-0.9l-11-2.2l-4-1l-20-6.1l-8-2.7l-8-3.1l-31-13.7l-34.8-13.1l-7-3l-6.2-3l-7.3-4l-2.8-2l-1.9-2l-1.4-2l-2.1-4l-1-3l-1-4l-0.5-3l-0.1-3l0.2-2l0.6-3l1.1-3l1.4-3l1.7-3l2.2-3l3.4-4l2.9-3l4.3-4l3.7-3l7.6-5.5l8-4.7l9-4.3l8-3.1l6-1.8l5-1.3l5-1l6-0.9l9-0.7l10-0.1l10 0.9l10 1.7l10 2.7l9 3.3l9 4.1l5 2.8l5 3l6 4.2l4 3.1l4.2 3.6l4.2 4l3.8 4l4.4 5l3.8 5l3.4 5l3 5l2.7 5l2.4 5l2 5l1.8 5l1.4 5l1 4l0.9 6l0.2 3l-0.1 4l-0.4 4l-0.7 3l-1 3l-2 4l-2.7 4l-3.3 4l-3 2.8l-3 2.3l-3 1.6l-3 1.2l-3 0.5z"/>
<path fill="#9483ff" d="M820 707.5l-6 0.5l-6 0.1l-6-0.4l-6-0.9l-11-2.1l-4-0.9l-20-6.1l-9-3l-8-3.1l-29-13l-33-12.7l-5.9-2.5l-6.1-3l-7-4l-5-3.8l-2.6-3.2l-1.1-2l-0.9-2l-0.9-3l-0.6-3l-0.5-4l0-4l0.3-3l0.4-2l1.1-3l1.4-3l1.7-3l2.1-3l2.5-3l2.8-3l3.3-3l3.6-3l4-3l4.6-3l7.8-4.5l9-4.1l5-1.9l6-1.9l9-2.2l5-0.9l6-0.7l8-0.6l10 0.2l10 1l10 2l10 2.9l8 3l9 4.3l5 2.8l5 3.2l4 2.8l5 3.9l4 3.4l4.5 4.3l3.8 4l4.2 5l3.8 5l3.3 5l3 5l2.1 4l2.4 5l2 5l1.9 5.8l1 3.8l0.9 4.4l0.4 4l0.1 4l-0.3 4l-0.7 4l-0.9 3l-1.2 3l-1.6 3l-2.5 4l-3 4l-2.2 2.2l-3 2.4l-2.2 1.4l-2.8 1.2l-4 1.1z"/>
<path fill="#8875ff" d="M811 706.4l-6 0l-5-0.5l-6-0.9l-10-1.8l-7-1.9l-22-6.7l-7-2.6l-6-2.4l-28-12.7l-13-4.9l-18.8-7.6l-6.5-3l-5.6-3l-5.7-4l-4.7-4l-1.6-2l-1.1-1.8l-0.9-2.2l-0.6-2l-0.6-3l-0.3-3l0-4l0.2-4l0.6-3l0.9-3l2.3-5l1.9-3l2.3-3l2.6-3l3-3l3.6-3l4-3l7.8-5l8.2-4.2l5-2.2l5-1.8l8-2.4l10-2.1l9-1.1l10-0.4l10 0.5l10 1.4l9 2l9 2.9l5 1.9l5 2.3l9 4.7l5 3.1l4 2.8l4 3l5 4.2l4 3.8l4 4.1l3.9 4.5l3.2 4l2.9 4.2l3.1 4.8l2.9 5.2l2.4 4.8l1.7 4l1.9 5.6l1 3.8l1 5.6l0.4 4l0 4l-0.3 4l-0.9 4l-1.3 4l-2.2 5l-2.3 4l-2.4 3.4l-2 2.2l-2 1.9l-2 1.5l-3 1.5l-4 1.3l-5 1.3l-4 0.6z"/>
<path fill="#7c66ff" d="M813 704.4l-5 0.5l-6-0.2l-7-0.9l-10-1.7l-7-1.8l-22-6.6l-7-2.5l-6-2.4l-26-11.9l-16-6.3l-15.1-6.2l-5.9-2.6l-4.5-2.4l-7.2-5l-5.8-5l-1.5-1.6l-0.9-1.4l-1.1-2l-0.7-2l-0.7-3l-0.2-3l0-4l0.5-4l0.7-4l0.9-3l1.2-3l1.6-3l1.9-3l2.4-3l4.8-5l3.4-3l2.7-2l4.4-3l3.4-2l7.8-4l4.9-2.1l5.3-1.9l8.7-2.5l10-2l9-0.9l10-0.2l9 0.5l10 1.5l9 2.2l9 2.9l9 3.8l8 4.3l5 3l4 2.8l4 2.9l4.5 3.7l4.3 4l3.9 4l3.6 4l3.2 4l5.6 8l2.9 5l2.1 4l1.9 4.5l1.6 4.5l1.4 5l0.8 4l0.5 4l0.1 4l-0.2 4l-0.6 4l-1.1 4l-1.8 5l-1.8 4l-2.4 4l-2.3 3l-2 2l-2.2 1.6l-2 1.2l-3 1.2l-4 1.3l-4 1z"/>
<path fill="#7058ff" d="M813 702.4l-5 0.7l-5 0.1l-7-0.7l-10-1.6l-7-1.6l-22-6.5l-8-2.8l-7-2.8l-24-11.2l-5-2.1l-11-4.2l-14.9-6.3l-4.4-2l-3.6-2l-3.1-2l-4.1-3l-5.7-5l-2.2-2.2l-1.4-1.8l-1-2l-0.8-2l-0.6-3l-0.3-3l0.2-3l0.5-4l0.9-4l1.2-4l1.7-4l1.7-3l2-3l2.5-3l5.1-5l6.4-5l6.6-4l8.4-4l8.2-3l9.7-2.6l10-1.7l9-0.8l9 0l10 0.9l9 1.6l9 2.3l9 3.1l9 4.1l7.4 4.1l4.6 2.9l4 2.8l7.8 6.3l4.2 4l3 3.1l4 4.5l3 3.8l5.2 7.6l2.8 5l1.9 4l1.6 4l1.4 4l1.1 4l0.8 4l0.4 4l0.1 4l-0.2 4l-0.7 4l-1.2 5l-1.6 5l-1.8 4l-1.7 3l-1.4 2l-1.8 2l-1.9 1.6l-2 1.4l-3 1.4l-4.1 1.6l-3.9 1.1z"/>
<path fill="#634aff" d="M806 701.4l-4 0.1l-5-0.3l-5-0.6l-9-1.6l-6-1.5l-18-5.3l-6-2l-11-4.3l-24.8-11.5l-14.2-5.6l-12.4-5.4l-6.1-3l-5-3l-2.9-2l-3.7-3l-3.2-3l-2.8-3l-1.7-2l-1.2-2l-0.7-2l-0.5-2l-0.3-3l0-3l0.4-3l0.9-4l1.3-4l1.6-4l1.5-3l1.8-3l2.2-3l2.7-3l5.4-5l4-3l3.1-2l7.2-4l7-3l9.3-3l9-2l9.1-1.2l9-0.4l10 0.4l9 1.1l9 1.9l10 3.1l7.8 3.1l8.1 4l8.3 5l8.1 6l6.9 6l3.9 4l2.9 3.3l3.1 3.7l2.9 4.1l3 4.8l2 3.7l2.1 4.4l1.6 4l1.3 4l1.1 4l0.6 4l0.4 4l0 4l-0.3 4l-0.5 4l-1.1 5l-1.2 4l-1.2 3l-1.8 3.4l-2 2.9l-2 2.2l-2 1.6l-3 1.6l-3 1.4l-4 1.5l-4 1.1l-4 0.8z"/>
<path fill="#573cff" d="M807 699.4l-4 0.3l-5-0.1l-7-0.7l-8-1.2l-6-1.5l-23-6.9l-11-4.2l-25-11.6l-15.2-6.1l-13.8-6.6l-6.1-3.4l-5.5-4l-5.4-5l-2.6-3l-2.3-3l-1.1-2l-0.6-2l-0.5-3l0-3l0.4-3l0.7-3l0.9-3l1.6-4l1.9-4l2.4-4l3.7-5l5.1-5l3.7-3l2.9-2l6.9-4l6.5-3l8.4-3l8.1-2l5.8-1l6.1-0.7l8-0.4l9 0.3l7.1 0.8l5.9 1l4.6 1l3.8 1l6.4 2l7.7 3l8.3 4l8.4 5l6.9 5l4.8 4l3.3 3l5.8 6.2l3.1 3.8l2.9 4l4.3 7l2 4l1.7 4l1.4 4l1.1 4l0.8 4l0.5 4l0.2 4l-0.2 5l-0.5 5l-0.7 4l-1.1 4l-1.1 3l-1.4 3l-2 2.9l-2 2.3l-2 1.6l-5.9 3.2l-3.1 1.3l-4 1.3l-3 0.8z"/>
<path fill="#4c2fff" d="M808 697.4l-5 0.5l-5 0l-6-0.5l-9-1.1l-6-1.5l-23-6.7l-6-2.2l-6-2.4l-23-10.9l-14-5.8l-15-7.4l-5.3-3l-2.9-2l-3.6-3l-4.8-5l-2.4-3l-2-3l-0.9-2l-0.5-2l-0.3-2l0.1-3l0.4-3l0.8-3l1-3l1.3-3l1.6-3l2.3-4l3.7-5l4.7-5l3.5-3l2.7-2l6.5-4l4-2l4.6-2l8.5-2.9l9-2.1l7.8-1l9.2-0.4l10 0.4l7.8 1l9.4 2l9.7 3l7.4 3l8 4l6.7 4l7 5l6.9 6l3 3l3.6 4l5.4 7l4.3 7l2.1 4l1.7 4l2.2 7l0.8 4l0.6 4l0.3 4l0 5l-0.2 4l-0.5 4l-0.9 4l-0.9 3l-1.4 3.1l-1.6 2.9l-1.5 2l-1.9 1.7l-3 2l-3 1.8l-6 2.6l-3 1z"/>
<path fill="#411eff" d="M804 696.4l-4 0.2l-4-0.1l-11-1.1l-3-0.5l-4-1l-20-5.5l-5-1.6l-6-2.2l-5.2-2.2l-6.5-3l-15.3-7.5l-14-5.9l-13.3-6.6l-5.7-3.2l-5.2-3.8l-2.2-2l-2.9-3l-2.5-3l-2.1-3l-1.7-3l-0.8-2l-0.3-2l-0.1-3l0.2-2l0.6-3l1-3l1.3-3l3.3-6l4.2-6l4.5-5l3.4-3l2.5-2l6.2-4l5.9-3l7.7-3.1l9-2.5l9-1.5l9-0.7l8 0.1l8.2 0.7l6.2 1l4.7 1l3.9 1l6.4 2l7.6 3l8.1 4l6.7 4l4.4 3l3.9 3l6.7 6l2.9 3l3.5 4l3.1 4l2.8 4l3.9 7l1.8 4l1.4 4l1.2 4l0.9 4l1 8l0.1 4l-0.1 4l-0.3 4l-0.8 4l-0.8 3l-1.1 3l-1.3 2.3l-1.8 2.7l-2.1 2l-2.8 2l-3.2 2l-3.1 1.5l-3 1.2l-3 1l-4 0.9z"/>
<path fill="#390fff" d="M808 695.6l-4 0.6l-5 0.1l-5-0.2l-10-1.1l-6-1.3l-22.6-6.3l-5.8-2l-7.4-3l-6.6-3l-15.6-7.7l-14-5.9l-13-6.5l-5.2-2.9l-3-2l-2.6-2l-2.2-2l-2.9-3l-2.5-3l-2.1-3l-1.7-3l-0.8-2l-0.4-2l-0.1-3l0.2-2l0.6-3l1.8-5l3.2-6l4.1-6l4.3-5l3.2-3l2.4-2l5.8-4l3.5-2l4.1-2l7.7-3l7.6-2.2l9-1.7l8-0.7l8-0.1l9.3 0.7l6.7 1l8.6 2l9.2 3l9.3 4l7.3 4l7.6 5l7.4 6l3.2 3l3.8 4l5.6 6.9l4.6 7.1l3.5 7l2.5 7l1 4l0.7 4l0.5 4l0.3 5l0 4l-0.3 4l-0.6 4l-0.8 3l-1 3l-1.5 3l-1.3 2l-1.8 2l-2.6 2l-3 2l-3.2 1.7l-3 1.3l-3 1.1z"/>
<path fill="#3000ff" d="M807 695.5l-4 0.5l-5 0.1l-6-0.4l-9-1l-6-1.4l-24-6.9l-5.5-2l-6.5-2.7l-7-3.3l-14-6.9l-14-5.9l-13-6.6l-4.7-2.6l-3.1-2l-2.5-2l-2.3-2l-2.9-3l-2.5-3l-2-3l-1.8-3l-0.8-2l-0.5-2l-0.1-3l0.2-2l0.6-3l1.8-5l3.2-6l4.2-6l4.3-5l2.9-2.8l2.7-2.2l5.8-4l3.6-2l4.1-2l7.7-3l7.1-2l8-1.6l8-0.8l8-0.2l9.3 0.6l7.7 1.1l8.2 1.9l9.3 3l5 2l4.3 2l7.4 4l7.5 5l7.5 6l3.2 3l3.8 4l5.7 7l4.5 7l1.6 3l2 4.4l1.4 3.6l1.2 4l0.9 4l0.7 4l0.7 8l0 4l-0.3 4l-0.7 4l-0.7 3l-1.2 3.1l-1.4 2.9l-1.6 2.2l-1.7 1.8l-2.7 2l-3.1 2l-3.5 1.8l-3 1.3l-3 1z"/>
<path fill="#2d1eff" d="M798 678.6l-3 0.4l-3 0.2l-12-0.2l-4-0.5l-6-1.5l-15-5l-8-3.1l-21-9.1l-4-1.8l-4-2.3l-11-7.1l-4-2.9l-3.4-3.3l-2.7-4l-1.4-3l-0.9-3l-0.6-5l0-3l0.4-4l0.7-2l1-2l2.1-3l4.1-4l4.7-3.5l5-2.9l5-2.2l6-2.1l7-1.6l7-1l6-0.3l6 0.2l7 0.7l6 1.2l7 2l5 1.9l7 3.2l5 2.9l6 4.1l5 4.2l5.3 5.2l4.1 5l4.1 6l3.1 6l2 5l0.9 3l0.8 4l0.2 4l-0.1 2l-0.4 2l-1.4 4l-0.9 2l-2.3 4l-3.3 4l-3.1 2.6l-4 2.3z"/>
<path fill="#2a2cff" d="M797 677.5l-3 0.5l-3 0.1l-11-0.1l-4-0.5l-6-1.5l-10-3.3l-11-4l-21-8.9l-4-1.8l-4-2.2l-11-7.1l-4.6-3.3l-3.1-3l-1.6-2l-1.3-2l-0.9-2l-1.1-3l-0.7-3l-0.2-3l0-3l0.6-4l0.5-2l0.9-2l1.4-2l1.7-2l3.4-3.2l5-3.5l5-2.7l5-2.1l6-1.9l5-1.2l7-0.9l6-0.3l7 0.2l7 0.9l5 1l7 2l6 2.3l6 2.9l4 2.2l6 4.1l5 4.1l5.3 5.1l4.2 5l4.1 6l2.7 5l2.4 6l1.2 5l0.5 4l-0.1 2l-0.3 2l-1.5 5l-1.4 3l-1.7 3l-3.2 4l-3.2 2.7l-2 1.3l-2 1z"/>
<path fill="#273cff" d="M795 676.5l-6 0.5l-10-0.2l-4-0.6l-5-1.2l-12-4l-11-4.2l-19-8l-4-1.9l-4-2.4l-10-6.5l-4.8-3.6l-3-3l-1.4-2l-1.2-2l-0.9-2l-0.9-3l-0.5-3l-0.1-3l0.2-3l0.7-4l0.7-2l1-2l2.4-3l3.8-3.5l5-3.3l5-2.6l6-2.3l6-1.6l6-1.1l5-0.5l6-0.1l6 0.3l7 1l5 1l7 2.2l5 1.9l6 3l5 2.9l6 4.3l5 4.3l4.1 4.1l4.1 5l3.4 5l3.1 6l1.9 5l1.2 5l0.2 3l0 2l-0.9 4l-1.7 5l-1.6 3l-1.2 2l-1.6 2l-1.9 2l-3.1 2.3l-2 1.1l-2 0.8z"/>
<path fill="#2349ff" d="M793 675.4l-5 0.3l-10-0.2l-4-0.6l-5-1.3l-11-3.6l-13-5.1l-16-6.8l-4-1.9l-3.1-1.8l-10.6-7l-4-3l-3.3-3.1l-1.4-1.9l-1.2-2l-0.9-2l-1-3l-0.5-3l-0.1-3l0.3-3l0.6-3l0.9-3l0.9-2l2.4-3l3.3-3l4.7-3.2l5-2.6l5-1.9l6-1.7l6-1.1l6-0.6l6-0.1l6 0.4l7 1.1l5 1.1l6 1.9l5 2l6 3l5 2.9l5 3.6l5 4.2l4.9 5l4 5l3.2 5l2.5 5l1.9 5l1 5l0 4l-0.5 3l-0.8 3l-2.1 5l-2.5 4l-2.7 3l-1.9 1.5l-2 1.2l-2 1l-2 0.6z"/>
<path fill="#1f57ff" d="M795 673.6l-3 0.4l-3 0.2l-11-0.1l-4-0.4l-4-0.9l-6-1.9l-6-2.1l-13-5l-14-5.9l-5-2.5l-3-1.8l-10-6.7l-4.6-3.5l-3-3l-1.5-2l-1.1-2l-1.1-3l-0.5-2l-0.3-3l0-3l0.5-3l0.7-3l1.1-3l1.1-2l2.7-3l3.7-3l4.3-2.6l4-1.9l5-1.8l5-1.4l6-1.1l6-0.5l6 0l6 0.5l6 0.9l5 1.2l6 1.9l5 2l5 2.5l5 2.9l5 3.5l4.7 3.9l4 4l4.2 5l3.4 5l2.7 5l1.9 5l0.9 4l0.2 2l-0.1 2l-0.8 5l-1.5 5l-2 4l-2.6 3.3l-3 2.8l-3 1.8z"/>
<path fill="#1b65ff" d="M793 672.5l-6 0.5l-10-0.2l-4-0.5l-5-1.2l-10-3.3l-15-5.9l-12-5.1l-6.2-3.4l-10.3-7l-4-3l-3.5-3.4l-1.2-1.6l-1.2-2l-0.8-2l-0.8-3l-0.3-3l0-3l0.5-3l0.9-3l1.2-3l1-2l2.6-3l3.1-2.6l4.1-2.4l4.9-2.3l6-2l5-1.1l6-0.8l5-0.3l6 0.1l5 0.5l6 1.1l5 1.2l6 2l5 2.2l5 2.6l5 3l5 3.8l4 3.5l4.4 4.5l3.2 4l2.6 4l2.7 5l1.5 4l0.9 4l0.1 4l-0.4 3l-0.5 3l-1.3 4l-2.2 4.3l-1.1 1.7l-1.7 2l-3.2 2.5l-3 1.6z"/>
<path fill="#1773ff" d="M786 671.4l-10-0.2l-4-0.5l-7-1.8l-11-3.8l-15-6.1l-9-4.2l-3-1.7l-12.7-8.7l-3.6-3l-2.7-3l-1.2-2l-0.9-2l-0.9-4l-0.2-4l0.7-4l0.9-3l0.8-2l2.3-4l3-3l2.8-2l3.7-2.1l5-2.1l5-1.5l6-1.2l5-0.5l6-0.1l5 0.2l6 0.8l5 1.1l6 1.7l5 2l5 2.3l5 2.8l5.2 3.6l4.8 4l4 3.9l3.5 4.1l2.8 4l2.7 5l1.5 4l0.9 4l0.1 4l-0.6 5l-1.4 5l-1.9 4l-2.6 3.3l-3 2.6l-3 1.6l-4 1z"/>
<path fill="#1382ff" d="M791 669.4l-6 0.5l-11-0.3l-5-0.8l-7-2.1l-15-5.6l-13-5.6l-5-2.7l-10.9-7.4l-5.1-4l-2.8-3l-1.8-3l-0.8-2l-0.5-2l-0.3-4l0.2-2l0.6-3l1-3l0.9-2l2.5-4l0.8-1l2.1-2l2.9-2l3.9-2l4.3-1.7l5-1.4l5-0.9l5-0.5l5-0.1l5 0.2l6 0.8l5 1.1l5 1.4l5 1.9l5 2.3l5 2.8l4 2.6l4 3.1l3.8 3.4l2.9 3l3.2 4l2.6 4l2.1 4l1.4 4l0.5 3l0.1 5l-0.6 5l-1.1 4l-1.9 4l-2.2 3l-2.8 2.4l-3 1.6z"/>
<path fill="#0f8fff" d="M791 667.5l-5 0.7l-6 0l-8-0.4l-5-1l-9-2.8l-13-5l-9-4l-3.1-1.6l-2.9-1.8l-10-6.8l-4-3.1l-3.3-3.3l-2-3l-0.8-2l-0.7-3l-0.2-2l0.2-3l0.4-2l1-3l1.4-2.9l1.3-2.1l2.3-3l2.2-2l3-2l4.2-2l4-1.4l5-1.2l5-0.7l5-0.3l5 0.1l6 0.6l5 0.9l5 1.3l5 1.8l5 2.1l4 2.1l4.5 2.7l4.1 3l3.6 3l3 3l3.5 4l2.7 4l1.7 3l1.5 4l0.6 3l0.4 5l-0.1 4l-0.8 4l-0.6 2l-1.1 2.5l-2.2 3.5l-2.8 2.6l-3 1.6z"/>
<path fill="#0c9eff" d="M785 666.4l-6 0l-9-0.5l-6-1.3l-8-2.6l-11.6-4.6l-8.4-4l-3.4-2l-11.7-8l-3.7-3l-2.8-3l-1.8-3l-0.9-3l-0.3-2l0-2l0.7-4l1.5-4l2.4-3.9l2.7-3.1l2.2-2l3.3-2l3.8-1.7l4.6-1.3l4.4-0.9l5-0.5l5-0.1l5 0.3l5 0.7l5 1.1l5 1.4l5 2l4.3 2l4.7 2.7l4 2.7l4 3.2l3.6 3.4l3.4 4l2.7 4l1.6 3l1 3l1 5l0.3 4l-0.2 4l-0.9 4l-1.6 4l-2.1 3l-2.2 2l-2.6 1.4l-4 1.2z"/>
<path fill="#09abff" d="M787 664.4l-4 0.3l-6-0.1l-8-0.5l-4-0.8l-7-2.1l-9-3.3l-8-3.5l-5.4-3l-9.6-6.4l-4.9-3.6l-3.3-3l-2.3-3l-0.9-2l-0.6-2l-0.2-2l0-2l0.2-2.2l0.9-2.8l0.8-2l1.3-2.3l2.1-2.7l2.9-3l2.5-2l3.5-2l3-1.1l4-1.1l4.9-0.8l4.1-0.3l4-0.1l5 0.4l5 0.7l5 1.2l5 1.6l4 1.6l5 2.5l4.1 2.4l4.2 3l3.5 3l3 3l3.2 4l1.9 3l1.3 3l1.3 4l0.7 4l0.3 4l-0.3 4l-0.9 4l-1.4 3l-2.2 3l-2.5 2l-3.2 1.3z"/>
<path fill="#06baff" d="M786 662.4l-5 0.4l-6-0.2l-8-0.7l-5-1.1l-7-2.2l-8.1-3.2l-6.1-3l-5.8-3.6l-8-5.3l-4.1-3.1l-3.1-3l-2.1-3l-1.1-3l-0.2-2l0-2l0.3-2l0.5-2l0.9-2l1.1-2l2.3-3l2.5-2.5l3-2.4l3-1.8l3.2-1.3l3.6-1l3.2-0.6l4-0.4l5 0l4 0.2l5 0.8l4.4 1l4.6 1.4l4 1.6l4.2 2l4.8 2.8l3.1 2.2l3.6 3l3 3l2.5 3l1.8 3l1.9 4l1.3 4l0.8 4l0.2 4l-0.3 4l-0.8 3l-1.4 3l-1.7 2.1l-2.2 1.9l-2.8 1.3z"/>
<path fill="#04c8ff" d="M784 660.5l-5 0.3l-6-0.3l-8-0.9l-5.3-1.2l-6-2l-7.1-3l-4.6-2.4l-8-5l-5.4-3.6l-3.8-3l-3-3l-1.9-3l-0.8-3l0-3l0.3-2l0.6-2l1.6-3l2.4-3l2-2l3-2.3l2.9-1.7l3.1-1.5l3-1l3-0.6l4-0.5l4 0l4 0.2l4 0.5l5 1.1l4 1.2l4.1 1.6l4.2 2l3.7 2.2l4 2.8l2.4 2l3 3l2.3 3l1.9 3l1.9 4l1.4 4l0.8 4l0.2 4l-0.3 3l-0.8 3l-1.5 3l-1.7 2l-1.6 1.2l-3 1.3z"/>
<path fill="#02d6ff" d="M782 658.4l-5 0.2l-7-0.5l-7-1.2l-6-1.5l-5.5-2l-4.5-2.1l-6-3.3l-5.9-3.6l-4.4-3l-3.7-3l-2.8-3l-1.2-2l-0.9-3l0-3l0.7-3l1.5-3l1.6-2l2.1-2.2l2.3-1.8l3.3-2l3.4-1.5l3-1l3-0.8l4-0.5l3-0.1l4 0.3l4 0.5l4 0.9l3.8 1.2l3.2 1.2l3.7 1.8l3.5 2l2.9 2l3.4 3l2.8 3l2.3 3l1.8 3l1.9 4l1.3 4l0.6 3l0.2 3l-0.3 3l-0.9 3l-1.2 2.2l-1.4 1.8l-1.6 1.2l-3 1.2z"/>
<path fill="#01e4ff" d="M783 655.6l-4 0.7l-4 0l-6-0.5l-6-1.1l-5-1.4l-5-1.7l-5-2.2l-6-3.2l-6-3.7l-4-2.8l-2.7-2.3l-2.5-3l-1.1-2l-0.6-3l0.4-3l1.2-3l1.3-2l1.8-2l2.2-1.9l2-1.3l3-1.5l3-1.2l3-0.8l3-0.5l6-0.4l3 0.2l4 0.6l3.4 0.8l3.6 1.2l3 1.3l3 1.5l3 1.9l3 2.2l3 2.7l2 2.2l2.3 3l1.9 3l1.5 3l1 3l0.7 3l0.2 3l-0.2 3l-0.6 2l-0.9 2l-1.6 2l-2.3 1.5z"/>
<path fill="#00f2ff" d="M780 653.4l-4 0.5l-4-0.1l-5-0.7l-5-1l-5-1.5l-5-1.9l-5-2.3l-5-2.7l-4-2.5l-3.8-2.8l-3.1-3l-1.4-2l-0.9-2l-0.2-2l0.4-3l0.9-2l1.4-2l1.7-1.9l2-1.5l2-1.2l2-1l3-1.1l3-0.7l3-0.4l3-0.2l3 0.1l6 0.9l3 0.8l3 1l5 2.5l2.8 1.7l2.6 2l2.3 2l2.3 2.5l1.9 2.5l1.9 3l1.2 2.6l0.9 2.4l0.6 3l0.1 2l-0.3 3l-0.6 2l-1.2 2l-1.5 1.4l-2 1z"/>
<path fill="#00fcff" d="M779 650.4l-3 0.6l-3 0.2l-4-0.3l-5-0.8l-4-1l-5-1.7l-4.8-2l-4.2-2.1l-4-2.4l-3.6-2.5l-2.4-2l-1.8-2l-1.2-2l-0.5-2l0-1l0.3-2l0.8-2l1.4-2l1.1-1l1.9-1.5l2-1.2l4-1.5l5-0.9l5-0.1l5 0.7l5 1.4l5 2.3l3 1.8l2 1.5l3.8 3.5l3.2 4.1l1.6 2.9l0.8 2l0.5 2l0.3 2l0 2l-0.3 2l-0.9 1.9l-0.7 1.1l-1.3 1z"/></g>
<ellipse cx="737" cy="700.2" rx="116.9" ry="117.6" fill="none" stroke="#f0408f" stroke-opacity="0.9" stroke-width="1"/>
<rect x="568.3" y="529.4" width="337.4" height="341.8" fill="none" stroke="#444" stroke-width="1.3"/>
<path d="M568.3 537.94h4.53M905.7 537.94h-4.53M576.73 529.4v3.5M576.73 871.2v-3.5M568.3 546.49h4.53M905.7 546.49h-4.53M585.17 529.4v3.5M585.17 871.2v-3.5M568.3 555.03h4.53M905.7 555.03h-4.53M593.61 529.4v3.5M593.61 871.2v-3.5M568.3 563.58h4.53M905.7 563.58h-4.53M602.04 529.4v3.5M602.04 871.2v-3.5M568.3 572.12h4.53M905.7 572.12h-4.53M610.47 529.4v3.5M610.47 871.2v-3.5M568.3 580.67h4.53M905.7 580.67h-4.53M618.91 529.4v3.5M618.91 871.2v-3.5M568.3 589.22h4.53M905.7 589.22h-4.53M627.35 529.4v3.5M627.35 871.2v-3.5M568.3 597.76h4.53M905.7 597.76h-4.53M635.78 529.4v3.5M635.78 871.2v-3.5M568.3 606.3h4.53M905.7 606.3h-4.53M644.21 529.4v3.5M644.21 871.2v-3.5M568.3 614.85h7.41M905.7 614.85h-7.41M652.65 529.4v7M652.65 871.2v-7M568.3 623.39h4.53M905.7 623.39h-4.53M661.09 529.4v3.5M661.09 871.2v-3.5M568.3 631.94h4.53M905.7 631.94h-4.53M669.52 529.4v3.5M669.52 871.2v-3.5M568.3 640.49h4.53M905.7 640.49h-4.53M677.95 529.4v3.5M677.95 871.2v-3.5M568.3 649.03h4.53M905.7 649.03h-4.53M686.39 529.4v3.5M686.39 871.2v-3.5M568.3 657.58h4.53M905.7 657.58h-4.53M694.83 529.4v3.5M694.83 871.2v-3.5M568.3 666.12h4.53M905.7 666.12h-4.53M703.26 529.4v3.5M703.26 871.2v-3.5M568.3 674.66h4.53M905.7 674.66h-4.53M711.69 529.4v3.5M711.69 871.2v-3.5M568.3 683.21h4.53M905.7 683.21h-4.53M720.13 529.4v3.5M720.13 871.2v-3.5M568.3 691.75h4.53M905.7 691.75h-4.53M728.57 529.4v3.5M728.57 871.2v-3.5M568.3 700.3h7.41M905.7 700.3h-7.41M737 529.4v7M737 871.2v-7M568.3 708.85h4.53M905.7 708.85h-4.53M745.43 529.4v3.5M745.43 871.2v-3.5M568.3 717.39h4.53M905.7 717.39h-4.53M753.87 529.4v3.5M753.87 871.2v-3.5M568.3 725.93h4.53M905.7 725.93h-4.53M762.31 529.4v3.5M762.31 871.2v-3.5M568.3 734.48h4.53M905.7 734.48h-4.53M770.74 529.4v3.5M770.74 871.2v-3.5M568.3 743.03h4.53M905.7 743.03h-4.53M779.17 529.4v3.5M779.17 871.2v-3.5M568.3 751.57h4.53M905.7 751.57h-4.53M787.61 529.4v3.5M787.61 871.2v-3.5M568.3 760.12h4.53M905.7 760.12h-4.53M796.05 529.4v3.5M796.05 871.2v-3.5M568.3 768.66h4.53M905.7 768.66h-4.53M804.48 529.4v3.5M804.48 871.2v-3.5M568.3 777.21h4.53M905.7 777.21h-4.53M812.91 529.4v3.5M812.91 871.2v-3.5M568.3 785.75h7.41M905.7 785.75h-7.41M821.35 529.4v7M821.35 871.2v-7M568.3 794.3h4.53M905.7 794.3h-4.53M829.79 529.4v3.5M829.79 871.2v-3.5M568.3 802.84h4.53M905.7 802.84h-4.53M838.22 529.4v3.5M838.22 871.2v-3.5M568.3 811.38h4.53M905.7 811.38h-4.53M846.65 529.4v3.5M846.65 871.2v-3.5M568.3 819.93h4.53M905.7 819.93h-4.53M855.09 529.4v3.5M855.09 871.2v-3.5M568.3 828.48h4.53M905.7 828.48h-4.53M863.53 529.4v3.5M863.53 871.2v-3.5M568.3 837.02h4.53M905.7 837.02h-4.53M871.96 529.4v3.5M871.96 871.2v-3.5M568.3 845.57h4.53M905.7 845.57h-4.53M880.39 529.4v3.5M880.39 871.2v-3.5M568.3 854.11h4.53M905.7 854.11h-4.53M888.83 529.4v3.5M888.83 871.2v-3.5M568.3 862.65h4.53M905.7 862.65h-4.53M897.27 529.4v3.5M897.27 871.2v-3.5" stroke="#444" stroke-width="1" fill="none"/>
<rect x="999.3" y="529.5" width="25.5" height="341.7" fill="url(#cb)" stroke="#000" stroke-opacity="0.55" stroke-width="1.2"/>
<text x="561.6" y="546.5" font-size="16.5" text-anchor="end" fill="#000" font-family='"Liberation Sans", sans-serif' >0.2</text>
<text x="560.8" y="629.3" font-size="16.5" text-anchor="end" fill="#000" font-family='"Liberation Sans", sans-serif' >0.1</text>
<text x="560.8" y="708.6" font-size="16.5" text-anchor="end" fill="#000" font-family='"Liberation Sans", sans-serif' >0.0</text>
<text x="560.8" y="797.5" font-size="16.5" text-anchor="end" fill="#000" font-family='"Liberation Sans", sans-serif' >-0.1</text>
<text x="562.8" y="871.2" font-size="16.5" text-anchor="end" fill="#000" font-family='"Liberation Sans", sans-serif' >-0.2</text>
<text x="654.3" y="896.3" font-size="16.5" text-anchor="middle" fill="#000" font-family='"Liberation Sans", sans-serif' >4.9</text>
<text x="741.4" y="896.3" font-size="16.5" text-anchor="middle" fill="#000" font-family='"Liberation Sans", sans-serif' >5.0</text>
<text x="827.9" y="896.3" font-size="16.5" text-anchor="middle" fill="#000" font-family='"Liberation Sans", sans-serif' >5.1</text>
<text x="993.5" y="609.8" font-size="16.5" text-anchor="end" fill="#000" font-family='"Liberation Sans", sans-serif' >0.02</text>
<text x="993.5" y="708.4" font-size="16.5" text-anchor="end" fill="#000" font-family='"Liberation Sans", sans-serif' >0.00</text>
<text x="993.5" y="803.7" font-size="16.5" text-anchor="end" fill="#000" font-family='"Liberation Sans", sans-serif' >-0.02</text>
<path d="M999.3 603.8h2.2M1024.8 603.8h-2.2M999.3 702.4h2.2M1024.8 702.4h-2.2M999.3 797.7h2.2M1024.8 797.7h-2.2" stroke="#000" stroke-opacity="0.5" stroke-width="0.9" fill="none"/>
<text x="735.6" y="523.74" text-anchor="middle" font-size="20.01" fill="#2e2e2e" stroke="#2e2e2e" stroke-width="0.55" font-family='"Liberation Serif", serif' font-style="italic" filter="url(#bl)">ψ</text>
<text font-family='"Liberation Serif", serif' font-style="italic" font-weight="bold" fill="#454545" filter="url(#bl)" stroke="#454545" stroke-width="0.35" ><tspan x="716.82" y="914.6" font-size="15.88">R</tspan><tspan x="733.62" y="915.22" font-size="16.68">(</tspan><tspan x="740.01" y="914.6" font-size="15.88">L</tspan><tspan x="748.09" y="917.28" font-size="10.48">0</tspan><tspan x="756.72" y="915.22" font-size="16.68">)</tspan></text>
<g transform="translate(945.8 718.1) rotate(-90)"><text font-family='"Liberation Serif", serif' font-style="italic" font-weight="bold" fill="#454545" filter="url(#bl)" stroke="#454545" stroke-width="0.35" ><tspan x="0.14" y="0" font-size="15.47">B</tspan><tspan x="10.57" y="2.48" font-size="10.21">0</tspan><tspan x="18.26" y="0" font-size="15.47">L</tspan><tspan x="26.46" y="2.48" font-size="10.21">0</tspan></text></g>
<text transform="translate(735.56 973.6) scale(0.92 1)" font-size="38.15" font-family='"Liberation Serif", serif'>(</text>
<text transform="translate(747.76 973.6) scale(1.16 1)" font-size="34.6" font-family='"Liberation Serif", serif'>d</text>
<text transform="translate(768.88 973.6) scale(0.92 1)" font-size="38.15" font-family='"Liberation Serif", serif'>)</text>
<path d="M504 388.3h10M1018 392.8h9M1018.3 392.8v1.6M1018.5 905.8h8.5M1018.8 905.8v5.2" stroke="#e3e3e3" stroke-width="1.2" fill="none"/>
<path d="M13.5 8v381" stroke="#f6f6f6" stroke-width="1" fill="none"/>
</svg>
</body></html>
